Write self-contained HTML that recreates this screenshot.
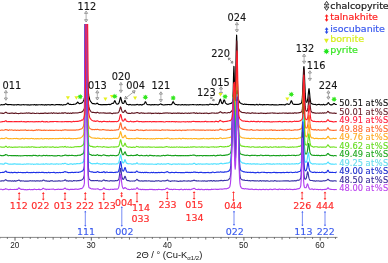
<!DOCTYPE html>
<html><head><meta charset="utf-8"><style>
html,body{margin:0;padding:0;background:#fff;}
body{width:388px;height:263px;overflow:hidden;position:relative;}
svg{position:absolute;left:0;top:0;}
.hk{font-family:"DejaVu Sans",sans-serif;font-size:9.8px;fill:#151515;stroke:#151515;stroke-width:0.12px;}
.lb{font-family:"DejaVu Sans",sans-serif;font-size:8.3px;}
.lg{font-family:"DejaVu Sans",sans-serif;font-size:9.5px;}
.rl{font-family:"DejaVu Sans",sans-serif;font-size:9.5px;fill:#ff2a2a;stroke:#ff2a2a;stroke-width:0.15px;}
.bl{font-family:"DejaVu Sans",sans-serif;font-size:9.5px;fill:#3a5aee;stroke:#3a5aee;stroke-width:0.15px;}
.ax{font-family:"Liberation Sans",sans-serif;font-size:8.2px;fill:#222;}
.xl{font-family:"Liberation Sans",sans-serif;font-size:9.4px;fill:#111;}
</style></head><body>
<svg width="388" height="263" viewBox="0 0 388 263">
<defs><clipPath id="c"><rect x="0" y="24" width="340" height="200"/></clipPath></defs>
<g clip-path="url(#c)" fill="none" stroke-width="1.15" stroke-linejoin="round">
<polyline stroke="#000000" points="0.0,104.89 0.4,105.01 0.8,104.96 1.2,104.79 1.6,104.66 2.0,104.73 2.4,104.77 2.8,104.84 3.2,104.67 3.6,104.70 4.0,104.67 4.4,104.71 4.8,104.40 5.2,104.09 5.6,103.82 6.0,103.91 6.4,104.18 6.8,104.38 7.2,104.57 7.6,104.65 8.0,104.56 8.4,104.55 8.8,104.62 9.2,104.58 9.6,104.46 10.0,104.51 10.4,104.57 10.8,104.51 11.2,104.54 11.6,104.74 12.0,104.85 12.4,104.77 12.8,104.72 13.2,104.82 13.6,104.86 14.0,104.85 14.4,104.89 14.8,104.91 15.2,104.78 15.6,104.71 16.0,104.78 16.4,104.92 16.8,104.82 17.2,104.69 17.6,104.56 18.0,104.52 18.4,104.56 18.8,104.71 19.2,104.79 19.6,104.85 20.0,104.93 20.4,105.02 20.8,104.94 21.2,104.94 21.6,104.81 22.0,104.77 22.4,104.79 22.8,104.76 23.2,104.68 23.6,104.67 24.0,104.84 24.4,104.81 24.8,104.80 25.2,104.77 25.6,104.75 26.0,104.77 26.4,104.77 26.8,104.85 27.2,104.78 27.6,104.85 28.0,104.90 28.4,104.91 28.8,104.86 29.2,104.93 29.6,105.09 30.0,104.94 30.4,104.82 30.8,104.79 31.2,104.89 31.6,104.73 32.0,104.77 32.4,104.73 32.8,104.79 33.2,104.84 33.6,104.83 34.0,104.69 34.4,104.53 34.8,104.64 35.2,104.82 35.6,105.10 36.0,104.96 36.4,104.71 36.8,104.64 37.2,104.92 37.6,105.02 38.0,104.88 38.4,104.75 38.8,104.75 39.2,104.78 39.6,104.70 40.0,104.71 40.4,104.78 40.8,104.82 41.2,104.77 41.6,104.64 42.0,104.59 42.4,104.71 42.8,104.84 43.2,104.73 43.6,104.71 44.0,104.83 44.4,105.08 44.8,105.02 45.2,104.90 45.6,104.61 46.0,104.68 46.4,104.98 46.8,105.06 47.2,104.82 47.6,104.68 48.0,104.71 48.4,104.70 48.8,104.64 49.2,104.72 49.6,104.83 50.0,104.88 50.4,104.91 50.8,104.82 51.2,104.80 51.6,104.59 52.0,104.45 52.4,104.50 52.8,104.67 53.2,104.79 53.6,104.80 54.0,104.94 54.4,104.98 54.8,105.00 55.2,104.89 55.6,104.75 56.0,104.60 56.4,104.57 56.8,104.54 57.2,104.54 57.6,104.58 58.0,104.69 58.4,104.72 58.8,104.56 59.2,104.50 59.6,104.58 60.0,104.81 60.4,104.88 60.8,104.80 61.2,104.63 61.6,104.73 62.0,104.90 62.4,105.05 62.8,105.08 63.2,104.96 63.6,104.77 64.0,104.67 64.4,104.76 64.8,104.76 65.2,104.72 65.6,104.65 66.0,104.43 66.4,104.24 66.8,103.96 67.2,103.67 67.6,103.21 68.0,103.05 68.4,103.36 68.8,103.87 69.2,104.21 69.6,104.39 70.0,104.44 70.4,104.44 70.8,104.42 71.2,104.48 71.6,104.51 72.0,104.57 72.4,104.45 72.8,104.45 73.2,104.39 73.6,104.37 74.0,104.27 74.4,104.26 74.8,104.29 75.2,104.22 75.6,104.07 76.0,103.79 76.4,103.60 76.8,103.22 77.2,102.55 77.6,102.09 78.0,102.23 78.4,102.93 78.8,103.31 79.2,103.60 79.6,103.61 80.0,103.58 80.4,103.42 80.8,103.36 81.2,103.35 81.6,103.12 82.0,102.83 82.4,102.47 82.8,102.00 83.2,101.34 83.6,100.57 84.0,99.43 84.4,97.98 84.8,95.83 85.2,92.77 85.6,88.46 86.0,83.10 86.4,60.65 86.8,22.00 87.2,60.45 87.6,83.01 88.0,88.58 88.4,92.81 88.8,95.69 89.2,97.76 89.6,99.22 90.0,100.38 90.4,101.06 90.8,101.59 91.2,102.03 91.6,102.57 92.0,103.14 92.4,103.46 92.8,103.62 93.2,103.66 93.6,103.61 94.0,103.60 94.4,103.79 94.8,103.97 95.2,104.00 95.6,104.03 96.0,103.93 96.4,103.58 96.8,103.27 97.2,103.18 97.6,103.37 98.0,103.76 98.4,104.23 98.8,104.44 99.2,104.47 99.6,104.51 100.0,104.63 100.4,104.68 100.8,104.61 101.2,104.60 101.6,104.71 102.0,104.85 102.4,104.73 102.8,104.60 103.2,104.67 103.6,104.77 104.0,104.67 104.4,104.67 104.8,104.61 105.2,104.62 105.6,104.55 106.0,104.55 106.4,104.57 106.8,104.66 107.2,104.64 107.6,104.55 108.0,104.53 108.4,104.44 108.8,104.30 109.2,104.37 109.6,104.56 110.0,104.59 110.4,104.49 110.8,104.33 111.2,104.05 111.6,103.76 112.0,103.43 112.4,103.37 112.8,103.48 113.2,103.42 113.6,102.93 114.0,102.17 114.4,101.24 114.8,100.68 115.2,101.16 115.6,102.25 116.0,103.23 116.4,103.74 116.8,104.05 117.2,104.02 117.6,104.12 118.0,104.05 118.4,103.78 118.8,103.15 119.2,102.24 119.6,100.82 120.0,98.83 120.4,97.29 120.6,97.34 120.8,97.65 121.2,99.08 121.6,100.75 122.0,102.36 122.4,103.13 122.8,103.43 123.2,103.50 123.6,103.33 124.0,102.74 124.4,101.55 124.8,100.49 125.0,100.46 125.2,100.70 125.6,101.61 126.0,102.61 126.4,103.56 126.8,104.18 127.2,104.45 127.6,104.49 128.0,104.48 128.4,104.73 128.8,104.97 129.2,104.74 129.6,104.45 130.0,104.37 130.4,104.62 130.8,104.66 131.2,104.86 131.6,104.94 132.0,105.00 132.4,104.88 132.8,104.79 133.2,104.75 133.6,104.84 134.0,104.91 134.4,104.84 134.8,104.82 135.2,104.84 135.6,104.83 136.0,104.67 136.4,104.60 136.8,104.56 137.2,104.41 137.6,104.48 138.0,104.66 138.4,104.84 138.8,104.82 139.2,104.84 139.6,104.87 140.0,104.60 140.4,104.47 140.8,104.53 141.2,104.85 141.6,105.02 142.0,105.07 142.4,104.83 142.8,104.42 143.2,104.26 143.6,104.26 144.0,104.16 144.4,103.54 144.8,102.70 145.2,101.79 145.6,101.79 146.0,102.52 146.4,103.47 146.8,104.08 147.2,104.44 147.6,104.57 148.0,104.62 148.4,104.72 148.8,104.78 149.2,104.75 149.6,104.64 150.0,104.74 150.4,104.84 150.8,104.92 151.2,104.85 151.6,104.81 152.0,104.66 152.4,104.63 152.8,104.72 153.2,104.83 153.6,104.73 154.0,104.62 154.4,104.59 154.8,104.81 155.2,104.72 155.6,104.66 156.0,104.57 156.4,104.76 156.8,104.71 157.2,104.75 157.6,104.85 158.0,104.93 158.4,104.89 158.8,104.76 159.2,104.59 159.6,104.41 160.0,104.18 160.4,103.96 160.8,103.90 161.2,104.11 161.6,104.45 162.0,104.63 162.4,104.67 162.8,104.75 163.2,104.90 163.6,105.03 164.0,104.98 164.4,104.89 164.8,104.74 165.2,104.67 165.6,104.75 166.0,104.82 166.4,104.71 166.8,104.60 167.2,104.51 167.6,104.60 168.0,104.55 168.4,104.52 168.8,104.50 169.2,104.61 169.6,104.56 170.0,104.55 170.4,104.74 170.8,104.74 171.2,104.62 171.6,104.27 172.0,103.83 172.4,102.95 172.8,102.05 173.2,101.71 173.6,102.27 174.0,103.16 174.4,103.74 174.8,104.05 175.2,104.28 175.6,104.50 176.0,104.57 176.4,104.53 176.8,104.53 177.2,104.76 177.6,104.93 178.0,104.90 178.4,104.73 178.8,104.66 179.2,104.70 179.6,104.72 180.0,104.77 180.4,104.96 180.8,105.02 181.2,104.89 181.6,104.80 182.0,104.66 182.4,104.61 182.8,104.54 183.2,104.83 183.6,104.98 184.0,105.03 184.4,104.82 184.8,104.57 185.2,104.55 185.6,104.77 186.0,104.93 186.4,104.87 186.8,104.83 187.2,104.77 187.6,104.74 188.0,104.85 188.4,104.99 188.8,104.89 189.2,104.84 189.6,104.72 190.0,104.68 190.4,104.74 190.8,104.78 191.2,104.79 191.6,104.74 192.0,104.64 192.4,104.52 192.8,104.52 193.2,104.68 193.6,104.63 194.0,104.75 194.4,104.72 194.8,104.79 195.2,104.70 195.6,104.70 196.0,104.77 196.4,104.87 196.8,104.84 197.2,104.64 197.6,104.69 198.0,104.83 198.4,104.89 198.8,104.80 199.2,104.68 199.6,104.59 200.0,104.51 200.4,104.62 200.8,104.75 201.2,104.75 201.6,104.75 202.0,104.82 202.4,104.89 202.8,104.90 203.2,104.84 203.6,104.78 204.0,104.74 204.4,104.77 204.8,104.83 205.2,104.71 205.6,104.77 206.0,104.72 206.4,104.74 206.8,104.54 207.2,104.61 207.6,104.75 208.0,104.94 208.4,104.94 208.8,104.68 209.2,104.40 209.6,104.19 210.0,104.06 210.4,104.07 210.8,104.21 211.2,104.42 211.6,104.52 212.0,104.54 212.4,104.49 212.8,104.40 213.2,104.52 213.6,104.65 214.0,104.75 214.4,104.79 214.8,104.66 215.2,104.50 215.6,104.43 216.0,104.43 216.4,104.36 216.8,104.41 217.2,104.58 217.6,104.63 218.0,104.44 218.4,104.07 218.8,103.55 219.2,102.58 219.6,101.13 220.0,99.64 220.4,99.22 220.8,100.19 221.2,101.61 221.6,102.84 222.0,103.52 222.4,103.63 222.8,103.28 223.2,102.33 223.6,100.99 224.0,99.89 224.4,99.98 224.8,101.03 225.2,102.16 225.6,103.04 226.0,103.60 226.4,103.85 226.8,104.00 227.2,104.20 227.6,104.31 228.0,104.32 228.4,104.22 228.8,104.08 229.2,103.86 229.6,103.71 230.0,103.73 230.4,103.58 230.8,103.53 231.2,103.36 231.6,102.99 232.0,102.49 232.4,101.98 232.8,99.85 233.2,90.85 233.6,73.40 233.9,66.35 234.0,66.84 234.4,80.58 234.8,92.96 235.2,95.30 235.6,89.90 236.0,69.97 236.4,40.70 236.6,35.15 236.7,36.50 236.8,40.66 237.0,54.51 237.2,70.51 237.6,91.13 238.0,97.33 238.4,99.25 238.8,100.42 239.2,101.34 239.6,102.19 240.0,102.74 240.4,103.05 240.8,103.28 241.2,103.53 241.6,103.70 242.0,103.90 242.4,104.03 242.8,104.14 243.2,104.34 243.6,104.45 244.0,104.29 244.4,104.07 244.8,104.13 245.2,104.27 245.6,104.39 246.0,104.28 246.4,104.33 246.8,104.27 247.2,104.47 247.6,104.50 248.0,104.54 248.4,104.44 248.8,104.62 249.2,104.58 249.6,104.53 250.0,104.47 250.4,104.63 250.8,104.69 251.2,104.68 251.6,104.64 252.0,104.60 252.4,104.67 252.8,104.67 253.2,104.64 253.6,104.59 254.0,104.65 254.4,104.88 254.8,104.90 255.2,104.83 255.6,104.79 256.0,104.71 256.4,104.47 256.8,104.28 257.2,104.45 257.6,104.79 258.0,104.97 258.4,105.03 258.8,104.85 259.2,104.60 259.6,104.28 260.0,104.38 260.4,104.67 260.8,104.72 261.2,104.69 261.6,104.63 262.0,104.74 262.4,104.84 262.8,104.91 263.2,104.68 263.6,104.63 264.0,104.66 264.4,104.76 264.8,104.65 265.2,104.74 265.6,104.74 266.0,104.78 266.4,104.64 266.8,104.64 267.2,104.56 267.6,104.55 268.0,104.54 268.4,104.73 268.8,104.69 269.2,104.80 269.6,104.80 270.0,104.76 270.4,104.71 270.8,104.92 271.2,105.00 271.6,104.79 272.0,104.64 272.4,104.63 272.8,104.65 273.2,104.78 273.6,104.91 274.0,104.91 274.4,104.81 274.8,104.79 275.2,104.83 275.6,104.89 276.0,104.87 276.4,104.78 276.8,104.91 277.2,105.02 277.6,104.95 278.0,104.91 278.4,104.93 278.8,104.81 279.2,104.68 279.6,104.65 280.0,104.65 280.4,104.63 280.8,104.71 281.2,104.68 281.6,104.59 282.0,104.56 282.4,104.70 282.8,104.72 283.2,104.67 283.6,104.73 284.0,104.80 284.4,104.87 284.8,104.85 285.2,104.84 285.6,104.51 286.0,104.28 286.4,104.16 286.8,104.04 287.2,103.80 287.6,103.87 288.0,104.17 288.4,104.32 288.8,104.38 289.2,104.32 289.6,104.11 290.0,103.47 290.4,102.73 290.8,101.76 291.2,100.81 291.6,100.92 292.0,101.97 292.4,103.13 292.8,103.77 293.2,104.02 293.6,104.23 294.0,104.33 294.4,104.41 294.8,104.33 295.2,104.35 295.6,104.43 296.0,104.54 296.4,104.52 296.8,104.35 297.2,104.26 297.6,104.37 298.0,104.45 298.4,104.43 298.8,104.28 299.2,104.17 299.6,104.08 300.0,103.87 300.4,103.81 300.8,103.61 301.2,103.32 301.6,102.61 302.0,101.00 302.4,96.93 302.8,89.04 303.2,78.23 303.6,68.93 303.7,67.70 303.8,66.91 303.9,66.64 304.0,66.81 304.4,73.05 304.8,83.63 305.2,93.16 305.6,98.96 306.0,101.45 306.4,102.21 306.8,102.08 307.2,101.47 307.6,99.97 308.0,97.09 308.4,92.99 308.8,89.33 309.0,88.67 309.2,89.45 309.6,93.42 310.0,97.73 310.4,100.71 310.8,102.63 311.2,103.46 311.6,103.60 312.0,103.66 312.4,103.99 312.8,104.24 313.2,104.30 313.6,104.27 314.0,104.45 314.4,104.48 314.8,104.43 315.2,104.29 315.6,104.55 316.0,104.83 316.4,105.01 316.8,104.83 317.2,104.73 317.6,104.53 318.0,104.51 318.4,104.42 318.8,104.45 319.2,104.38 319.6,104.48 320.0,104.64 320.4,104.77 320.8,104.82 321.2,104.70 321.6,104.67 322.0,104.68 322.4,104.82 322.8,104.74 323.2,104.48 323.6,104.31 324.0,104.60 324.4,104.90 324.8,104.87 325.2,104.74 325.6,104.75 326.0,104.76 326.4,104.58 326.8,104.38 327.2,104.07 327.6,103.58 328.0,102.90 328.4,102.59 328.8,103.03 329.2,103.75 329.6,104.25 330.0,104.51 330.4,104.80 330.8,104.89 331.2,104.90 331.6,104.87 332.0,104.84 332.4,104.63 332.8,104.35 333.2,104.13 333.6,103.73 334.0,103.43 334.4,103.54 334.8,103.85 335.2,104.24 335.6,104.50 336.0,104.54 336.4,104.46 336.8,104.55"/>
<polyline stroke="#5e1620" points="0.0,113.00 0.4,113.02 0.8,113.11 1.2,113.24 1.6,113.17 2.0,113.19 2.4,113.19 2.8,113.41 3.2,113.47 3.6,113.41 4.0,113.23 4.4,113.05 4.8,112.92 5.2,112.61 5.6,112.36 6.0,112.30 6.4,112.60 6.8,112.83 7.2,113.18 7.6,113.28 8.0,113.30 8.4,113.21 8.8,113.32 9.2,113.35 9.6,113.36 10.0,113.39 10.4,113.26 10.8,113.17 11.2,113.05 11.6,113.15 12.0,113.10 12.4,113.08 12.8,113.07 13.2,113.28 13.6,113.44 14.0,113.44 14.4,113.44 14.8,113.35 15.2,113.11 15.6,112.95 16.0,113.04 16.4,113.29 16.8,113.52 17.2,113.47 17.6,113.48 18.0,113.53 18.4,113.67 18.8,113.49 19.2,113.54 19.6,113.54 20.0,113.42 20.4,113.23 20.8,113.14 21.2,113.17 21.6,113.20 22.0,113.31 22.4,113.31 22.8,113.24 23.2,113.28 23.6,113.24 24.0,113.33 24.4,113.16 24.8,113.20 25.2,113.12 25.6,113.21 26.0,113.16 26.4,113.04 26.8,112.91 27.2,112.99 27.6,113.23 28.0,113.22 28.4,113.00 28.8,112.87 29.2,113.00 29.6,113.13 30.0,113.12 30.4,113.20 30.8,113.36 31.2,113.48 31.6,113.34 32.0,113.23 32.4,113.18 32.8,113.14 33.2,113.17 33.6,113.25 34.0,113.30 34.4,113.32 34.8,113.42 35.2,113.51 35.6,113.49 36.0,113.50 36.4,113.32 36.8,113.16 37.2,113.20 37.6,113.27 38.0,113.26 38.4,113.23 38.8,113.41 39.2,113.53 39.6,113.56 40.0,113.43 40.4,113.37 40.8,113.37 41.2,113.36 41.6,113.38 42.0,113.41 42.4,113.35 42.8,113.31 43.2,113.30 43.6,113.37 44.0,113.18 44.4,113.14 44.8,113.06 45.2,113.08 45.6,112.94 46.0,113.15 46.4,113.31 46.8,113.41 47.2,113.34 47.6,113.37 48.0,113.36 48.4,113.19 48.8,113.16 49.2,113.13 49.6,113.26 50.0,113.28 50.4,113.20 50.8,112.98 51.2,112.88 51.6,113.06 52.0,113.27 52.4,113.37 52.8,113.16 53.2,112.87 53.6,112.77 54.0,112.95 54.4,113.11 54.8,113.18 55.2,113.21 55.6,113.15 56.0,113.03 56.4,113.06 56.8,113.18 57.2,113.24 57.6,113.39 58.0,113.43 58.4,113.38 58.8,113.14 59.2,113.10 59.6,113.15 60.0,113.28 60.4,113.30 60.8,113.27 61.2,113.24 61.6,113.10 62.0,112.77 62.4,112.90 62.8,113.23 63.2,113.42 63.6,113.06 64.0,112.80 64.4,112.83 64.8,112.74 65.2,112.70 65.6,112.80 66.0,113.13 66.4,113.25 66.8,113.22 67.2,113.38 67.6,113.31 68.0,113.13 68.4,112.96 68.8,113.19 69.2,113.31 69.6,113.33 70.0,113.20 70.4,113.07 70.8,113.08 71.2,113.29 71.6,113.49 72.0,113.35 72.4,113.09 72.8,112.86 73.2,112.86 73.6,113.00 74.0,113.14 74.4,113.03 74.8,112.94 75.2,112.93 75.6,113.02 76.0,112.98 76.4,112.94 76.8,112.95 77.2,112.95 77.6,112.94 78.0,112.81 78.4,112.77 78.8,112.72 79.2,112.54 79.6,112.44 80.0,112.41 80.4,112.53 80.8,112.41 81.2,112.26 81.6,112.05 82.0,111.86 82.4,111.57 82.8,111.08 83.2,110.75 83.6,110.17 84.0,109.37 84.4,108.13 84.8,106.53 85.2,103.84 85.6,99.47 86.0,92.72 86.4,34.34 86.8,22.00 87.2,34.37 87.6,92.63 88.0,99.25 88.4,103.65 88.8,106.40 89.2,108.33 89.6,109.53 90.0,110.22 90.4,110.75 90.8,111.32 91.2,111.84 91.6,112.15 92.0,112.31 92.4,112.28 92.8,112.33 93.2,112.42 93.6,112.42 94.0,112.45 94.4,112.54 94.8,112.67 95.2,112.66 95.6,112.80 96.0,112.88 96.4,112.86 96.8,112.55 97.2,112.29 97.6,112.25 98.0,112.52 98.4,112.76 98.8,112.87 99.2,112.99 99.6,113.11 100.0,113.05 100.4,112.93 100.8,112.89 101.2,112.98 101.6,112.95 102.0,112.94 102.4,112.98 102.8,113.04 103.2,112.90 103.6,112.71 104.0,112.73 104.4,112.93 104.8,113.13 105.2,113.19 105.6,113.06 106.0,113.10 106.4,113.21 106.8,113.32 107.2,113.24 107.6,113.14 108.0,113.06 108.4,113.07 108.8,113.25 109.2,113.30 109.6,113.02 110.0,112.84 110.4,112.94 110.8,113.28 111.2,113.38 111.6,113.52 112.0,113.58 112.4,113.60 112.8,113.47 113.2,113.25 113.6,113.15 114.0,113.17 114.4,113.22 114.8,113.17 115.2,113.17 115.6,113.16 116.0,113.06 116.4,113.00 116.8,113.01 117.2,112.96 117.6,112.94 118.0,112.70 118.4,112.44 118.8,111.89 119.2,111.16 119.6,109.97 120.0,108.51 120.4,107.22 120.6,106.98 120.8,107.30 121.2,108.54 121.6,110.13 122.0,111.21 122.4,111.97 122.8,112.30 123.2,112.44 123.6,112.29 124.0,111.90 124.4,111.20 124.8,110.52 125.0,110.38 125.2,110.43 125.6,111.04 126.0,111.79 126.4,112.56 126.8,112.86 127.2,113.13 127.6,113.12 128.0,113.31 128.4,113.32 128.8,113.37 129.2,113.30 129.6,113.35 130.0,113.43 130.4,113.52 130.8,113.44 131.2,113.19 131.6,112.84 132.0,112.81 132.4,113.02 132.8,113.28 133.2,113.31 133.6,113.21 134.0,113.12 134.4,113.08 134.8,113.13 135.2,113.04 135.6,112.99 136.0,112.80 136.4,112.70 136.8,112.49 137.2,112.56 137.6,112.64 138.0,112.76 138.4,112.88 138.8,112.97 139.2,113.25 139.6,113.34 140.0,113.31 140.4,113.08 140.8,113.04 141.2,112.90 141.6,112.89 142.0,113.05 142.4,113.13 142.8,113.11 143.2,113.03 143.6,113.12 144.0,113.17 144.4,113.31 144.8,113.35 145.2,113.27 145.6,113.27 146.0,113.24 146.4,113.29 146.8,113.30 147.2,113.32 147.6,113.17 148.0,113.14 148.4,113.13 148.8,113.11 149.2,112.99 149.6,113.13 150.0,113.24 150.4,113.12 150.8,113.06 151.2,113.31 151.6,113.64 152.0,113.54 152.4,113.33 152.8,113.25 153.2,113.37 153.6,113.38 154.0,113.24 154.4,113.20 154.8,113.29 155.2,113.27 155.6,113.13 156.0,113.13 156.4,113.25 156.8,113.31 157.2,113.36 157.6,113.41 158.0,113.35 158.4,113.18 158.8,113.15 159.2,113.31 159.6,113.58 160.0,113.55 160.4,113.39 160.8,113.35 161.2,113.50 161.6,113.52 162.0,113.44 162.4,113.28 162.8,113.26 163.2,113.18 163.6,113.19 164.0,113.15 164.4,113.17 164.8,113.01 165.2,112.91 165.6,112.97 166.0,113.10 166.4,113.04 166.8,112.92 167.2,112.92 167.6,113.05 168.0,113.07 168.4,113.08 168.8,113.08 169.2,113.11 169.6,113.00 170.0,113.01 170.4,113.05 170.8,113.30 171.2,113.38 171.6,113.38 172.0,113.18 172.4,113.33 172.8,113.33 173.2,113.28 173.6,113.10 174.0,113.15 174.4,113.17 174.8,113.31 175.2,113.25 175.6,113.18 176.0,113.26 176.4,113.37 176.8,113.30 177.2,113.12 177.6,112.95 178.0,112.91 178.4,113.13 178.8,113.32 179.2,113.15 179.6,113.05 180.0,113.14 180.4,113.35 180.8,113.42 181.2,113.39 181.6,113.32 182.0,113.13 182.4,113.18 182.8,113.23 183.2,113.43 183.6,113.45 184.0,113.41 184.4,113.28 184.8,113.14 185.2,112.99 185.6,112.96 186.0,113.09 186.4,113.17 186.8,113.20 187.2,113.24 187.6,113.34 188.0,113.23 188.4,113.06 188.8,113.06 189.2,113.23 189.6,113.35 190.0,113.24 190.4,113.16 190.8,113.16 191.2,113.15 191.6,113.00 192.0,113.02 192.4,112.99 192.8,113.01 193.2,112.87 193.6,112.89 194.0,112.72 194.4,112.82 194.8,113.03 195.2,113.30 195.6,113.38 196.0,113.32 196.4,112.99 196.8,112.87 197.2,113.12 197.6,113.47 198.0,113.40 198.4,113.25 198.8,113.20 199.2,113.11 199.6,113.02 200.0,112.98 200.4,113.23 200.8,113.29 201.2,113.40 201.6,113.34 202.0,113.22 202.4,113.23 202.8,113.25 203.2,113.34 203.6,113.34 204.0,113.40 204.4,113.21 204.8,113.14 205.2,113.24 205.6,113.21 206.0,113.02 206.4,112.99 206.8,113.17 207.2,113.26 207.6,113.31 208.0,113.38 208.4,113.52 208.8,113.57 209.2,113.54 209.6,113.32 210.0,113.23 210.4,113.23 210.8,113.31 211.2,113.13 211.6,112.96 212.0,112.87 212.4,112.96 212.8,113.01 213.2,113.00 213.6,112.96 214.0,113.10 214.4,113.17 214.8,113.17 215.2,113.22 215.6,113.25 216.0,113.25 216.4,113.09 216.8,113.08 217.2,113.06 217.6,113.13 218.0,113.03 218.4,112.86 218.8,112.67 219.2,112.42 219.6,112.17 220.0,111.89 220.4,111.70 220.8,111.92 221.2,112.28 221.6,112.70 222.0,112.82 222.4,112.80 222.8,112.85 223.2,112.99 223.6,113.00 224.0,112.73 224.4,112.63 224.8,112.65 225.2,112.73 225.6,112.81 226.0,113.01 226.4,113.00 226.8,112.98 227.2,112.96 227.6,112.90 228.0,112.57 228.4,112.45 228.8,112.51 229.2,112.71 229.6,112.68 230.0,112.53 230.4,112.29 230.8,111.91 231.2,111.52 231.6,111.03 232.0,110.73 232.4,109.99 232.8,107.91 233.2,103.36 233.6,95.61 233.9,89.94 234.0,88.44 234.4,87.83 234.8,93.63 235.2,98.73 235.6,94.90 236.0,76.20 236.4,49.59 236.6,41.81 236.7,40.75 236.8,41.86 237.0,50.12 237.2,63.41 237.6,89.77 238.0,103.27 238.4,107.57 238.8,108.93 239.2,109.78 239.6,110.53 240.0,111.20 240.4,111.61 240.8,111.76 241.2,111.89 241.6,112.14 242.0,112.45 242.4,112.56 242.8,112.49 243.2,112.55 243.6,112.60 244.0,112.75 244.4,112.63 244.8,112.74 245.2,112.73 245.6,112.93 246.0,113.08 246.4,113.27 246.8,113.11 247.2,112.87 247.6,112.75 248.0,112.90 248.4,113.05 248.8,113.14 249.2,113.12 249.6,113.15 250.0,113.21 250.4,113.32 250.8,113.31 251.2,113.24 251.6,112.99 252.0,112.85 252.4,112.80 252.8,112.88 253.2,112.99 253.6,113.16 254.0,113.24 254.4,113.15 254.8,113.04 255.2,113.09 255.6,113.10 256.0,113.16 256.4,113.20 256.8,113.26 257.2,113.29 257.6,113.29 258.0,113.26 258.4,113.34 258.8,113.37 259.2,113.38 259.6,113.27 260.0,113.23 260.4,113.12 260.8,113.06 261.2,113.09 261.6,113.10 262.0,113.11 262.4,113.21 262.8,113.29 263.2,113.37 263.6,113.33 264.0,113.39 264.4,113.27 264.8,113.23 265.2,113.38 265.6,113.55 266.0,113.57 266.4,113.40 266.8,113.38 267.2,113.23 267.6,113.10 268.0,113.08 268.4,113.26 268.8,113.30 269.2,113.23 269.6,113.14 270.0,113.16 270.4,113.08 270.8,112.98 271.2,112.98 271.6,112.98 272.0,112.97 272.4,112.94 272.8,113.00 273.2,113.08 273.6,113.13 274.0,113.19 274.4,113.10 274.8,113.06 275.2,113.11 275.6,113.24 276.0,113.26 276.4,113.23 276.8,113.23 277.2,113.28 277.6,113.37 278.0,113.36 278.4,113.33 278.8,113.26 279.2,113.27 279.6,113.14 280.0,113.13 280.4,113.21 280.8,113.29 281.2,113.24 281.6,113.22 282.0,113.15 282.4,113.14 282.8,113.03 283.2,113.05 283.6,112.95 284.0,113.02 284.4,113.11 284.8,113.22 285.2,113.19 285.6,113.17 286.0,113.19 286.4,113.17 286.8,113.10 287.2,113.23 287.6,113.36 288.0,113.40 288.4,113.19 288.8,113.14 289.2,113.05 289.6,113.12 290.0,113.03 290.4,113.23 290.8,113.14 291.2,113.22 291.6,113.20 292.0,113.18 292.4,113.00 292.8,113.08 293.2,113.33 293.6,113.20 294.0,112.98 294.4,112.82 294.8,112.84 295.2,112.82 295.6,113.04 296.0,113.17 296.4,113.14 296.8,112.94 297.2,112.95 297.6,113.01 298.0,112.92 298.4,112.89 298.8,112.76 299.2,112.67 299.6,112.52 300.0,112.63 300.4,112.51 300.8,112.25 301.2,111.97 301.6,111.68 302.0,111.01 302.4,108.91 302.8,102.64 303.2,89.55 303.6,74.57 303.7,72.04 303.8,70.49 303.9,69.76 304.0,70.14 304.4,81.18 304.8,96.68 305.2,106.17 305.6,109.67 306.0,110.80 306.4,111.14 306.8,111.15 307.2,110.75 307.6,109.71 308.0,107.38 308.4,103.69 308.8,99.16 309.0,97.41 309.2,96.78 309.6,99.19 310.0,103.66 310.4,107.56 310.8,110.13 311.2,111.45 311.6,112.00 312.0,112.24 312.4,112.63 312.8,112.77 313.2,112.81 313.6,112.58 314.0,112.65 314.4,112.87 314.8,113.07 315.2,113.14 315.6,113.03 316.0,113.16 316.4,113.20 316.8,113.12 317.2,113.02 317.6,113.04 318.0,113.16 318.4,113.15 318.8,113.20 319.2,113.17 319.6,113.10 320.0,112.94 320.4,113.00 320.8,113.12 321.2,113.23 321.6,113.13 322.0,112.97 322.4,112.82 322.8,112.98 323.2,113.13 323.6,113.14 324.0,112.93 324.4,112.92 324.8,112.93 325.2,113.01 325.6,113.01 326.0,112.93 326.4,112.74 326.8,112.45 327.2,112.05 327.6,111.52 328.0,111.35 328.4,111.68 328.8,112.24 329.2,112.54 329.6,112.89 330.0,112.99 330.4,112.94 330.8,112.81 331.2,112.97 331.6,113.06 332.0,113.20 332.4,113.22 332.8,113.17 333.2,113.02 333.6,113.20 334.0,113.30 334.4,113.16 334.8,113.05 335.2,113.26 335.6,113.46 336.0,113.39 336.4,113.27 336.8,113.22"/>
<polyline stroke="#ff6a2a" points="0.0,130.30 0.4,130.34 0.8,130.25 1.2,130.18 1.6,129.98 2.0,130.03 2.4,130.08 2.8,130.26 3.2,130.28 3.6,130.25 4.0,130.22 4.4,130.05 4.8,129.93 5.2,129.63 5.6,129.46 6.0,129.55 6.4,129.76 6.8,129.86 7.2,129.88 7.6,130.05 8.0,130.36 8.4,130.42 8.8,130.17 9.2,129.89 9.6,129.85 10.0,129.94 10.4,130.02 10.8,130.08 11.2,130.05 11.6,129.92 12.0,129.98 12.4,130.02 12.8,130.22 13.2,130.34 13.6,130.33 14.0,130.17 14.4,130.11 14.8,130.24 15.2,130.16 15.6,130.09 16.0,130.21 16.4,130.38 16.8,130.36 17.2,130.22 17.6,130.14 18.0,130.16 18.4,130.24 18.8,130.32 19.2,130.30 19.6,130.35 20.0,130.20 20.4,130.12 20.8,130.07 21.2,130.20 21.6,130.13 22.0,130.09 22.4,130.14 22.8,130.24 23.2,130.26 23.6,130.16 24.0,130.17 24.4,130.20 24.8,130.04 25.2,129.91 25.6,129.93 26.0,130.18 26.4,130.37 26.8,130.34 27.2,130.37 27.6,130.34 28.0,130.41 28.4,130.23 28.8,130.15 29.2,130.22 29.6,130.30 30.0,130.29 30.4,130.28 30.8,130.45 31.2,130.36 31.6,130.18 32.0,130.08 32.4,130.34 32.8,130.58 33.2,130.60 33.6,130.43 34.0,130.32 34.4,130.42 34.8,130.37 35.2,130.34 35.6,130.23 36.0,130.01 36.4,129.79 36.8,129.90 37.2,130.20 37.6,130.14 38.0,129.92 38.4,129.87 38.8,129.83 39.2,129.92 39.6,130.10 40.0,130.14 40.4,130.06 40.8,130.06 41.2,130.37 41.6,130.37 42.0,130.34 42.4,130.23 42.8,130.29 43.2,130.34 43.6,130.32 44.0,130.13 44.4,130.12 44.8,130.16 45.2,130.40 45.6,130.41 46.0,130.35 46.4,130.17 46.8,130.21 47.2,130.23 47.6,130.20 48.0,130.26 48.4,130.46 48.8,130.49 49.2,130.23 49.6,130.17 50.0,130.19 50.4,130.43 50.8,130.43 51.2,130.49 51.6,130.21 52.0,130.16 52.4,130.20 52.8,130.36 53.2,130.30 53.6,130.38 54.0,130.48 54.4,130.46 54.8,130.20 55.2,130.11 55.6,130.24 56.0,130.27 56.4,130.24 56.8,130.09 57.2,130.22 57.6,130.26 58.0,130.35 58.4,130.32 58.8,130.28 59.2,130.24 59.6,130.30 60.0,130.26 60.4,130.20 60.8,130.44 61.2,130.58 61.6,130.47 62.0,130.12 62.4,130.12 62.8,130.07 63.2,130.18 63.6,130.14 64.0,130.02 64.4,129.93 64.8,129.90 65.2,129.87 65.6,129.85 66.0,129.90 66.4,130.03 66.8,130.09 67.2,130.13 67.6,130.15 68.0,130.08 68.4,130.13 68.8,129.98 69.2,130.12 69.6,130.15 70.0,130.24 70.4,130.05 70.8,130.06 71.2,130.09 71.6,130.11 72.0,130.14 72.4,130.14 72.8,130.09 73.2,130.03 73.6,130.15 74.0,130.16 74.4,130.10 74.8,130.01 75.2,130.06 75.6,130.15 76.0,130.08 76.4,129.92 76.8,129.80 77.2,129.88 77.6,129.98 78.0,129.97 78.4,129.85 78.8,129.77 79.2,129.63 79.6,129.41 80.0,129.20 80.4,129.18 80.8,129.11 81.2,128.93 81.6,128.80 82.0,128.48 82.4,128.02 82.8,127.42 83.2,126.78 83.6,125.63 84.0,123.77 84.4,117.83 84.8,40.09 85.2,22.00 85.6,22.00 86.0,22.00 86.4,22.00 86.8,22.00 87.2,76.29 87.6,105.43 88.0,118.14 88.4,124.64 88.8,126.76 89.2,127.61 89.6,128.08 90.0,128.44 90.4,128.78 90.8,128.93 91.2,129.14 91.6,129.47 92.0,129.70 92.4,129.65 92.8,129.43 93.2,129.51 93.6,129.46 94.0,129.63 94.4,129.69 94.8,129.68 95.2,129.51 95.6,129.43 96.0,129.48 96.4,129.57 96.8,129.54 97.2,129.33 97.6,129.24 98.0,129.46 98.4,129.56 98.8,129.72 99.2,129.88 99.6,129.91 100.0,129.90 100.4,129.85 100.8,129.96 101.2,130.00 101.6,130.03 102.0,129.83 102.4,129.62 102.8,129.63 103.2,129.68 103.6,129.68 104.0,129.72 104.4,129.77 104.8,129.88 105.2,129.92 105.6,130.00 106.0,130.07 106.4,130.05 106.8,130.15 107.2,130.13 107.6,130.19 108.0,130.04 108.4,130.13 108.8,130.15 109.2,130.28 109.6,130.37 110.0,130.28 110.4,130.37 110.8,130.39 111.2,130.33 111.6,129.97 112.0,130.10 112.4,130.38 112.8,130.47 113.2,130.30 113.6,130.29 114.0,130.30 114.4,130.17 114.8,130.05 115.2,130.10 115.6,130.14 116.0,130.01 116.4,129.94 116.8,129.82 117.2,129.75 117.6,129.74 118.0,129.82 118.4,129.63 118.8,129.07 119.2,128.22 119.6,126.77 120.0,124.76 120.4,123.19 120.6,122.79 120.8,122.91 121.2,124.49 121.6,126.70 122.0,128.23 122.4,128.93 122.8,129.27 123.2,129.47 123.6,129.23 124.0,128.57 124.4,127.65 124.8,127.03 125.0,127.03 125.2,127.19 125.6,127.97 126.0,128.76 126.4,129.36 126.8,129.61 127.2,129.76 127.6,129.93 128.0,130.06 128.4,130.05 128.8,129.96 129.2,129.95 129.6,130.06 130.0,130.17 130.4,130.35 130.8,130.23 131.2,130.11 131.6,130.20 132.0,130.31 132.4,130.37 132.8,130.39 133.2,130.31 133.6,130.23 134.0,130.23 134.4,130.39 134.8,130.41 135.2,130.38 135.6,130.23 136.0,130.02 136.4,129.81 136.8,129.67 137.2,129.49 137.6,129.73 138.0,129.92 138.4,130.17 138.8,130.16 139.2,130.23 139.6,130.21 140.0,130.20 140.4,130.07 140.8,129.98 141.2,130.10 141.6,130.19 142.0,130.10 142.4,130.17 142.8,130.42 143.2,130.60 143.6,130.45 144.0,130.34 144.4,130.29 144.8,130.34 145.2,130.31 145.6,130.12 146.0,129.99 146.4,129.90 146.8,130.11 147.2,130.22 147.6,130.27 148.0,130.18 148.4,130.22 148.8,130.27 149.2,130.21 149.6,130.06 150.0,130.13 150.4,130.21 150.8,130.23 151.2,130.04 151.6,130.04 152.0,130.09 152.4,130.22 152.8,130.20 153.2,130.17 153.6,130.10 154.0,130.25 154.4,130.18 154.8,130.18 155.2,130.17 155.6,130.18 156.0,130.13 156.4,130.12 156.8,130.16 157.2,130.11 157.6,130.19 158.0,130.30 158.4,130.27 158.8,130.16 159.2,130.18 159.6,130.32 160.0,130.42 160.4,130.43 160.8,130.45 161.2,130.29 161.6,130.05 162.0,129.76 162.4,129.92 162.8,129.93 163.2,130.02 163.6,130.07 164.0,130.15 164.4,130.05 164.8,129.98 165.2,130.14 165.6,130.08 166.0,130.01 166.4,129.97 166.8,129.99 167.2,129.88 167.6,129.95 168.0,130.09 168.4,130.16 168.8,130.10 169.2,130.16 169.6,130.19 170.0,130.24 170.4,130.23 170.8,130.33 171.2,130.25 171.6,130.20 172.0,130.16 172.4,130.26 172.8,130.34 173.2,130.36 173.6,130.38 174.0,130.46 174.4,130.52 174.8,130.34 175.2,130.04 175.6,130.02 176.0,130.12 176.4,130.23 176.8,130.18 177.2,130.29 177.6,130.40 178.0,130.33 178.4,130.19 178.8,130.11 179.2,130.08 179.6,130.09 180.0,130.15 180.4,130.26 180.8,130.41 181.2,130.57 181.6,130.59 182.0,130.37 182.4,130.14 182.8,130.13 183.2,130.20 183.6,130.26 184.0,130.14 184.4,130.16 184.8,130.35 185.2,130.41 185.6,130.32 186.0,130.15 186.4,130.21 186.8,130.14 187.2,129.95 187.6,129.87 188.0,129.98 188.4,130.06 188.8,130.01 189.2,129.95 189.6,129.98 190.0,130.06 190.4,130.01 190.8,129.96 191.2,130.01 191.6,130.14 192.0,130.06 192.4,129.95 192.8,129.93 193.2,130.01 193.6,129.82 194.0,129.73 194.4,129.72 194.8,129.94 195.2,130.06 195.6,130.11 196.0,130.03 196.4,129.99 196.8,130.14 197.2,130.18 197.6,130.05 198.0,129.93 198.4,130.01 198.8,130.24 199.2,130.27 199.6,130.17 200.0,130.08 200.4,130.11 200.8,130.06 201.2,130.02 201.6,130.06 202.0,130.16 202.4,130.19 202.8,130.09 203.2,130.02 203.6,129.97 204.0,130.12 204.4,130.31 204.8,130.40 205.2,130.41 205.6,130.31 206.0,130.22 206.4,130.00 206.8,130.02 207.2,130.04 207.6,130.13 208.0,130.16 208.4,130.18 208.8,130.07 209.2,130.01 209.6,130.05 210.0,130.13 210.4,130.18 210.8,130.19 211.2,130.14 211.6,130.22 212.0,130.36 212.4,130.35 212.8,130.12 213.2,129.99 213.6,130.03 214.0,130.18 214.4,130.40 214.8,130.39 215.2,130.27 215.6,130.07 216.0,130.07 216.4,130.04 216.8,129.96 217.2,130.01 217.6,130.08 218.0,130.21 218.4,130.09 218.8,129.98 219.2,129.80 219.6,129.50 220.0,129.09 220.4,129.04 220.8,129.40 221.2,129.56 221.6,129.57 222.0,129.60 222.4,129.73 222.8,129.93 223.2,130.01 223.6,130.14 224.0,130.06 224.4,129.97 224.8,129.91 225.2,130.03 225.6,130.15 226.0,130.16 226.4,130.15 226.8,130.08 227.2,129.76 227.6,129.50 228.0,129.40 228.4,129.50 228.8,129.52 229.2,129.36 229.6,129.27 230.0,129.25 230.4,129.15 230.8,128.84 231.2,128.38 231.6,127.83 232.0,126.56 232.4,123.25 232.8,115.87 233.2,103.57 233.6,90.15 233.9,84.37 234.0,83.92 234.4,89.36 234.8,101.34 235.2,110.89 235.6,111.70 236.0,102.06 236.4,85.72 236.6,78.05 236.7,75.11 236.8,72.71 237.0,70.69 237.2,72.75 237.6,86.51 238.0,104.33 238.4,117.17 238.8,123.59 239.2,126.08 239.6,127.23 240.0,127.68 240.4,127.98 240.8,128.31 241.2,128.67 241.6,128.76 242.0,128.90 242.4,129.07 242.8,129.31 243.2,129.38 243.6,129.39 244.0,129.40 244.4,129.54 244.8,129.66 245.2,129.66 245.6,129.71 246.0,129.74 246.4,129.86 246.8,129.79 247.2,129.86 247.6,129.87 248.0,129.95 248.4,129.98 248.8,130.05 249.2,130.07 249.6,130.05 250.0,129.94 250.4,129.89 250.8,129.76 251.2,129.64 251.6,129.63 252.0,129.83 252.4,130.12 252.8,130.24 253.2,130.32 253.6,130.21 254.0,130.16 254.4,130.19 254.8,130.27 255.2,130.25 255.6,130.18 256.0,130.07 256.4,129.95 256.8,129.84 257.2,129.93 257.6,130.03 258.0,130.07 258.4,130.06 258.8,130.06 259.2,130.17 259.6,130.33 260.0,130.43 260.4,130.27 260.8,129.99 261.2,130.09 261.6,130.26 262.0,130.25 262.4,130.14 262.8,130.04 263.2,130.03 263.6,129.96 264.0,130.06 264.4,130.01 264.8,130.19 265.2,130.27 265.6,130.32 266.0,130.16 266.4,130.07 266.8,129.96 267.2,130.00 267.6,130.20 268.0,130.24 268.4,130.22 268.8,130.14 269.2,130.19 269.6,130.01 270.0,130.00 270.4,129.99 270.8,130.10 271.2,129.84 271.6,129.76 272.0,129.89 272.4,130.31 272.8,130.38 273.2,130.21 273.6,130.08 274.0,130.18 274.4,130.18 274.8,130.11 275.2,130.07 275.6,130.16 276.0,130.25 276.4,130.42 276.8,130.46 277.2,130.43 277.6,130.31 278.0,130.30 278.4,130.19 278.8,130.29 279.2,130.32 279.6,130.45 280.0,130.26 280.4,130.26 280.8,130.23 281.2,130.26 281.6,130.12 282.0,130.01 282.4,130.15 282.8,130.36 283.2,130.42 283.6,130.27 284.0,130.13 284.4,129.96 284.8,129.78 285.2,129.79 285.6,129.94 286.0,130.00 286.4,130.07 286.8,130.17 287.2,130.26 287.6,130.06 288.0,129.95 288.4,129.98 288.8,130.01 289.2,129.83 289.6,129.95 290.0,130.19 290.4,130.29 290.8,130.24 291.2,130.32 291.6,130.36 292.0,130.24 292.4,130.20 292.8,130.28 293.2,130.28 293.6,130.16 294.0,130.07 294.4,129.87 294.8,129.79 295.2,129.77 295.6,129.95 296.0,129.92 296.4,129.95 296.8,129.95 297.2,129.93 297.6,129.86 298.0,129.83 298.4,129.75 298.8,129.74 299.2,129.54 299.6,129.42 300.0,129.30 300.4,129.17 300.8,128.85 301.2,128.63 301.6,128.28 302.0,127.16 302.4,123.24 302.8,112.75 303.2,94.43 303.6,80.57 303.7,80.00 303.8,80.73 303.9,82.69 304.0,85.70 304.4,104.26 304.8,119.23 305.2,125.67 305.6,127.54 306.0,128.00 306.4,128.03 306.8,127.99 307.2,127.43 307.6,125.98 308.0,123.21 308.4,119.27 308.8,115.59 309.0,114.99 309.2,115.62 309.6,119.31 310.0,123.38 310.4,126.42 310.8,128.16 311.2,129.07 311.6,129.37 312.0,129.47 312.4,129.47 312.8,129.62 313.2,129.69 313.6,129.83 314.0,129.92 314.4,129.92 314.8,129.63 315.2,129.45 315.6,129.68 316.0,130.00 316.4,130.13 316.8,130.01 317.2,130.04 317.6,129.92 318.0,129.75 318.4,129.60 318.8,129.77 319.2,130.02 319.6,130.20 320.0,130.19 320.4,130.03 320.8,130.03 321.2,130.07 321.6,130.14 322.0,130.08 322.4,130.06 322.8,130.00 323.2,129.95 323.6,129.89 324.0,129.94 324.4,130.00 324.8,130.15 325.2,130.00 325.6,130.00 326.0,129.91 326.4,129.84 326.8,129.36 327.2,128.76 327.6,128.03 328.0,127.82 328.4,128.25 328.8,129.02 329.2,129.57 329.6,129.88 330.0,129.95 330.4,129.94 330.8,130.10 331.2,130.18 331.6,130.22 332.0,130.21 332.4,130.21 332.8,130.34 333.2,130.28 333.6,130.31 334.0,130.32 334.4,130.31 334.8,130.22 335.2,130.19 335.6,130.33 336.0,130.19 336.4,130.14 336.8,130.11"/>
<polyline stroke="#ffb21e" points="0.0,138.54 0.4,138.66 0.8,138.77 1.2,138.58 1.6,138.32 2.0,138.26 2.4,138.51 2.8,138.61 3.2,138.52 3.6,138.49 4.0,138.58 4.4,138.62 4.8,138.32 5.2,138.16 5.6,137.98 6.0,137.85 6.4,137.81 6.8,138.00 7.2,138.30 7.6,138.55 8.0,138.62 8.4,138.57 8.8,138.69 9.2,138.83 9.6,138.79 10.0,138.61 10.4,138.53 10.8,138.58 11.2,138.69 11.6,138.76 12.0,138.75 12.4,138.70 12.8,138.73 13.2,138.62 13.6,138.56 14.0,138.42 14.4,138.48 14.8,138.56 15.2,138.64 15.6,138.54 16.0,138.45 16.4,138.42 16.8,138.55 17.2,138.69 17.6,138.68 18.0,138.65 18.4,138.78 18.8,138.88 19.2,138.96 19.6,138.91 20.0,138.97 20.4,138.80 20.8,138.81 21.2,138.66 21.6,138.66 22.0,138.58 22.4,138.51 22.8,138.34 23.2,138.47 23.6,138.72 24.0,138.90 24.4,138.85 24.8,138.57 25.2,138.41 25.6,138.43 26.0,138.59 26.4,138.54 26.8,138.53 27.2,138.49 27.6,138.61 28.0,138.75 28.4,138.76 28.8,138.60 29.2,138.65 29.6,138.76 30.0,138.79 30.4,138.62 30.8,138.53 31.2,138.45 31.6,138.38 32.0,138.46 32.4,138.59 32.8,138.67 33.2,138.53 33.6,138.60 34.0,138.83 34.4,138.98 34.8,138.95 35.2,138.71 35.6,138.62 36.0,138.60 36.4,138.81 36.8,138.83 37.2,138.71 37.6,138.56 38.0,138.55 38.4,138.72 38.8,138.82 39.2,138.86 39.6,138.76 40.0,138.77 40.4,138.72 40.8,138.61 41.2,138.39 41.6,138.49 42.0,138.68 42.4,138.85 42.8,138.76 43.2,138.84 43.6,138.75 44.0,138.77 44.4,138.64 44.8,138.63 45.2,138.46 45.6,138.51 46.0,138.55 46.4,138.67 46.8,138.63 47.2,138.52 47.6,138.51 48.0,138.70 48.4,138.88 48.8,138.82 49.2,138.73 49.6,138.56 50.0,138.49 50.4,138.58 50.8,138.77 51.2,138.72 51.6,138.66 52.0,138.66 52.4,138.75 52.8,138.60 53.2,138.52 53.6,138.51 54.0,138.66 54.4,138.74 54.8,138.72 55.2,138.67 55.6,138.65 56.0,138.74 56.4,138.65 56.8,138.53 57.2,138.47 57.6,138.60 58.0,138.71 58.4,138.64 58.8,138.61 59.2,138.45 59.6,138.44 60.0,138.38 60.4,138.49 60.8,138.51 61.2,138.50 61.6,138.49 62.0,138.51 62.4,138.41 62.8,138.28 63.2,138.25 63.6,138.41 64.0,138.53 64.4,138.68 64.8,138.59 65.2,138.39 65.6,138.26 66.0,138.44 66.4,138.59 66.8,138.53 67.2,138.46 67.6,138.47 68.0,138.45 68.4,138.33 68.8,138.43 69.2,138.43 69.6,138.44 70.0,138.39 70.4,138.64 70.8,138.71 71.2,138.64 71.6,138.58 72.0,138.54 72.4,138.70 72.8,138.79 73.2,138.80 73.6,138.66 74.0,138.56 74.4,138.47 74.8,138.45 75.2,138.50 75.6,138.59 76.0,138.58 76.4,138.64 76.8,138.63 77.2,138.51 77.6,138.35 78.0,138.26 78.4,138.22 78.8,138.13 79.2,138.17 79.6,138.19 80.0,138.22 80.4,137.94 80.8,137.70 81.2,137.37 81.6,137.16 82.0,136.85 82.4,136.49 82.8,135.97 83.2,135.38 83.6,134.42 84.0,132.68 84.4,126.15 84.8,42.52 85.2,22.00 85.6,22.00 86.0,22.00 86.4,22.00 86.8,22.00 87.2,78.59 87.6,110.99 88.0,125.48 88.4,132.83 88.8,135.51 89.2,136.29 89.6,136.61 90.0,136.79 90.4,136.98 90.8,137.27 91.2,137.57 91.6,137.78 92.0,137.88 92.4,138.02 92.8,137.98 93.2,137.97 93.6,138.01 94.0,138.15 94.4,138.14 94.8,138.01 95.2,138.06 95.6,138.24 96.0,138.53 96.4,138.47 96.8,138.33 97.2,138.12 97.6,138.07 98.0,138.13 98.4,138.19 98.8,138.31 99.2,138.37 99.6,138.40 100.0,138.47 100.4,138.63 100.8,138.75 101.2,138.71 101.6,138.75 102.0,138.72 102.4,138.49 102.8,138.21 103.2,138.21 103.6,138.30 104.0,138.25 104.4,138.33 104.8,138.49 105.2,138.75 105.6,138.81 106.0,138.76 106.4,138.62 106.8,138.50 107.2,138.46 107.6,138.43 108.0,138.53 108.4,138.72 108.8,138.70 109.2,138.66 109.6,138.60 110.0,138.63 110.4,138.66 110.8,138.66 111.2,138.74 111.6,138.68 112.0,138.59 112.4,138.53 112.8,138.48 113.2,138.40 113.6,138.33 114.0,138.46 114.4,138.52 114.8,138.37 115.2,138.22 115.6,138.28 116.0,138.49 116.4,138.49 116.8,138.40 117.2,138.36 117.6,138.44 118.0,138.26 118.4,138.09 118.8,137.58 119.2,136.81 119.6,135.41 120.0,133.57 120.4,131.97 120.6,131.72 120.8,132.10 121.2,133.44 121.6,135.07 122.0,136.44 122.4,137.45 122.8,137.79 123.2,137.70 123.6,137.46 124.0,136.93 124.4,136.12 124.8,135.44 125.0,135.42 125.2,135.32 125.6,136.08 126.0,137.17 126.4,138.13 126.8,138.48 127.2,138.43 127.6,138.45 128.0,138.53 128.4,138.73 128.8,138.65 129.2,138.60 129.6,138.52 130.0,138.66 130.4,138.76 130.8,138.73 131.2,138.51 131.6,138.50 132.0,138.57 132.4,138.66 132.8,138.71 133.2,138.78 133.6,138.76 134.0,138.69 134.4,138.64 134.8,138.68 135.2,138.70 135.6,138.64 136.0,138.39 136.4,138.21 136.8,138.16 137.2,138.15 137.6,138.22 138.0,138.32 138.4,138.34 138.8,138.33 139.2,138.51 139.6,138.66 140.0,138.58 140.4,138.59 140.8,138.61 141.2,138.54 141.6,138.45 142.0,138.60 142.4,138.74 142.8,138.72 143.2,138.63 143.6,138.59 144.0,138.61 144.4,138.56 144.8,138.46 145.2,138.54 145.6,138.63 146.0,138.91 146.4,138.98 146.8,138.88 147.2,138.63 147.6,138.63 148.0,138.73 148.4,138.76 148.8,138.77 149.2,138.73 149.6,138.73 150.0,138.88 150.4,138.90 150.8,138.76 151.2,138.65 151.6,138.80 152.0,138.90 152.4,138.93 152.8,138.84 153.2,138.74 153.6,138.69 154.0,138.76 154.4,138.91 154.8,139.00 155.2,138.81 155.6,138.66 156.0,138.56 156.4,138.50 156.8,138.44 157.2,138.54 157.6,138.65 158.0,138.52 158.4,138.44 158.8,138.45 159.2,138.46 159.6,138.49 160.0,138.55 160.4,138.66 160.8,138.68 161.2,138.68 161.6,138.59 162.0,138.46 162.4,138.48 162.8,138.67 163.2,138.77 163.6,138.70 164.0,138.63 164.4,138.49 164.8,138.40 165.2,138.37 165.6,138.49 166.0,138.49 166.4,138.41 166.8,138.21 167.2,138.09 167.6,138.17 168.0,138.25 168.4,138.26 168.8,138.30 169.2,138.60 169.6,138.81 170.0,138.94 170.4,138.95 170.8,138.87 171.2,138.70 171.6,138.53 172.0,138.62 172.4,138.74 172.8,138.86 173.2,138.82 173.6,138.80 174.0,138.77 174.4,138.74 174.8,138.79 175.2,138.74 175.6,138.59 176.0,138.50 176.4,138.67 176.8,138.79 177.2,138.76 177.6,138.72 178.0,138.74 178.4,138.59 178.8,138.40 179.2,138.26 179.6,138.36 180.0,138.45 180.4,138.63 180.8,138.83 181.2,138.86 181.6,138.76 182.0,138.59 182.4,138.41 182.8,138.29 183.2,138.32 183.6,138.55 184.0,138.57 184.4,138.50 184.8,138.51 185.2,138.62 185.6,138.63 186.0,138.51 186.4,138.49 186.8,138.63 187.2,138.82 187.6,138.76 188.0,138.72 188.4,138.68 188.8,138.77 189.2,138.76 189.6,138.70 190.0,138.69 190.4,138.56 190.8,138.54 191.2,138.43 191.6,138.64 192.0,138.85 192.4,138.94 192.8,138.78 193.2,138.52 193.6,138.46 194.0,138.50 194.4,138.63 194.8,138.58 195.2,138.53 195.6,138.52 196.0,138.67 196.4,138.68 196.8,138.65 197.2,138.70 197.6,138.88 198.0,138.98 198.4,138.91 198.8,138.85 199.2,138.82 199.6,138.86 200.0,138.84 200.4,138.69 200.8,138.51 201.2,138.57 201.6,138.65 202.0,138.66 202.4,138.61 202.8,138.61 203.2,138.52 203.6,138.40 204.0,138.48 204.4,138.62 204.8,138.70 205.2,138.79 205.6,138.77 206.0,138.73 206.4,138.66 206.8,138.61 207.2,138.59 207.6,138.65 208.0,138.84 208.4,138.89 208.8,138.78 209.2,138.65 209.6,138.62 210.0,138.76 210.4,138.63 210.8,138.52 211.2,138.38 211.6,138.51 212.0,138.57 212.4,138.49 212.8,138.30 213.2,138.32 213.6,138.59 214.0,138.86 214.4,138.82 214.8,138.69 215.2,138.54 215.6,138.42 216.0,138.46 216.4,138.63 216.8,138.69 217.2,138.54 217.6,138.54 218.0,138.61 218.4,138.56 218.8,138.44 219.2,138.32 219.6,138.14 220.0,137.89 220.4,137.89 220.8,138.04 221.2,138.14 221.6,138.30 222.0,138.57 222.4,138.71 222.8,138.55 223.2,138.46 223.6,138.30 224.0,138.25 224.4,138.27 224.8,138.35 225.2,138.35 225.6,138.26 226.0,138.22 226.4,138.06 226.8,138.02 227.2,137.95 227.6,137.89 228.0,137.78 228.4,137.76 228.8,137.72 229.2,137.68 229.6,137.52 230.0,137.40 230.4,137.19 230.8,136.88 231.2,136.46 231.6,135.61 232.0,133.89 232.4,129.41 232.8,120.12 233.2,105.56 233.6,91.92 233.9,87.81 234.0,88.26 234.4,97.04 234.8,110.90 235.2,120.44 235.6,120.68 236.0,110.89 236.4,94.92 236.6,87.55 236.7,84.78 236.8,82.55 237.0,80.77 237.2,82.71 237.6,96.11 238.0,113.10 238.4,125.65 238.8,131.88 239.2,134.45 239.6,135.48 240.0,136.26 240.4,136.74 240.8,137.09 241.2,137.28 241.6,137.53 242.0,137.67 242.4,137.84 242.8,137.84 243.2,137.87 243.6,137.95 244.0,138.07 244.4,138.13 244.8,138.10 245.2,138.20 245.6,138.21 246.0,138.26 246.4,138.30 246.8,138.49 247.2,138.49 247.6,138.37 248.0,138.38 248.4,138.27 248.8,138.33 249.2,138.47 249.6,138.62 250.0,138.56 250.4,138.56 250.8,138.66 251.2,138.41 251.6,138.29 252.0,138.29 252.4,138.45 252.8,138.46 253.2,138.46 253.6,138.28 254.0,138.24 254.4,138.28 254.8,138.48 255.2,138.47 255.6,138.52 256.0,138.56 256.4,138.74 256.8,138.72 257.2,138.76 257.6,138.68 258.0,138.63 258.4,138.38 258.8,138.45 259.2,138.47 259.6,138.58 260.0,138.61 260.4,138.67 260.8,138.53 261.2,138.54 261.6,138.62 262.0,138.72 262.4,138.70 262.8,138.63 263.2,138.61 263.6,138.55 264.0,138.60 264.4,138.62 264.8,138.61 265.2,138.44 265.6,138.42 266.0,138.38 266.4,138.53 266.8,138.70 267.2,138.74 267.6,138.58 268.0,138.66 268.4,138.82 268.8,138.72 269.2,138.40 269.6,138.22 270.0,138.40 270.4,138.65 270.8,138.65 271.2,138.58 271.6,138.58 272.0,138.60 272.4,138.50 272.8,138.50 273.2,138.67 273.6,138.69 274.0,138.63 274.4,138.62 274.8,138.85 275.2,138.81 275.6,138.80 276.0,138.85 276.4,138.79 276.8,138.70 277.2,138.59 277.6,138.67 278.0,138.51 278.4,138.44 278.8,138.43 279.2,138.62 279.6,138.73 280.0,138.67 280.4,138.64 280.8,138.61 281.2,138.52 281.6,138.55 282.0,138.61 282.4,138.65 282.8,138.56 283.2,138.53 283.6,138.44 284.0,138.43 284.4,138.40 284.8,138.59 285.2,138.60 285.6,138.58 286.0,138.50 286.4,138.64 286.8,138.73 287.2,138.71 287.6,138.80 288.0,138.82 288.4,138.78 288.8,138.83 289.2,138.82 289.6,138.78 290.0,138.65 290.4,138.60 290.8,138.43 291.2,138.47 291.6,138.50 292.0,138.46 292.4,138.50 292.8,138.61 293.2,138.60 293.6,138.49 294.0,138.42 294.4,138.35 294.8,138.36 295.2,138.44 295.6,138.50 296.0,138.64 296.4,138.66 296.8,138.61 297.2,138.59 297.6,138.55 298.0,138.36 298.4,138.13 298.8,138.02 299.2,138.00 299.6,138.02 300.0,138.03 300.4,137.76 300.8,137.38 301.2,137.03 301.6,136.54 302.0,134.80 302.4,129.05 302.8,115.64 303.2,97.27 303.6,87.92 303.7,88.52 303.8,90.33 303.9,93.23 304.0,97.12 304.4,115.59 304.8,128.89 305.2,134.39 305.6,136.08 306.0,136.76 306.4,136.85 306.8,136.58 307.2,135.86 307.6,134.31 308.0,131.30 308.4,127.13 308.8,124.37 309.0,124.49 309.2,125.76 309.6,129.53 310.0,133.18 310.4,135.57 310.8,136.94 311.2,137.55 311.6,137.90 312.0,137.94 312.4,137.99 312.8,137.84 313.2,137.93 313.6,138.14 314.0,138.40 314.4,138.60 314.8,138.56 315.2,138.49 315.6,138.29 316.0,138.33 316.4,138.34 316.8,138.32 317.2,138.27 317.6,138.48 318.0,138.65 318.4,138.74 318.8,138.53 319.2,138.50 319.6,138.50 320.0,138.60 320.4,138.56 320.8,138.50 321.2,138.53 321.6,138.63 322.0,138.76 322.4,138.67 322.8,138.39 323.2,138.26 323.6,138.40 324.0,138.61 324.4,138.71 324.8,138.66 325.2,138.69 325.6,138.66 326.0,138.46 326.4,138.16 326.8,137.90 327.2,137.51 327.6,136.69 328.0,136.28 328.4,136.63 328.8,137.37 329.2,137.98 329.6,138.41 330.0,138.71 330.4,138.84 330.8,138.77 331.2,138.78 331.6,138.76 332.0,138.82 332.4,138.69 332.8,138.55 333.2,138.30 333.6,138.31 334.0,138.43 334.4,138.58 334.8,138.65 335.2,138.61 335.6,138.43 336.0,138.37 336.4,138.57 336.8,138.70"/>
<polyline stroke="#6ee01e" points="0.0,147.07 0.4,146.94 0.8,146.93 1.2,146.95 1.6,147.08 2.0,147.18 2.4,147.20 2.8,147.15 3.2,147.10 3.6,147.17 4.0,147.21 4.4,147.16 4.8,146.94 5.2,146.61 5.6,146.29 6.0,146.20 6.4,146.43 6.8,146.84 7.2,147.15 7.6,147.40 8.0,147.31 8.4,147.15 8.8,146.89 9.2,146.90 9.6,146.81 10.0,147.01 10.4,147.18 10.8,147.21 11.2,147.11 11.6,147.14 12.0,147.36 12.4,147.43 12.8,147.36 13.2,147.21 13.6,147.19 14.0,147.22 14.4,147.18 14.8,147.02 15.2,147.06 15.6,147.10 16.0,147.13 16.4,147.12 16.8,147.20 17.2,147.28 17.6,147.17 18.0,147.17 18.4,147.03 18.8,146.95 19.2,146.82 19.6,146.94 20.0,147.03 20.4,146.98 20.8,147.04 21.2,147.09 21.6,147.13 22.0,147.08 22.4,147.12 22.8,147.14 23.2,147.19 23.6,147.22 24.0,147.26 24.4,147.19 24.8,147.08 25.2,147.01 25.6,147.01 26.0,147.09 26.4,147.10 26.8,147.12 27.2,147.13 27.6,147.20 28.0,147.02 28.4,146.86 28.8,146.90 29.2,147.17 29.6,147.16 30.0,147.04 30.4,146.99 30.8,147.12 31.2,147.06 31.6,146.87 32.0,146.79 32.4,146.78 32.8,146.79 33.2,146.95 33.6,147.10 34.0,147.11 34.4,147.01 34.8,147.09 35.2,147.16 35.6,147.33 36.0,147.32 36.4,147.32 36.8,147.28 37.2,147.22 37.6,147.23 38.0,147.20 38.4,147.20 38.8,147.29 39.2,147.46 39.6,147.34 40.0,147.14 40.4,147.06 40.8,147.09 41.2,146.97 41.6,146.99 42.0,146.93 42.4,147.02 42.8,147.08 43.2,147.26 43.6,147.41 44.0,147.30 44.4,147.05 44.8,146.82 45.2,146.90 45.6,147.07 46.0,147.15 46.4,147.12 46.8,146.96 47.2,146.93 47.6,146.95 48.0,147.03 48.4,146.98 48.8,146.97 49.2,147.06 49.6,147.21 50.0,147.11 50.4,147.09 50.8,147.18 51.2,147.29 51.6,147.12 52.0,146.92 52.4,146.89 52.8,146.94 53.2,146.92 53.6,146.98 54.0,147.18 54.4,147.33 54.8,147.35 55.2,147.37 55.6,147.22 56.0,147.16 56.4,147.16 56.8,147.25 57.2,147.29 57.6,147.34 58.0,147.39 58.4,147.31 58.8,147.21 59.2,147.02 59.6,147.00 60.0,146.91 60.4,146.92 60.8,146.96 61.2,147.04 61.6,146.86 62.0,146.66 62.4,146.75 62.8,146.90 63.2,147.10 63.6,146.99 64.0,146.94 64.4,146.62 64.8,146.45 65.2,146.43 65.6,146.71 66.0,147.04 66.4,147.25 66.8,147.13 67.2,146.97 67.6,146.93 68.0,146.99 68.4,147.03 68.8,147.19 69.2,147.22 69.6,147.21 70.0,147.23 70.4,147.19 70.8,147.18 71.2,147.26 71.6,147.36 72.0,147.31 72.4,147.23 72.8,147.25 73.2,147.19 73.6,147.09 74.0,146.97 74.4,146.93 74.8,146.93 75.2,146.80 75.6,146.73 76.0,146.66 76.4,146.81 76.8,146.76 77.2,146.75 77.6,146.64 78.0,146.65 78.4,146.64 78.8,146.63 79.2,146.73 79.6,146.65 80.0,146.63 80.4,146.45 80.8,146.39 81.2,146.32 81.6,146.12 82.0,145.81 82.4,145.58 82.8,145.20 83.2,144.70 83.6,143.75 84.0,142.42 84.4,139.92 84.8,68.34 85.2,22.00 85.6,22.00 86.0,22.00 86.4,22.00 86.8,22.00 87.2,99.38 87.6,118.12 88.0,133.64 88.4,141.67 88.8,144.42 89.2,145.38 89.6,145.74 90.0,145.88 90.4,146.21 90.8,146.41 91.2,146.42 91.6,146.32 92.0,146.30 92.4,146.47 92.8,146.95 93.2,147.11 93.6,146.82 94.0,146.68 94.4,146.91 94.8,147.08 95.2,147.07 95.6,146.97 96.0,146.85 96.4,146.70 96.8,146.56 97.2,146.44 97.6,146.43 98.0,146.65 98.4,146.81 98.8,146.78 99.2,146.76 99.6,146.72 100.0,146.79 100.4,146.68 100.8,146.84 101.2,146.94 101.6,147.01 102.0,147.03 102.4,147.12 102.8,147.07 103.2,146.71 103.6,146.59 104.0,146.66 104.4,146.84 104.8,146.93 105.2,146.99 105.6,147.01 106.0,147.06 106.4,147.18 106.8,147.14 107.2,147.15 107.6,147.25 108.0,147.43 108.4,147.34 108.8,147.22 109.2,147.17 109.6,147.22 110.0,147.20 110.4,147.11 110.8,147.04 111.2,146.98 111.6,146.93 112.0,146.98 112.4,147.03 112.8,146.95 113.2,146.89 113.6,147.06 114.0,147.30 114.4,147.13 114.8,146.85 115.2,146.82 115.6,147.00 116.0,147.03 116.4,146.93 116.8,146.89 117.2,146.76 117.6,146.76 118.0,146.61 118.4,146.38 118.8,145.93 119.2,145.20 119.6,143.70 120.0,141.69 120.4,140.05 120.6,139.76 120.8,139.98 121.2,141.61 121.6,143.51 122.0,144.98 122.4,145.82 122.8,146.29 123.2,146.28 123.6,146.01 124.0,145.37 124.4,144.42 124.8,143.49 125.0,143.17 125.2,143.33 125.6,144.40 126.0,145.55 126.4,146.19 126.8,146.57 127.2,146.74 127.6,146.87 128.0,146.99 128.4,147.16 128.8,147.21 129.2,147.03 129.6,146.95 130.0,146.92 130.4,147.13 130.8,147.22 131.2,147.32 131.6,147.23 132.0,147.34 132.4,147.35 132.8,147.21 133.2,147.05 133.6,146.99 134.0,147.15 134.4,147.23 134.8,147.40 135.2,147.31 135.6,147.18 136.0,146.84 136.4,146.48 136.8,146.34 137.2,146.45 137.6,146.68 138.0,146.79 138.4,146.86 138.8,146.93 139.2,147.10 139.6,147.19 140.0,147.09 140.4,146.89 140.8,147.03 141.2,147.11 141.6,147.09 142.0,146.90 142.4,147.06 142.8,147.11 143.2,147.16 143.6,147.15 144.0,147.12 144.4,147.05 144.8,146.97 145.2,147.01 145.6,147.08 146.0,147.18 146.4,147.10 146.8,146.99 147.2,147.01 147.6,147.11 148.0,146.98 148.4,146.79 148.8,146.82 149.2,147.04 149.6,147.16 150.0,147.14 150.4,147.14 150.8,147.10 151.2,147.08 151.6,147.16 152.0,147.23 152.4,147.22 152.8,147.08 153.2,147.05 153.6,146.99 154.0,146.98 154.4,146.99 154.8,147.10 155.2,147.23 155.6,147.31 156.0,147.33 156.4,147.22 156.8,147.13 157.2,147.09 157.6,147.23 158.0,147.32 158.4,147.26 158.8,147.04 159.2,147.09 159.6,147.13 160.0,147.16 160.4,147.11 160.8,147.25 161.2,147.18 161.6,147.15 162.0,147.12 162.4,147.24 162.8,147.32 163.2,147.32 163.6,147.21 164.0,147.17 164.4,147.08 164.8,147.04 165.2,146.93 165.6,146.89 166.0,146.69 166.4,146.52 166.8,146.52 167.2,146.66 167.6,146.83 168.0,146.97 168.4,147.06 168.8,147.08 169.2,146.95 169.6,147.01 170.0,147.17 170.4,147.35 170.8,147.25 171.2,147.12 171.6,146.94 172.0,147.06 172.4,147.19 172.8,147.32 173.2,147.23 173.6,147.16 174.0,147.09 174.4,147.17 174.8,147.17 175.2,147.22 175.6,147.20 176.0,147.15 176.4,146.95 176.8,146.86 177.2,146.95 177.6,146.98 178.0,147.05 178.4,147.18 178.8,147.33 179.2,147.15 179.6,146.83 180.0,146.84 180.4,147.16 180.8,147.32 181.2,147.24 181.6,147.14 182.0,147.10 182.4,147.12 182.8,147.14 183.2,147.21 183.6,147.30 184.0,147.36 184.4,147.39 184.8,147.21 185.2,147.21 185.6,147.12 186.0,147.39 186.4,147.39 186.8,147.26 187.2,147.17 187.6,147.12 188.0,147.13 188.4,147.00 188.8,147.18 189.2,147.20 189.6,147.28 190.0,147.19 190.4,147.09 190.8,146.84 191.2,146.94 191.6,147.13 192.0,147.15 192.4,146.93 192.8,146.94 193.2,146.84 193.6,146.83 194.0,146.73 194.4,146.79 194.8,146.85 195.2,147.05 195.6,147.06 196.0,147.05 196.4,147.14 196.8,147.29 197.2,147.18 197.6,147.01 198.0,146.97 198.4,147.05 198.8,146.95 199.2,146.82 199.6,146.94 200.0,147.07 200.4,147.18 200.8,147.14 201.2,147.15 201.6,146.94 202.0,146.88 202.4,146.89 202.8,147.07 203.2,147.16 203.6,147.24 204.0,147.06 204.4,146.97 204.8,146.93 205.2,147.01 205.6,146.98 206.0,146.96 206.4,147.05 206.8,147.05 207.2,147.13 207.6,147.05 208.0,147.13 208.4,147.18 208.8,147.35 209.2,147.28 209.6,147.16 210.0,147.03 210.4,147.02 210.8,146.96 211.2,146.94 211.6,146.99 212.0,147.01 212.4,146.97 212.8,146.90 213.2,146.94 213.6,146.90 214.0,147.05 214.4,147.12 214.8,147.24 215.2,147.04 215.6,147.01 216.0,146.96 216.4,147.11 216.8,147.17 217.2,147.04 217.6,146.98 218.0,146.85 218.4,146.98 218.8,146.91 219.2,146.81 219.6,146.59 220.0,146.50 220.4,146.45 220.8,146.41 221.2,146.58 221.6,146.68 222.0,146.67 222.4,146.81 222.8,146.92 223.2,146.94 223.6,146.84 224.0,146.96 224.4,146.99 224.8,146.74 225.2,146.51 225.6,146.55 226.0,146.69 226.4,146.77 226.8,146.71 227.2,146.58 227.6,146.38 228.0,146.47 228.4,146.44 228.8,146.26 229.2,145.93 229.6,145.72 230.0,145.46 230.4,145.27 230.8,144.88 231.2,143.95 231.6,141.94 232.0,137.06 232.4,127.64 232.8,113.95 233.2,99.92 233.6,91.74 233.9,92.59 234.0,94.22 234.4,105.29 234.8,118.08 235.2,126.14 235.6,125.80 236.0,116.45 236.4,101.93 236.6,94.87 236.7,92.06 236.8,89.76 237.0,86.90 237.2,86.94 237.6,95.66 238.0,111.08 238.4,125.94 238.8,135.89 239.2,141.12 239.6,143.48 240.0,144.53 240.4,144.98 240.8,145.31 241.2,145.84 241.6,146.16 242.0,146.19 242.4,146.07 242.8,146.15 243.2,146.39 243.6,146.36 244.0,146.31 244.4,146.37 244.8,146.66 245.2,146.78 245.6,146.80 246.0,146.72 246.4,146.72 246.8,146.65 247.2,146.64 247.6,146.67 248.0,146.76 248.4,146.82 248.8,146.85 249.2,146.87 249.6,146.92 250.0,147.09 250.4,147.21 250.8,147.19 251.2,147.11 251.6,147.04 252.0,146.82 252.4,146.76 252.8,146.74 253.2,146.80 253.6,146.88 254.0,147.09 254.4,147.13 254.8,147.21 255.2,147.18 255.6,147.21 256.0,147.20 256.4,147.25 256.8,147.14 257.2,147.15 257.6,147.09 258.0,147.11 258.4,147.17 258.8,147.19 259.2,147.02 259.6,146.87 260.0,146.92 260.4,147.04 260.8,147.18 261.2,147.34 261.6,147.47 262.0,147.41 262.4,147.21 262.8,146.98 263.2,147.00 263.6,147.12 264.0,147.19 264.4,147.09 264.8,147.05 265.2,146.88 265.6,146.82 266.0,146.92 266.4,147.12 266.8,147.03 267.2,146.99 267.6,147.06 268.0,147.29 268.4,147.40 268.8,147.39 269.2,147.24 269.6,147.04 270.0,146.93 270.4,146.85 270.8,146.92 271.2,147.07 271.6,147.29 272.0,147.36 272.4,147.28 272.8,147.25 273.2,147.19 273.6,147.01 274.0,146.90 274.4,146.98 274.8,146.99 275.2,146.90 275.6,146.74 276.0,146.78 276.4,146.97 276.8,147.15 277.2,147.23 277.6,147.21 278.0,147.17 278.4,146.91 278.8,146.93 279.2,147.10 279.6,147.12 280.0,146.97 280.4,147.03 280.8,147.13 281.2,147.14 281.6,146.94 282.0,146.86 282.4,146.92 282.8,147.01 283.2,146.93 283.6,146.76 284.0,146.82 284.4,146.83 284.8,146.90 285.2,147.00 285.6,147.26 286.0,147.26 286.4,147.29 286.8,147.26 287.2,147.25 287.6,147.14 288.0,147.23 288.4,147.38 288.8,147.40 289.2,147.25 289.6,147.18 290.0,147.15 290.4,147.15 290.8,147.10 291.2,147.22 291.6,147.15 292.0,147.04 292.4,146.84 292.8,146.97 293.2,147.10 293.6,147.28 294.0,147.18 294.4,147.05 294.8,147.00 295.2,147.04 295.6,147.03 296.0,146.96 296.4,146.94 296.8,146.88 297.2,146.86 297.6,146.70 298.0,146.58 298.4,146.41 298.8,146.41 299.2,146.32 299.6,146.33 300.0,146.30 300.4,146.07 300.8,145.62 301.2,145.12 301.6,144.37 302.0,141.30 302.4,132.01 302.8,114.65 303.2,98.39 303.6,98.35 303.7,101.41 303.8,105.33 303.9,109.72 304.0,114.30 304.4,131.38 304.8,140.63 305.2,143.81 305.6,144.76 306.0,145.01 306.4,145.08 306.8,144.86 307.2,144.21 307.6,142.44 308.0,139.43 308.4,135.71 308.8,133.74 309.0,134.28 309.2,135.70 309.6,139.45 310.0,142.44 310.4,144.52 310.8,145.67 311.2,146.21 311.6,146.21 312.0,146.30 312.4,146.53 312.8,146.84 313.2,147.04 313.6,147.11 314.0,147.00 314.4,146.86 314.8,146.85 315.2,146.78 315.6,146.72 316.0,146.77 316.4,146.78 316.8,146.72 317.2,146.84 317.6,146.99 318.0,147.11 318.4,147.14 318.8,147.21 319.2,147.19 319.6,147.12 320.0,147.03 320.4,146.94 320.8,146.99 321.2,147.07 321.6,147.08 322.0,147.05 322.4,147.11 322.8,147.12 323.2,147.09 323.6,147.07 324.0,147.03 324.4,147.01 324.8,147.06 325.2,147.16 325.6,147.19 326.0,147.02 326.4,146.77 326.8,146.32 327.2,145.77 327.6,145.15 328.0,144.81 328.4,145.23 328.8,145.95 329.2,146.49 329.6,146.69 330.0,147.06 330.4,147.23 330.8,147.35 331.2,147.09 331.6,147.00 332.0,147.01 332.4,147.07 332.8,147.00 333.2,146.91 333.6,146.96 334.0,147.01 334.4,147.04 334.8,147.18 335.2,147.23 335.6,147.23 336.0,147.27 336.4,147.39 336.8,147.37"/>
<polyline stroke="#16a01c" points="0.0,155.43 0.4,155.32 0.8,155.45 1.2,155.60 1.6,155.58 2.0,155.45 2.4,155.61 2.8,155.71 3.2,155.66 3.6,155.44 4.0,155.29 4.4,155.39 4.8,155.30 5.2,154.99 5.6,154.46 6.0,154.53 6.4,154.78 6.8,154.94 7.2,155.03 7.6,155.29 8.0,155.69 8.4,155.81 8.8,155.67 9.2,155.48 9.6,155.45 10.0,155.45 10.4,155.47 10.8,155.58 11.2,155.60 11.6,155.65 12.0,155.67 12.4,155.70 12.8,155.58 13.2,155.60 13.6,155.65 14.0,155.74 14.4,155.66 14.8,155.64 15.2,155.58 15.6,155.62 16.0,155.65 16.4,155.82 16.8,155.80 17.2,155.61 17.6,155.49 18.0,155.65 18.4,155.73 18.8,155.87 19.2,155.70 19.6,155.73 20.0,155.72 20.4,155.94 20.8,155.76 21.2,155.73 21.6,155.79 22.0,155.94 22.4,155.82 22.8,155.68 23.2,155.68 23.6,155.76 24.0,155.73 24.4,155.55 24.8,155.53 25.2,155.49 25.6,155.55 26.0,155.59 26.4,155.57 26.8,155.52 27.2,155.64 27.6,155.80 28.0,155.64 28.4,155.46 28.8,155.53 29.2,155.57 29.6,155.53 30.0,155.58 30.4,155.69 30.8,155.64 31.2,155.60 31.6,155.78 32.0,155.88 32.4,155.68 32.8,155.40 33.2,155.34 33.6,155.34 34.0,155.42 34.4,155.55 34.8,155.51 35.2,155.41 35.6,155.43 36.0,155.60 36.4,155.62 36.8,155.66 37.2,155.78 37.6,155.97 38.0,156.00 38.4,155.79 38.8,155.48 39.2,155.36 39.6,155.47 40.0,155.62 40.4,155.74 40.8,155.71 41.2,155.80 41.6,155.88 42.0,155.93 42.4,155.75 42.8,155.60 43.2,155.44 43.6,155.41 44.0,155.46 44.4,155.48 44.8,155.45 45.2,155.61 45.6,155.76 46.0,155.64 46.4,155.36 46.8,155.37 47.2,155.58 47.6,155.69 48.0,155.74 48.4,155.72 48.8,155.63 49.2,155.60 49.6,155.60 50.0,155.79 50.4,155.72 50.8,155.68 51.2,155.51 51.6,155.53 52.0,155.58 52.4,155.62 52.8,155.72 53.2,155.75 53.6,155.86 54.0,155.81 54.4,155.83 54.8,155.83 55.2,155.82 55.6,155.88 56.0,155.97 56.4,155.99 56.8,155.76 57.2,155.62 57.6,155.57 58.0,155.60 58.4,155.53 58.8,155.51 59.2,155.47 59.6,155.67 60.0,155.78 60.4,155.92 60.8,156.00 61.2,155.99 61.6,155.96 62.0,155.85 62.4,155.81 62.8,155.58 63.2,155.49 63.6,155.52 64.0,155.56 64.4,155.37 64.8,155.11 65.2,155.03 65.6,155.11 66.0,155.14 66.4,155.35 66.8,155.60 67.2,155.72 67.6,155.52 68.0,155.39 68.4,155.58 68.8,155.64 69.2,155.53 69.6,155.36 70.0,155.52 70.4,155.49 70.8,155.49 71.2,155.41 71.6,155.44 72.0,155.34 72.4,155.41 72.8,155.44 73.2,155.45 73.6,155.49 74.0,155.58 74.4,155.78 74.8,155.77 75.2,155.69 75.6,155.50 76.0,155.66 76.4,155.80 76.8,155.71 77.2,155.46 77.6,155.32 78.0,155.34 78.4,155.28 78.8,155.20 79.2,155.14 79.6,155.25 80.0,155.31 80.4,155.24 80.8,155.04 81.2,154.65 81.6,154.36 82.0,154.18 82.4,154.13 82.8,153.92 83.2,153.49 83.6,152.53 84.0,151.18 84.4,149.06 84.8,72.85 85.2,22.00 85.6,22.00 86.0,22.00 86.4,22.00 86.8,22.00 87.2,105.02 87.6,125.15 88.0,142.01 88.4,150.62 88.8,153.20 89.2,153.83 89.6,154.20 90.0,154.56 90.4,154.71 90.8,154.63 91.2,154.84 91.6,155.19 92.0,155.38 92.4,155.40 92.8,155.36 93.2,155.25 93.6,155.07 94.0,155.23 94.4,155.30 94.8,155.39 95.2,155.36 95.6,155.44 96.0,155.40 96.4,155.16 96.8,154.84 97.2,154.65 97.6,154.79 98.0,154.99 98.4,155.42 98.8,155.58 99.2,155.45 99.6,155.29 100.0,155.28 100.4,155.51 100.8,155.64 101.2,155.82 101.6,155.67 102.0,155.47 102.4,155.32 102.8,155.21 103.2,155.06 103.6,154.90 104.0,155.00 104.4,155.07 104.8,155.05 105.2,155.24 105.6,155.45 106.0,155.56 106.4,155.52 106.8,155.62 107.2,155.58 107.6,155.48 108.0,155.57 108.4,155.77 108.8,155.86 109.2,155.85 109.6,155.63 110.0,155.50 110.4,155.40 110.8,155.38 111.2,155.36 111.6,155.48 112.0,155.65 112.4,155.48 112.8,155.35 113.2,155.38 113.6,155.51 114.0,155.53 114.4,155.55 114.8,155.67 115.2,155.68 115.6,155.79 116.0,155.74 116.4,155.65 116.8,155.47 117.2,155.41 117.6,155.27 118.0,155.17 118.4,154.80 118.8,154.08 119.2,153.19 119.6,151.95 120.0,150.14 120.4,148.43 120.6,148.14 120.8,148.26 121.2,149.73 121.6,151.57 122.0,153.24 122.4,154.28 122.8,154.79 123.2,154.77 123.6,154.43 124.0,153.62 124.4,152.68 124.8,151.92 125.0,151.84 125.2,151.89 125.6,152.91 126.0,154.12 126.4,154.90 126.8,155.28 127.2,155.38 127.6,155.51 128.0,155.61 128.4,155.73 128.8,155.55 129.2,155.49 129.6,155.53 130.0,155.71 130.4,155.47 130.8,155.20 131.2,155.18 131.6,155.37 132.0,155.51 132.4,155.52 132.8,155.65 133.2,155.60 133.6,155.48 134.0,155.44 134.4,155.49 134.8,155.45 135.2,155.19 135.6,155.35 136.0,155.39 136.4,155.21 136.8,154.63 137.2,154.53 137.6,154.76 138.0,155.18 138.4,155.49 138.8,155.54 139.2,155.56 139.6,155.64 140.0,155.69 140.4,155.61 140.8,155.40 141.2,155.33 141.6,155.26 142.0,155.44 142.4,155.54 142.8,155.75 143.2,155.76 143.6,155.80 144.0,155.74 144.4,155.73 144.8,155.58 145.2,155.64 145.6,155.69 146.0,155.58 146.4,155.37 146.8,155.32 147.2,155.54 147.6,155.73 148.0,155.93 148.4,156.02 148.8,155.90 149.2,155.57 149.6,155.29 150.0,155.40 150.4,155.37 150.8,155.32 151.2,155.41 151.6,155.59 152.0,155.58 152.4,155.46 152.8,155.64 153.2,155.87 153.6,155.87 154.0,155.59 154.4,155.46 154.8,155.62 155.2,155.73 155.6,155.77 156.0,155.80 156.4,155.87 156.8,155.97 157.2,155.93 157.6,155.76 158.0,155.59 158.4,155.76 158.8,155.93 159.2,155.95 159.6,155.88 160.0,155.93 160.4,156.06 160.8,155.92 161.2,155.76 161.6,155.66 162.0,155.80 162.4,155.75 162.8,155.53 163.2,155.41 163.6,155.42 164.0,155.52 164.4,155.64 164.8,155.77 165.2,155.67 165.6,155.44 166.0,155.35 166.4,155.44 166.8,155.37 167.2,155.24 167.6,155.08 168.0,155.14 168.4,155.22 168.8,155.43 169.2,155.51 169.6,155.51 170.0,155.41 170.4,155.44 170.8,155.50 171.2,155.65 171.6,155.69 172.0,155.70 172.4,155.67 172.8,155.60 173.2,155.63 173.6,155.56 174.0,155.67 174.4,155.58 174.8,155.53 175.2,155.32 175.6,155.35 176.0,155.51 176.4,155.56 176.8,155.64 177.2,155.69 177.6,155.66 178.0,155.64 178.4,155.69 178.8,155.83 179.2,155.51 179.6,155.60 180.0,155.63 180.4,155.80 180.8,155.65 181.2,155.55 181.6,155.58 182.0,155.65 182.4,155.75 182.8,155.63 183.2,155.48 183.6,155.47 184.0,155.62 184.4,155.73 184.8,155.67 185.2,155.55 185.6,155.59 186.0,155.75 186.4,155.79 186.8,155.63 187.2,155.69 187.6,155.67 188.0,155.65 188.4,155.49 188.8,155.71 189.2,155.71 189.6,155.55 190.0,155.32 190.4,155.35 190.8,155.50 191.2,155.53 191.6,155.46 192.0,155.32 192.4,155.20 192.8,155.14 193.2,155.11 193.6,155.07 194.0,154.94 194.4,155.13 194.8,155.21 195.2,155.41 195.6,155.49 196.0,155.79 196.4,155.87 196.8,155.73 197.2,155.58 197.6,155.57 198.0,155.76 198.4,155.78 198.8,155.67 199.2,155.67 199.6,155.67 200.0,155.64 200.4,155.54 200.8,155.54 201.2,155.51 201.6,155.50 202.0,155.75 202.4,155.89 202.8,155.83 203.2,155.59 203.6,155.57 204.0,155.50 204.4,155.53 204.8,155.56 205.2,155.66 205.6,155.65 206.0,155.62 206.4,155.65 206.8,155.67 207.2,155.73 207.6,155.67 208.0,155.68 208.4,155.65 208.8,155.72 209.2,155.68 209.6,155.75 210.0,155.71 210.4,155.68 210.8,155.50 211.2,155.50 211.6,155.57 212.0,155.64 212.4,155.61 212.8,155.60 213.2,155.52 213.6,155.36 214.0,155.39 214.4,155.52 214.8,155.71 215.2,155.84 215.6,155.90 216.0,155.80 216.4,155.67 216.8,155.61 217.2,155.49 217.6,155.21 218.0,155.19 218.4,155.35 218.8,155.49 219.2,155.34 219.6,155.23 220.0,155.17 220.4,155.13 220.8,155.10 221.2,155.20 221.6,155.37 222.0,155.61 222.4,155.54 222.8,155.44 223.2,155.22 223.6,155.21 224.0,155.34 224.4,155.42 224.8,155.35 225.2,155.10 225.6,155.14 226.0,155.11 226.4,154.95 226.8,154.80 227.2,154.87 227.6,154.93 228.0,154.82 228.4,154.59 228.8,154.35 229.2,154.16 229.6,153.93 230.0,153.63 230.4,153.10 230.8,152.25 231.2,150.34 231.6,146.00 232.0,137.62 232.4,124.56 232.8,109.15 233.2,96.84 233.6,93.77 233.9,98.53 234.0,101.34 234.4,114.94 234.8,127.78 235.2,134.57 235.6,133.12 236.0,123.71 236.4,109.27 236.6,102.05 236.7,98.84 236.8,95.93 237.0,91.85 237.2,90.56 237.6,96.70 238.0,110.87 238.4,126.68 238.8,139.22 239.2,147.02 239.6,151.12 240.0,152.99 240.4,153.70 240.8,154.01 241.2,154.19 241.6,154.32 242.0,154.42 242.4,154.69 242.8,154.73 243.2,154.78 243.6,154.79 244.0,155.11 244.4,155.15 244.8,155.25 245.2,155.27 245.6,155.30 246.0,155.44 246.4,155.36 246.8,155.28 247.2,155.07 247.6,155.20 248.0,155.30 248.4,155.45 248.8,155.53 249.2,155.62 249.6,155.65 250.0,155.67 250.4,155.61 250.8,155.45 251.2,155.28 251.6,155.35 252.0,155.42 252.4,155.39 252.8,155.26 253.2,155.30 253.6,155.41 254.0,155.47 254.4,155.40 254.8,155.41 255.2,155.30 255.6,155.29 256.0,155.38 256.4,155.61 256.8,155.71 257.2,155.67 257.6,155.66 258.0,155.59 258.4,155.54 258.8,155.51 259.2,155.61 259.6,155.51 260.0,155.34 260.4,155.14 260.8,155.18 261.2,155.18 261.6,155.29 262.0,155.36 262.4,155.54 262.8,155.71 263.2,155.68 263.6,155.51 264.0,155.47 264.4,155.52 264.8,155.49 265.2,155.31 265.6,155.38 266.0,155.50 266.4,155.55 266.8,155.37 267.2,155.26 267.6,155.37 268.0,155.47 268.4,155.44 268.8,155.36 269.2,155.49 269.6,155.71 270.0,155.85 270.4,155.80 270.8,155.69 271.2,155.62 271.6,155.66 272.0,155.70 272.4,155.60 272.8,155.45 273.2,155.38 273.6,155.52 274.0,155.57 274.4,155.51 274.8,155.52 275.2,155.72 275.6,155.72 276.0,155.57 276.4,155.57 276.8,155.64 277.2,155.68 277.6,155.52 278.0,155.47 278.4,155.48 278.8,155.73 279.2,155.84 279.6,155.65 280.0,155.35 280.4,155.21 280.8,155.42 281.2,155.63 281.6,155.78 282.0,155.78 282.4,155.67 282.8,155.52 283.2,155.40 283.6,155.50 284.0,155.47 284.4,155.49 284.8,155.48 285.2,155.67 285.6,155.63 286.0,155.59 286.4,155.45 286.8,155.55 287.2,155.54 287.6,155.55 288.0,155.40 288.4,155.36 288.8,155.34 289.2,155.36 289.6,155.49 290.0,155.51 290.4,155.52 290.8,155.52 291.2,155.52 291.6,155.28 292.0,155.22 292.4,155.24 292.8,155.28 293.2,155.25 293.6,155.40 294.0,155.44 294.4,155.36 294.8,155.39 295.2,155.46 295.6,155.62 296.0,155.49 296.4,155.37 296.8,155.21 297.2,155.28 297.6,155.27 298.0,155.22 298.4,155.25 298.8,155.19 299.2,155.06 299.6,154.80 300.0,154.58 300.4,154.34 300.8,153.87 301.2,153.32 301.6,151.45 302.0,145.76 302.4,132.06 302.8,113.33 303.2,103.74 303.6,113.34 303.7,118.11 303.8,123.07 303.9,127.79 304.0,132.15 304.4,145.59 304.8,151.34 305.2,153.19 305.6,153.85 306.0,154.02 306.4,153.98 306.8,153.40 307.2,152.05 307.6,149.61 308.0,146.40 308.4,143.59 308.8,143.72 309.0,144.93 309.2,146.63 309.6,150.08 310.0,152.58 310.4,153.67 310.8,154.18 311.2,154.53 311.6,154.97 312.0,155.11 312.4,155.25 312.8,155.23 313.2,155.30 313.6,155.38 314.0,155.44 314.4,155.44 314.8,155.41 315.2,155.49 315.6,155.49 316.0,155.51 316.4,155.35 316.8,155.30 317.2,155.37 317.6,155.60 318.0,155.55 318.4,155.39 318.8,155.38 319.2,155.51 319.6,155.61 320.0,155.59 320.4,155.56 320.8,155.61 321.2,155.56 321.6,155.40 322.0,155.39 322.4,155.46 322.8,155.57 323.2,155.48 323.6,155.41 324.0,155.46 324.4,155.56 324.8,155.48 325.2,155.29 325.6,155.28 326.0,155.29 326.4,155.16 326.8,154.76 327.2,154.19 327.6,153.61 328.0,153.44 328.4,153.80 328.8,154.32 329.2,154.63 329.6,155.04 330.0,155.27 330.4,155.40 330.8,155.34 331.2,155.50 331.6,155.56 332.0,155.50 332.4,155.45 332.8,155.63 333.2,155.94 333.6,155.95 334.0,155.77 334.4,155.48 334.8,155.45 335.2,155.51 335.6,155.64 336.0,155.73 336.4,155.80 336.8,155.80"/>
<polyline stroke="#4ee0ff" points="0.0,163.93 0.4,163.80 0.8,163.85 1.2,164.04 1.6,163.92 2.0,163.79 2.4,163.96 2.8,164.19 3.2,164.26 3.6,164.13 4.0,164.12 4.4,163.75 4.8,163.30 5.2,163.03 5.6,163.11 6.0,163.19 6.4,163.30 6.8,163.40 7.2,163.55 7.6,163.73 8.0,163.87 8.4,164.01 8.8,164.17 9.2,164.22 9.6,164.16 10.0,164.12 10.4,164.14 10.8,164.05 11.2,164.22 11.6,164.16 12.0,164.09 12.4,164.02 12.8,164.24 13.2,164.13 13.6,163.91 14.0,163.85 14.4,163.93 14.8,163.93 15.2,163.93 15.6,163.99 16.0,164.12 16.4,164.04 16.8,164.07 17.2,164.03 17.6,164.17 18.0,164.09 18.4,164.26 18.8,164.15 19.2,164.16 19.6,164.03 20.0,164.10 20.4,164.13 20.8,164.19 21.2,164.23 21.6,164.26 22.0,164.25 22.4,164.28 22.8,164.33 23.2,164.34 23.6,164.17 24.0,164.03 24.4,164.05 24.8,164.12 25.2,164.26 25.6,164.26 26.0,164.14 26.4,164.00 26.8,163.90 27.2,163.91 27.6,164.02 28.0,164.07 28.4,164.01 28.8,163.89 29.2,163.96 29.6,164.04 30.0,163.97 30.4,163.98 30.8,164.15 31.2,164.27 31.6,164.13 32.0,164.04 32.4,163.98 32.8,164.06 33.2,164.21 33.6,164.37 34.0,164.30 34.4,164.20 34.8,164.16 35.2,164.28 35.6,164.23 36.0,164.12 36.4,163.96 36.8,163.91 37.2,163.93 37.6,164.10 38.0,164.13 38.4,164.13 38.8,164.14 39.2,164.25 39.6,164.27 40.0,164.20 40.4,164.23 40.8,164.16 41.2,164.20 41.6,163.99 42.0,164.03 42.4,164.06 42.8,164.11 43.2,163.94 43.6,163.94 44.0,164.11 44.4,164.26 44.8,164.20 45.2,164.02 45.6,163.89 46.0,163.88 46.4,163.84 46.8,163.86 47.2,163.99 47.6,164.14 48.0,164.13 48.4,164.00 48.8,164.05 49.2,164.14 49.6,164.29 50.0,164.20 50.4,164.02 50.8,163.85 51.2,163.83 51.6,163.89 52.0,163.93 52.4,163.95 52.8,163.94 53.2,164.06 53.6,164.21 54.0,164.16 54.4,164.05 54.8,164.03 55.2,164.14 55.6,164.12 56.0,163.97 56.4,163.92 56.8,163.92 57.2,163.95 57.6,163.92 58.0,164.06 58.4,164.08 58.8,164.08 59.2,164.01 59.6,163.99 60.0,164.03 60.4,164.05 60.8,164.09 61.2,164.06 61.6,163.95 62.0,163.73 62.4,163.47 62.8,163.57 63.2,163.77 63.6,163.90 64.0,163.70 64.4,163.49 64.8,163.34 65.2,163.36 65.6,163.55 66.0,163.69 66.4,163.89 66.8,164.09 67.2,164.15 67.6,164.18 68.0,164.36 68.4,164.49 68.8,164.39 69.2,164.16 69.6,164.00 70.0,163.80 70.4,163.77 70.8,163.90 71.2,164.01 71.6,163.88 72.0,163.89 72.4,164.15 72.8,164.39 73.2,164.13 73.6,163.97 74.0,163.84 74.4,163.89 74.8,163.89 75.2,164.08 75.6,164.05 76.0,163.90 76.4,163.68 76.8,163.69 77.2,163.65 77.6,163.66 78.0,163.69 78.4,163.76 78.8,163.75 79.2,163.67 79.6,163.68 80.0,163.72 80.4,163.55 80.8,163.20 81.2,163.00 81.6,163.03 82.0,163.05 82.4,162.82 82.8,162.50 83.2,161.93 83.6,161.03 84.0,159.79 84.4,157.60 84.8,75.97 85.2,22.00 85.6,22.00 86.0,22.00 86.4,22.00 86.8,22.00 87.2,111.26 87.6,132.55 88.0,149.85 88.4,158.98 88.8,161.67 89.2,162.47 89.6,162.50 90.0,162.63 90.4,162.94 90.8,163.40 91.2,163.53 91.6,163.56 92.0,163.82 92.4,163.83 92.8,163.72 93.2,163.57 93.6,163.73 94.0,163.74 94.4,163.64 94.8,163.46 95.2,163.57 95.6,163.74 96.0,163.85 96.4,163.57 96.8,163.27 97.2,163.07 97.6,163.32 98.0,163.63 98.4,163.81 98.8,163.76 99.2,163.78 99.6,163.82 100.0,163.96 100.4,164.12 100.8,164.19 101.2,164.00 101.6,164.01 102.0,164.12 102.4,164.15 102.8,163.88 103.2,163.70 103.6,163.55 104.0,163.56 104.4,163.57 104.8,163.60 105.2,163.70 105.6,163.89 106.0,163.99 106.4,164.05 106.8,163.91 107.2,163.77 107.6,163.71 108.0,163.87 108.4,163.95 108.8,164.14 109.2,164.16 109.6,164.10 110.0,163.83 110.4,163.96 110.8,164.07 111.2,164.13 111.6,163.94 112.0,163.92 112.4,163.92 112.8,164.04 113.2,164.01 113.6,163.94 114.0,163.81 114.4,163.90 114.8,163.97 115.2,164.06 115.6,164.05 116.0,164.02 116.4,163.92 116.8,163.88 117.2,163.83 117.6,163.74 118.0,163.39 118.4,162.95 118.8,162.25 119.2,161.00 119.6,159.13 120.0,156.90 120.4,155.14 120.6,154.76 120.8,155.05 121.2,156.83 121.6,159.24 122.0,160.98 122.4,162.21 122.8,162.73 123.2,163.04 123.6,162.80 124.0,162.14 124.4,161.00 124.8,159.93 125.0,159.68 125.2,159.91 125.6,160.97 126.0,162.04 126.4,162.89 126.8,163.35 127.2,163.60 127.6,163.59 128.0,163.67 128.4,163.79 128.8,163.86 129.2,163.80 129.6,163.70 130.0,163.71 130.4,163.70 130.8,163.82 131.2,164.05 131.6,164.07 132.0,164.06 132.4,164.18 132.8,164.20 133.2,164.03 133.6,163.91 134.0,164.06 134.4,163.82 134.8,163.77 135.2,163.72 135.6,163.85 136.0,163.69 136.4,163.28 136.8,162.91 137.2,162.91 137.6,163.38 138.0,163.76 138.4,164.03 138.8,164.03 139.2,164.01 139.6,163.96 140.0,164.05 140.4,164.03 140.8,164.06 141.2,164.02 141.6,163.92 142.0,163.87 142.4,163.81 142.8,163.98 143.2,164.15 143.6,164.14 144.0,163.84 144.4,163.74 144.8,163.87 145.2,163.95 145.6,164.10 146.0,164.19 146.4,164.11 146.8,163.91 147.2,163.98 147.6,164.19 148.0,164.27 148.4,164.12 148.8,163.93 149.2,164.06 149.6,164.08 150.0,164.03 150.4,164.02 150.8,164.20 151.2,164.17 151.6,164.00 152.0,163.97 152.4,164.06 152.8,164.15 153.2,164.21 153.6,164.20 154.0,164.26 154.4,164.22 154.8,164.25 155.2,164.15 155.6,164.24 156.0,164.31 156.4,164.38 156.8,164.16 157.2,164.04 157.6,163.79 158.0,163.76 158.4,163.83 158.8,163.99 159.2,164.01 159.6,164.07 160.0,164.28 160.4,164.30 160.8,164.09 161.2,163.74 161.6,163.70 162.0,163.94 162.4,164.23 162.8,164.25 163.2,164.11 163.6,163.95 164.0,163.92 164.4,163.99 164.8,164.08 165.2,164.10 165.6,164.19 166.0,164.13 166.4,163.98 166.8,163.74 167.2,163.70 167.6,163.65 168.0,163.58 168.4,163.54 168.8,163.73 169.2,163.99 169.6,164.15 170.0,164.18 170.4,164.26 170.8,164.19 171.2,164.27 171.6,164.46 172.0,164.58 172.4,164.33 172.8,164.13 173.2,163.98 173.6,163.95 174.0,163.91 174.4,163.99 174.8,163.98 175.2,164.19 175.6,164.19 176.0,164.17 176.4,164.01 176.8,164.18 177.2,164.28 177.6,164.19 178.0,163.93 178.4,163.88 178.8,163.98 179.2,164.07 179.6,164.08 180.0,164.03 180.4,163.95 180.8,164.00 181.2,164.09 181.6,164.11 182.0,164.11 182.4,164.11 182.8,164.19 183.2,164.10 183.6,164.08 184.0,163.98 184.4,164.09 184.8,164.14 185.2,164.23 185.6,164.25 186.0,164.24 186.4,164.24 186.8,164.16 187.2,164.14 187.6,164.20 188.0,164.28 188.4,164.25 188.8,164.18 189.2,163.96 189.6,163.82 190.0,163.81 190.4,164.05 190.8,164.22 191.2,164.25 191.6,164.05 192.0,163.95 192.4,164.01 192.8,164.09 193.2,163.86 193.6,163.50 194.0,163.24 194.4,163.26 194.8,163.58 195.2,163.88 195.6,164.21 196.0,164.36 196.4,164.42 196.8,164.20 197.2,164.09 197.6,164.09 198.0,164.03 198.4,163.84 198.8,163.76 199.2,163.97 199.6,164.09 200.0,164.00 200.4,163.88 200.8,163.99 201.2,164.02 201.6,164.11 202.0,164.09 202.4,164.19 202.8,164.14 203.2,164.13 203.6,164.01 204.0,163.97 204.4,164.00 204.8,164.06 205.2,164.09 205.6,163.96 206.0,163.87 206.4,163.82 206.8,163.90 207.2,163.93 207.6,164.02 208.0,164.10 208.4,164.11 208.8,164.05 209.2,164.08 209.6,164.19 210.0,164.20 210.4,164.05 210.8,163.97 211.2,163.97 211.6,163.90 212.0,164.04 212.4,164.19 212.8,164.08 213.2,163.78 213.6,163.71 214.0,163.85 214.4,163.74 214.8,163.75 215.2,163.78 215.6,163.94 216.0,163.96 216.4,164.15 216.8,164.05 217.2,164.08 217.6,163.93 218.0,164.02 218.4,164.01 218.8,164.08 219.2,163.79 219.6,163.68 220.0,163.65 220.4,163.55 220.8,163.23 221.2,163.20 221.6,163.38 222.0,163.66 222.4,163.77 222.8,163.83 223.2,163.73 223.6,163.75 224.0,163.69 224.4,163.55 224.8,163.24 225.2,163.26 225.6,163.36 226.0,163.33 226.4,163.13 226.8,163.10 227.2,163.22 227.6,163.05 228.0,162.86 228.4,162.77 228.8,162.82 229.2,162.69 229.6,162.50 230.0,161.96 230.4,160.90 230.8,158.94 231.2,155.13 231.6,147.56 232.0,135.26 232.4,119.54 232.8,104.90 233.2,97.03 233.6,99.45 233.9,107.29 234.0,110.62 234.4,125.46 234.8,137.63 235.2,143.39 235.6,141.13 236.0,131.27 236.4,116.45 236.6,108.77 236.7,105.30 236.8,101.96 237.0,96.83 237.2,94.23 237.6,97.36 238.0,109.66 238.4,125.89 238.8,140.82 239.2,151.23 239.6,157.04 240.0,159.87 240.4,161.27 240.8,161.83 241.2,162.00 241.6,162.29 242.0,162.61 242.4,163.00 242.8,163.14 243.2,163.14 243.6,163.05 244.0,163.10 244.4,163.35 244.8,163.47 245.2,163.68 245.6,163.74 246.0,163.97 246.4,163.92 246.8,163.92 247.2,163.66 247.6,163.58 248.0,163.52 248.4,163.78 248.8,163.88 249.2,163.97 249.6,163.86 250.0,163.75 250.4,163.69 250.8,163.89 251.2,164.03 251.6,164.13 252.0,164.06 252.4,164.00 252.8,163.86 253.2,163.87 253.6,163.85 254.0,163.86 254.4,163.83 254.8,163.80 255.2,163.93 255.6,164.13 256.0,164.17 256.4,163.99 256.8,163.80 257.2,163.84 257.6,163.90 258.0,164.13 258.4,164.03 258.8,164.01 259.2,164.02 259.6,164.13 260.0,164.22 260.4,164.27 260.8,164.36 261.2,164.15 261.6,164.10 262.0,164.15 262.4,164.23 262.8,164.27 263.2,164.26 263.6,164.05 264.0,163.87 264.4,164.05 264.8,164.21 265.2,164.18 265.6,164.04 266.0,164.05 266.4,163.80 266.8,163.65 267.2,163.65 267.6,163.85 268.0,163.84 268.4,163.88 268.8,164.02 269.2,164.08 269.6,163.84 270.0,163.83 270.4,163.92 270.8,164.11 271.2,164.18 271.6,164.21 272.0,164.09 272.4,164.07 272.8,164.10 273.2,163.94 273.6,163.88 274.0,163.99 274.4,164.09 274.8,164.06 275.2,164.03 275.6,164.02 276.0,164.04 276.4,163.99 276.8,163.84 277.2,163.76 277.6,163.81 278.0,163.96 278.4,163.97 278.8,163.90 279.2,163.78 279.6,163.70 280.0,163.89 280.4,164.01 280.8,164.19 281.2,164.15 281.6,164.16 282.0,164.02 282.4,164.01 282.8,164.01 283.2,164.00 283.6,163.77 284.0,163.86 284.4,163.99 284.8,164.07 285.2,163.82 285.6,163.87 286.0,163.97 286.4,164.16 286.8,164.11 287.2,164.03 287.6,163.97 288.0,163.89 288.4,163.77 288.8,163.72 289.2,163.93 289.6,164.15 290.0,164.16 290.4,164.06 290.8,163.98 291.2,163.97 291.6,163.93 292.0,163.94 292.4,163.93 292.8,163.92 293.2,163.97 293.6,164.05 294.0,163.99 294.4,163.92 294.8,163.90 295.2,163.96 295.6,163.84 296.0,163.72 296.4,163.54 296.8,163.64 297.2,163.82 297.6,163.98 298.0,163.86 298.4,163.67 298.8,163.46 299.2,163.34 299.6,163.18 300.0,162.89 300.4,162.62 300.8,162.31 301.2,161.42 301.6,158.07 302.0,148.51 302.4,130.89 302.8,114.45 303.2,114.37 303.6,130.72 303.7,135.52 303.8,140.34 303.9,144.58 304.0,148.24 304.4,157.48 304.8,160.80 305.2,161.74 305.6,162.22 306.0,162.38 306.4,161.97 306.8,160.93 307.2,159.19 307.6,156.48 308.0,153.49 308.4,152.71 308.8,155.06 309.0,156.66 309.2,158.25 309.6,160.73 310.0,162.15 310.4,162.75 310.8,163.15 311.2,163.34 311.6,163.61 312.0,163.86 312.4,164.12 312.8,164.03 313.2,163.90 313.6,163.81 314.0,163.89 314.4,163.83 314.8,163.76 315.2,163.73 315.6,163.77 316.0,163.94 316.4,164.06 316.8,164.14 317.2,164.03 317.6,163.96 318.0,164.02 318.4,164.07 318.8,164.06 319.2,164.13 319.6,164.19 320.0,164.13 320.4,163.96 320.8,164.05 321.2,164.07 321.6,164.01 322.0,164.00 322.4,164.16 322.8,164.31 323.2,164.16 323.6,164.05 324.0,163.93 324.4,163.99 324.8,163.85 325.2,163.81 325.6,163.86 326.0,163.95 326.4,163.61 326.8,163.25 327.2,162.86 327.6,162.44 328.0,162.05 328.4,162.30 328.8,162.97 329.2,163.49 329.6,163.67 330.0,163.63 330.4,163.84 330.8,164.15 331.2,164.28 331.6,164.11 332.0,164.04 332.4,164.10 332.8,164.18 333.2,164.18 333.6,164.21 334.0,164.29 334.4,164.27 334.8,164.21 335.2,164.04 335.6,163.95 336.0,164.00 336.4,164.25 336.8,164.30"/>
<polyline stroke="#1e32e6" points="0.0,172.64 0.4,172.66 0.8,172.55 1.2,172.47 1.6,172.53 2.0,172.53 2.4,172.39 2.8,172.35 3.2,172.38 3.6,172.43 4.0,172.27 4.4,172.16 4.8,171.84 5.2,171.51 5.6,170.99 6.0,171.06 6.4,171.48 6.8,172.15 7.2,172.30 7.6,172.22 8.0,172.18 8.4,172.48 8.8,172.51 9.2,172.44 9.6,172.51 10.0,172.76 10.4,172.75 10.8,172.54 11.2,172.25 11.6,172.39 12.0,172.64 12.4,172.82 12.8,172.65 13.2,172.57 13.6,172.48 14.0,172.44 14.4,172.41 14.8,172.36 15.2,172.38 15.6,172.50 16.0,172.62 16.4,172.57 16.8,172.59 17.2,172.74 17.6,172.75 18.0,172.40 18.4,172.27 18.8,172.36 19.2,172.45 19.6,172.49 20.0,172.46 20.4,172.49 20.8,172.39 21.2,172.48 21.6,172.51 22.0,172.65 22.4,172.65 22.8,172.65 23.2,172.57 23.6,172.61 24.0,172.52 24.4,172.48 24.8,172.59 25.2,172.75 25.6,172.65 26.0,172.47 26.4,172.35 26.8,172.37 27.2,172.36 27.6,172.34 28.0,172.42 28.4,172.58 28.8,172.69 29.2,172.60 29.6,172.53 30.0,172.48 30.4,172.57 30.8,172.78 31.2,172.67 31.6,172.49 32.0,172.39 32.4,172.60 32.8,172.56 33.2,172.43 33.6,172.37 34.0,172.40 34.4,172.49 34.8,172.50 35.2,172.50 35.6,172.67 36.0,172.65 36.4,172.57 36.8,172.32 37.2,172.38 37.6,172.55 38.0,172.69 38.4,172.60 38.8,172.36 39.2,172.39 39.6,172.44 40.0,172.56 40.4,172.50 40.8,172.47 41.2,172.42 41.6,172.34 42.0,172.40 42.4,172.33 42.8,172.32 43.2,172.22 43.6,172.49 44.0,172.64 44.4,172.71 44.8,172.56 45.2,172.51 45.6,172.47 46.0,172.60 46.4,172.57 46.8,172.55 47.2,172.72 47.6,172.78 48.0,172.52 48.4,172.24 48.8,172.34 49.2,172.61 49.6,172.73 50.0,172.80 50.4,172.64 50.8,172.55 51.2,172.51 51.6,172.50 52.0,172.50 52.4,172.48 52.8,172.55 53.2,172.44 53.6,172.26 54.0,172.33 54.4,172.53 54.8,172.64 55.2,172.73 55.6,172.87 56.0,172.87 56.4,172.61 56.8,172.53 57.2,172.54 57.6,172.57 58.0,172.64 58.4,172.72 58.8,172.76 59.2,172.58 59.6,172.44 60.0,172.48 60.4,172.60 60.8,172.59 61.2,172.50 61.6,172.50 62.0,172.50 62.4,172.44 62.8,172.48 63.2,172.52 63.6,172.37 64.0,172.07 64.4,171.84 64.8,171.66 65.2,171.69 65.6,171.88 66.0,172.07 66.4,172.01 66.8,172.01 67.2,172.18 67.6,172.40 68.0,172.57 68.4,172.60 68.8,172.57 69.2,172.50 69.6,172.48 70.0,172.59 70.4,172.57 70.8,172.48 71.2,172.30 71.6,172.44 72.0,172.50 72.4,172.43 72.8,172.37 73.2,172.53 73.6,172.56 74.0,172.52 74.4,172.40 74.8,172.49 75.2,172.39 75.6,172.35 76.0,172.22 76.4,172.21 76.8,172.19 77.2,172.27 77.6,172.27 78.0,172.35 78.4,172.35 78.8,172.36 79.2,172.11 79.6,172.01 80.0,172.00 80.4,171.92 80.8,171.73 81.2,171.48 81.6,171.29 82.0,171.17 82.4,170.95 82.8,170.76 83.2,170.15 83.6,169.34 84.0,168.09 84.4,165.95 84.8,79.00 85.2,22.00 85.6,22.00 86.0,22.00 86.4,22.00 86.8,22.00 87.2,116.97 87.6,139.66 88.0,158.14 88.4,167.55 88.8,170.21 89.2,170.84 89.6,171.20 90.0,171.48 90.4,171.70 90.8,171.71 91.2,171.83 91.6,171.92 92.0,171.90 92.4,171.86 92.8,171.99 93.2,172.25 93.6,172.32 94.0,172.40 94.4,172.40 94.8,172.29 95.2,172.25 95.6,172.43 96.0,172.44 96.4,172.30 96.8,172.01 97.2,171.77 97.6,171.62 98.0,171.75 98.4,172.11 98.8,172.35 99.2,172.41 99.6,172.34 100.0,172.47 100.4,172.54 100.8,172.45 101.2,172.35 101.6,172.31 102.0,172.34 102.4,172.35 102.8,172.31 103.2,172.02 103.6,171.77 104.0,171.67 104.4,171.96 104.8,172.40 105.2,172.66 105.6,172.41 106.0,172.16 106.4,172.11 106.8,172.11 107.2,172.15 107.6,172.29 108.0,172.39 108.4,172.47 108.8,172.53 109.2,172.48 109.6,172.40 110.0,172.33 110.4,172.34 110.8,172.26 111.2,172.37 111.6,172.40 112.0,172.40 112.4,172.38 112.8,172.45 113.2,172.51 113.6,172.56 114.0,172.45 114.4,172.40 114.8,172.46 115.2,172.55 115.6,172.28 116.0,172.14 116.4,172.16 116.8,172.29 117.2,172.18 117.6,172.12 118.0,171.98 118.4,171.62 118.8,170.85 119.2,169.25 119.6,166.84 120.0,163.92 120.4,161.85 120.6,161.54 120.8,161.81 121.2,164.02 121.6,166.90 122.0,169.04 122.4,170.18 122.8,170.90 123.2,171.12 123.6,170.92 124.0,170.13 124.4,168.93 124.8,167.83 125.0,167.50 125.2,167.71 125.6,168.80 126.0,170.28 126.4,171.27 126.8,171.89 127.2,172.17 127.6,172.23 128.0,172.15 128.4,172.03 128.8,172.19 129.2,172.30 129.6,172.34 130.0,172.32 130.4,172.42 130.8,172.37 131.2,172.17 131.6,172.23 132.0,172.34 132.4,172.34 132.8,172.20 133.2,172.27 133.6,172.26 134.0,172.26 134.4,172.29 134.8,172.44 135.2,172.38 135.6,172.16 136.0,171.72 136.4,171.33 136.8,171.08 137.2,171.31 137.6,171.68 138.0,172.07 138.4,172.23 138.8,172.25 139.2,172.30 139.6,172.36 140.0,172.37 140.4,172.33 140.8,172.51 141.2,172.64 141.6,172.56 142.0,172.42 142.4,172.39 142.8,172.50 143.2,172.60 143.6,172.64 144.0,172.61 144.4,172.39 144.8,172.28 145.2,172.36 145.6,172.61 146.0,172.48 146.4,172.33 146.8,172.38 147.2,172.56 147.6,172.65 148.0,172.52 148.4,172.47 148.8,172.58 149.2,172.70 149.6,172.74 150.0,172.73 150.4,172.78 150.8,172.63 151.2,172.47 151.6,172.36 152.0,172.50 152.4,172.69 152.8,172.66 153.2,172.42 153.6,172.33 154.0,172.54 154.4,172.69 154.8,172.70 155.2,172.65 155.6,172.67 156.0,172.61 156.4,172.60 156.8,172.62 157.2,172.63 157.6,172.70 158.0,172.61 158.4,172.52 158.8,172.35 159.2,172.50 159.6,172.65 160.0,172.66 160.4,172.54 160.8,172.44 161.2,172.38 161.6,172.29 162.0,172.37 162.4,172.54 162.8,172.54 163.2,172.48 163.6,172.52 164.0,172.69 164.4,172.72 164.8,172.56 165.2,172.29 165.6,172.20 166.0,172.18 166.4,172.07 166.8,171.77 167.2,171.59 167.6,171.71 168.0,172.05 168.4,172.25 168.8,172.48 169.2,172.67 169.6,172.74 170.0,172.60 170.4,172.63 170.8,172.62 171.2,172.49 171.6,172.34 172.0,172.34 172.4,172.43 172.8,172.50 173.2,172.56 173.6,172.53 174.0,172.53 174.4,172.63 174.8,172.65 175.2,172.56 175.6,172.33 176.0,172.28 176.4,172.37 176.8,172.51 177.2,172.58 177.6,172.54 178.0,172.54 178.4,172.58 178.8,172.52 179.2,172.48 179.6,172.51 180.0,172.58 180.4,172.62 180.8,172.62 181.2,172.56 181.6,172.53 182.0,172.70 182.4,172.69 182.8,172.54 183.2,172.50 183.6,172.66 184.0,172.73 184.4,172.77 184.8,172.60 185.2,172.50 185.6,172.34 186.0,172.35 186.4,172.23 186.8,172.38 187.2,172.37 187.6,172.40 188.0,172.30 188.4,172.53 188.8,172.56 189.2,172.61 189.6,172.38 190.0,172.35 190.4,172.46 190.8,172.60 191.2,172.53 191.6,172.34 192.0,172.31 192.4,172.48 192.8,172.45 193.2,172.27 193.6,172.01 194.0,172.05 194.4,172.16 194.8,172.17 195.2,172.09 195.6,172.31 196.0,172.55 196.4,172.49 196.8,172.28 197.2,172.26 197.6,172.38 198.0,172.48 198.4,172.59 198.8,172.72 199.2,172.54 199.6,172.44 200.0,172.38 200.4,172.43 200.8,172.44 201.2,172.41 201.6,172.33 202.0,172.39 202.4,172.59 202.8,172.72 203.2,172.71 203.6,172.60 204.0,172.57 204.4,172.55 204.8,172.65 205.2,172.62 205.6,172.66 206.0,172.59 206.4,172.50 206.8,172.47 207.2,172.58 207.6,172.44 208.0,172.45 208.4,172.39 208.8,172.66 209.2,172.66 209.6,172.82 210.0,172.67 210.4,172.71 210.8,172.66 211.2,172.67 211.6,172.57 212.0,172.35 212.4,172.13 212.8,172.00 213.2,172.18 213.6,172.31 214.0,172.49 214.4,172.53 214.8,172.62 215.2,172.52 215.6,172.47 216.0,172.35 216.4,172.29 216.8,172.10 217.2,172.11 217.6,172.16 218.0,172.21 218.4,172.13 218.8,172.06 219.2,172.23 219.6,172.29 220.0,172.08 220.4,171.78 220.8,171.87 221.2,171.96 221.6,172.09 222.0,172.12 222.4,172.22 222.8,172.13 223.2,172.10 223.6,172.27 224.0,172.33 224.4,172.14 224.8,171.80 225.2,171.75 225.6,171.89 226.0,171.96 226.4,171.86 226.8,171.79 227.2,171.72 227.6,171.56 228.0,171.35 228.4,171.32 228.8,171.13 229.2,170.66 229.6,170.22 230.0,169.63 230.4,168.43 230.8,165.66 231.2,159.94 231.6,149.83 232.0,135.28 232.4,118.63 232.8,104.52 233.2,98.78 233.6,103.95 233.9,113.72 234.0,117.52 234.4,133.43 234.8,145.82 235.2,151.46 235.6,149.23 236.0,139.38 236.4,123.82 236.6,115.31 236.7,111.27 236.8,107.68 237.0,101.21 237.2,97.04 237.6,97.16 238.0,108.13 238.4,124.95 238.8,141.99 239.2,155.03 239.6,163.08 240.0,167.04 240.4,169.09 240.8,170.21 241.2,170.80 241.6,170.89 242.0,171.04 242.4,171.28 242.8,171.40 243.2,171.60 243.6,171.85 244.0,171.93 244.4,171.74 244.8,171.82 245.2,172.08 245.6,172.24 246.0,172.25 246.4,172.17 246.8,172.29 247.2,172.32 247.6,172.34 248.0,172.24 248.4,172.27 248.8,172.32 249.2,172.45 249.6,172.34 250.0,172.18 250.4,172.22 250.8,172.55 251.2,172.55 251.6,172.47 252.0,172.41 252.4,172.46 252.8,172.36 253.2,172.41 253.6,172.54 254.0,172.72 254.4,172.68 254.8,172.58 255.2,172.54 255.6,172.81 256.0,172.84 256.4,172.66 256.8,172.55 257.2,172.53 257.6,172.28 258.0,172.19 258.4,172.47 258.8,172.78 259.2,172.79 259.6,172.76 260.0,172.61 260.4,172.57 260.8,172.46 261.2,172.34 261.6,172.23 262.0,172.25 262.4,172.26 262.8,172.23 263.2,172.31 263.6,172.41 264.0,172.40 264.4,172.36 264.8,172.34 265.2,172.45 265.6,172.54 266.0,172.62 266.4,172.63 266.8,172.62 267.2,172.62 267.6,172.60 268.0,172.57 268.4,172.45 268.8,172.44 269.2,172.53 269.6,172.57 270.0,172.62 270.4,172.55 270.8,172.64 271.2,172.71 271.6,172.78 272.0,172.63 272.4,172.52 272.8,172.50 273.2,172.44 273.6,172.47 274.0,172.40 274.4,172.47 274.8,172.40 275.2,172.57 275.6,172.51 276.0,172.67 276.4,172.62 276.8,172.43 277.2,172.47 277.6,172.64 278.0,172.73 278.4,172.50 278.8,172.47 279.2,172.50 279.6,172.46 280.0,172.62 280.4,172.62 280.8,172.65 281.2,172.62 281.6,172.67 282.0,172.65 282.4,172.53 282.8,172.44 283.2,172.30 283.6,172.43 284.0,172.63 284.4,172.62 284.8,172.56 285.2,172.46 285.6,172.49 286.0,172.49 286.4,172.42 286.8,172.38 287.2,172.37 287.6,172.38 288.0,172.36 288.4,172.45 288.8,172.58 289.2,172.50 289.6,172.41 290.0,172.27 290.4,172.25 290.8,172.24 291.2,172.28 291.6,172.34 292.0,172.49 292.4,172.56 292.8,172.53 293.2,172.44 293.6,172.45 294.0,172.54 294.4,172.51 294.8,172.34 295.2,172.16 295.6,172.14 296.0,172.13 296.4,172.32 296.8,172.47 297.2,172.34 297.6,172.12 298.0,171.99 298.4,171.85 298.8,171.66 299.2,171.54 299.6,171.49 300.0,171.30 300.4,170.96 300.8,170.41 301.2,168.69 301.6,163.02 302.0,149.40 302.4,131.13 302.8,121.88 303.2,131.24 303.6,149.47 303.7,153.72 303.8,157.25 303.9,160.05 304.0,162.47 304.4,168.08 304.8,169.86 305.2,170.54 305.6,170.83 306.0,170.72 306.4,169.93 306.8,168.79 307.2,166.49 307.6,163.75 308.0,162.13 308.4,163.62 308.8,166.55 309.0,167.93 309.2,168.99 309.6,170.38 310.0,171.16 310.4,171.62 310.8,171.88 311.2,171.96 311.6,171.98 312.0,172.20 312.4,172.36 312.8,172.48 313.2,172.36 313.6,172.39 314.0,172.28 314.4,172.16 314.8,172.07 315.2,172.23 315.6,172.53 316.0,172.67 316.4,172.56 316.8,172.41 317.2,172.25 317.6,172.30 318.0,172.43 318.4,172.55 318.8,172.46 319.2,172.41 319.6,172.43 320.0,172.52 320.4,172.49 320.8,172.48 321.2,172.40 321.6,172.33 322.0,172.12 322.4,172.15 322.8,172.29 323.2,172.41 323.6,172.48 324.0,172.61 324.4,172.80 324.8,172.68 325.2,172.50 325.6,172.36 326.0,172.38 326.4,172.38 326.8,172.00 327.2,171.37 327.6,170.55 328.0,170.27 328.4,170.69 328.8,171.50 329.2,172.18 329.6,172.51 330.0,172.53 330.4,172.34 330.8,172.33 331.2,172.54 331.6,172.55 332.0,172.40 332.4,172.29 332.8,172.40 333.2,172.53 333.6,172.53 334.0,172.52 334.4,172.47 334.8,172.53 335.2,172.63 335.6,172.57 336.0,172.35 336.4,172.12 336.8,172.23"/>
<polyline stroke="#3a32a8" points="0.0,180.98 0.4,181.02 0.8,181.08 1.2,181.07 1.6,180.88 2.0,180.76 2.4,180.80 2.8,180.86 3.2,180.81 3.6,180.74 4.0,180.81 4.4,180.67 4.8,180.30 5.2,179.89 5.6,179.67 6.0,179.86 6.4,180.17 6.8,180.47 7.2,180.61 7.6,180.74 8.0,180.98 8.4,180.92 8.8,180.90 9.2,180.77 9.6,180.94 10.0,180.81 10.4,180.85 10.8,180.82 11.2,180.96 11.6,181.09 12.0,181.07 12.4,180.84 12.8,180.82 13.2,181.13 13.6,181.28 14.0,180.98 14.4,180.66 14.8,180.74 15.2,181.09 15.6,181.22 16.0,180.98 16.4,180.89 16.8,180.84 17.2,180.78 17.6,180.57 18.0,180.45 18.4,180.29 18.8,180.07 19.2,180.09 19.6,180.39 20.0,180.82 20.4,181.09 20.8,181.08 21.2,180.87 21.6,180.77 22.0,180.87 22.4,181.04 22.8,181.00 23.2,181.00 23.6,180.93 24.0,180.98 24.4,181.13 24.8,181.25 25.2,181.15 25.6,181.06 26.0,181.11 26.4,181.15 26.8,181.12 27.2,181.04 27.6,181.11 28.0,181.05 28.4,181.09 28.8,180.96 29.2,181.04 29.6,180.91 30.0,180.82 30.4,180.69 30.8,180.71 31.2,180.93 31.6,181.02 32.0,180.99 32.4,180.81 32.8,180.84 33.2,180.92 33.6,181.04 34.0,181.00 34.4,180.88 34.8,180.82 35.2,180.96 35.6,181.14 36.0,181.06 36.4,180.91 36.8,180.89 37.2,180.94 37.6,180.85 38.0,180.82 38.4,180.87 38.8,180.98 39.2,181.05 39.6,181.05 40.0,180.90 40.4,180.75 40.8,180.85 41.2,180.96 41.6,181.01 42.0,180.84 42.4,180.69 42.8,180.37 43.2,180.09 43.6,180.03 44.0,180.30 44.4,180.58 44.8,180.75 45.2,180.94 45.6,180.98 46.0,180.82 46.4,180.76 46.8,181.02 47.2,181.28 47.6,181.14 48.0,180.97 48.4,181.02 48.8,181.20 49.2,181.30 49.6,181.30 50.0,181.00 50.4,180.81 50.8,180.78 51.2,180.88 51.6,180.71 52.0,180.65 52.4,180.70 52.8,180.94 53.2,181.16 53.6,181.24 54.0,181.23 54.4,181.13 54.8,180.98 55.2,181.01 55.6,181.15 56.0,181.15 56.4,181.04 56.8,180.97 57.2,181.08 57.6,180.98 58.0,180.92 58.4,180.81 58.8,180.90 59.2,180.84 59.6,180.89 60.0,181.00 60.4,181.09 60.8,181.05 61.2,180.98 61.6,181.01 62.0,180.95 62.4,180.85 62.8,180.72 63.2,180.72 63.6,180.70 64.0,180.57 64.4,180.41 64.8,180.04 65.2,179.79 65.6,179.94 66.0,180.49 66.4,180.93 66.8,181.02 67.2,180.92 67.6,180.85 68.0,181.00 68.4,181.06 68.8,181.06 69.2,180.85 69.6,180.90 70.0,180.92 70.4,180.96 70.8,180.86 71.2,180.86 71.6,181.09 72.0,181.22 72.4,181.23 72.8,180.96 73.2,180.76 73.6,180.53 74.0,180.51 74.4,180.66 74.8,180.85 75.2,180.77 75.6,180.76 76.0,180.73 76.4,180.88 76.8,180.84 77.2,180.83 77.6,180.67 78.0,180.59 78.4,180.55 78.8,180.63 79.2,180.70 79.6,180.60 80.0,180.36 80.4,180.24 80.8,180.33 81.2,180.28 81.6,180.01 82.0,179.68 82.4,179.46 82.8,179.21 83.2,178.66 83.6,177.86 84.0,176.77 84.4,174.70 84.8,82.56 85.2,22.00 85.6,22.00 86.0,22.00 86.4,22.00 86.8,22.00 87.2,123.21 87.6,146.84 88.0,165.71 88.4,175.54 88.8,178.51 89.2,179.28 89.6,179.54 90.0,179.85 90.4,180.18 90.8,180.41 91.2,180.65 91.6,180.77 92.0,180.68 92.4,180.60 92.8,180.58 93.2,180.56 93.6,180.56 94.0,180.65 94.4,180.73 94.8,180.66 95.2,180.68 95.6,180.54 96.0,180.54 96.4,180.60 96.8,180.56 97.2,180.44 97.6,180.50 98.0,180.77 98.4,180.96 98.8,180.92 99.2,180.88 99.6,180.84 100.0,180.98 100.4,180.93 100.8,181.07 101.2,181.19 101.6,181.18 102.0,180.97 102.4,180.77 102.8,180.59 103.2,180.35 103.6,180.04 104.0,179.87 104.4,180.12 104.8,180.56 105.2,180.81 105.6,180.77 106.0,180.68 106.4,180.69 106.8,180.66 107.2,180.75 107.6,180.85 108.0,180.93 108.4,180.98 108.8,181.05 109.2,181.11 109.6,180.96 110.0,180.83 110.4,180.75 110.8,180.64 111.2,180.66 111.6,180.83 112.0,180.88 112.4,180.84 112.8,180.80 113.2,180.90 113.6,180.93 114.0,181.01 114.4,180.94 114.8,180.88 115.2,180.79 115.6,180.59 116.0,180.60 116.4,180.70 116.8,180.75 117.2,180.60 117.6,180.55 118.0,180.29 118.4,179.76 118.8,178.91 119.2,177.32 119.6,174.53 120.0,171.21 120.4,168.60 120.6,168.26 120.8,168.65 121.2,171.49 121.6,174.75 122.0,177.23 122.4,178.55 122.8,179.22 123.2,179.35 123.6,179.26 124.0,178.64 124.4,177.47 124.8,176.43 125.0,176.31 125.2,176.43 125.6,177.40 126.0,178.66 126.4,179.69 126.8,180.28 127.2,180.52 127.6,180.57 128.0,180.60 128.4,180.56 128.8,180.57 129.2,180.80 129.6,181.06 130.0,181.22 130.4,181.12 130.8,181.00 131.2,180.96 131.6,180.95 132.0,181.02 132.4,181.01 132.8,181.08 133.2,180.94 133.6,181.03 134.0,181.04 134.4,181.09 134.8,180.87 135.2,180.69 135.6,180.52 136.0,180.18 136.4,179.82 136.8,179.40 137.2,179.56 137.6,179.85 138.0,180.29 138.4,180.56 138.8,180.86 139.2,180.90 139.6,180.93 140.0,180.94 140.4,181.07 140.8,180.99 141.2,180.94 141.6,180.85 142.0,180.87 142.4,180.97 142.8,181.15 143.2,181.12 143.6,180.97 144.0,180.90 144.4,180.90 144.8,180.86 145.2,180.80 145.6,180.90 146.0,180.90 146.4,181.05 146.8,180.92 147.2,180.95 147.6,180.96 148.0,181.06 148.4,180.85 148.8,180.79 149.2,180.80 149.6,180.97 150.0,181.03 150.4,181.09 150.8,181.02 151.2,181.07 151.6,181.08 152.0,181.10 152.4,181.08 152.8,181.04 153.2,181.06 153.6,181.19 154.0,181.33 154.4,181.24 154.8,181.15 155.2,181.00 155.6,180.88 156.0,180.77 156.4,180.81 156.8,180.94 157.2,180.98 157.6,180.93 158.0,180.76 158.4,180.75 158.8,180.69 159.2,180.85 159.6,180.95 160.0,181.12 160.4,181.18 160.8,181.24 161.2,181.17 161.6,181.07 162.0,181.00 162.4,180.79 162.8,180.75 163.2,180.78 163.6,180.85 164.0,180.78 164.4,180.83 164.8,180.95 165.2,180.91 165.6,180.71 166.0,180.61 166.4,180.56 166.8,180.41 167.2,180.11 167.6,180.02 168.0,180.30 168.4,180.75 168.8,180.98 169.2,180.95 169.6,181.01 170.0,181.28 170.4,181.38 170.8,181.32 171.2,181.11 171.6,180.97 172.0,180.92 172.4,180.90 172.8,180.97 173.2,181.02 173.6,181.04 174.0,180.91 174.4,180.89 174.8,180.91 175.2,181.01 175.6,180.95 176.0,180.99 176.4,180.99 176.8,181.19 177.2,181.13 177.6,181.22 178.0,181.36 178.4,181.44 178.8,181.38 179.2,181.30 179.6,181.19 180.0,180.94 180.4,180.94 180.8,181.10 181.2,181.19 181.6,181.16 182.0,181.24 182.4,181.18 182.8,181.03 183.2,180.85 183.6,180.87 184.0,180.90 184.4,180.92 184.8,180.93 185.2,180.97 185.6,180.96 186.0,180.96 186.4,181.04 186.8,181.09 187.2,181.15 187.6,180.99 188.0,180.92 188.4,180.87 188.8,180.81 189.2,180.92 189.6,180.96 190.0,181.08 190.4,181.03 190.8,181.20 191.2,181.11 191.6,180.81 192.0,180.68 192.4,180.73 192.8,180.82 193.2,180.56 193.6,180.36 194.0,180.18 194.4,180.22 194.8,180.56 195.2,180.80 195.6,180.76 196.0,180.64 196.4,180.82 196.8,181.06 197.2,181.02 197.6,180.97 198.0,180.88 198.4,180.87 198.8,180.93 199.2,180.99 199.6,181.04 200.0,181.01 200.4,181.03 200.8,180.96 201.2,181.05 201.6,181.09 202.0,181.03 202.4,180.93 202.8,181.03 203.2,181.14 203.6,181.02 204.0,180.84 204.4,180.75 204.8,180.93 205.2,181.05 205.6,181.16 206.0,181.14 206.4,181.10 206.8,181.08 207.2,181.05 207.6,181.06 208.0,180.84 208.4,180.78 208.8,180.77 209.2,180.85 209.6,180.86 210.0,180.82 210.4,180.81 210.8,180.63 211.2,180.64 211.6,180.67 212.0,180.97 212.4,181.06 212.8,181.11 213.2,180.77 213.6,180.63 214.0,180.55 214.4,180.85 214.8,181.01 215.2,181.09 215.6,180.97 216.0,180.90 216.4,180.88 216.8,180.90 217.2,180.95 217.6,180.93 218.0,180.79 218.4,180.83 218.8,180.83 219.2,180.72 219.6,180.67 220.0,180.70 220.4,180.65 220.8,180.41 221.2,180.37 221.6,180.54 222.0,180.70 222.4,180.81 222.8,180.65 223.2,180.66 223.6,180.61 224.0,180.61 224.4,180.37 224.8,180.39 225.2,180.46 225.6,180.51 226.0,180.41 226.4,180.27 226.8,180.25 227.2,180.20 227.6,180.18 228.0,179.97 228.4,179.68 228.8,179.37 229.2,179.07 229.6,178.65 230.0,177.91 230.4,176.23 230.8,172.63 231.2,165.12 231.6,152.83 232.0,135.75 232.4,117.29 232.8,103.32 233.2,100.16 233.6,108.97 233.9,120.94 234.0,125.37 234.4,142.74 234.8,155.46 235.2,160.53 235.6,157.07 236.0,145.56 236.4,128.27 236.6,118.98 236.7,114.41 236.8,110.34 237.0,103.51 237.2,99.15 237.6,99.32 238.0,111.28 238.4,129.76 238.8,148.15 239.2,162.27 239.6,171.10 240.0,175.71 240.4,177.76 240.8,178.75 241.2,179.27 241.6,179.54 242.0,179.75 242.4,179.83 242.8,179.93 243.2,180.04 243.6,180.16 244.0,180.05 244.4,180.01 244.8,180.27 245.2,180.49 245.6,180.54 246.0,180.50 246.4,180.47 246.8,180.41 247.2,180.32 247.6,180.50 248.0,180.60 248.4,180.78 248.8,180.73 249.2,180.66 249.6,180.58 250.0,180.71 250.4,180.93 250.8,180.94 251.2,180.78 251.6,180.71 252.0,180.67 252.4,180.72 252.8,180.65 253.2,180.65 253.6,180.73 254.0,180.89 254.4,180.89 254.8,180.82 255.2,180.83 255.6,180.89 256.0,180.98 256.4,181.02 256.8,180.85 257.2,180.76 257.6,180.77 258.0,180.95 258.4,181.05 258.8,181.10 259.2,181.03 259.6,180.86 260.0,180.69 260.4,180.63 260.8,180.80 261.2,181.05 261.6,181.05 262.0,180.91 262.4,180.74 262.8,180.74 263.2,180.83 263.6,180.81 264.0,180.88 264.4,180.83 264.8,181.05 265.2,181.07 265.6,181.12 266.0,180.84 266.4,180.83 266.8,180.73 267.2,180.86 267.6,180.86 268.0,180.98 268.4,180.98 268.8,181.11 269.2,181.20 269.6,181.25 270.0,181.24 270.4,181.08 270.8,180.88 271.2,180.87 271.6,180.99 272.0,181.02 272.4,180.94 272.8,181.00 273.2,181.13 273.6,181.09 274.0,180.89 274.4,180.66 274.8,180.66 275.2,180.77 275.6,180.81 276.0,180.90 276.4,181.12 276.8,181.18 277.2,181.10 277.6,180.98 278.0,181.06 278.4,181.04 278.8,181.03 279.2,181.05 279.6,181.11 280.0,181.08 280.4,181.02 280.8,180.95 281.2,180.95 281.6,180.97 282.0,181.06 282.4,180.95 282.8,180.90 283.2,180.83 283.6,180.91 284.0,180.95 284.4,180.94 284.8,180.79 285.2,180.81 285.6,180.99 286.0,180.90 286.4,180.85 286.8,180.85 287.2,180.88 287.6,180.81 288.0,180.84 288.4,180.90 288.8,180.92 289.2,181.14 289.6,181.26 290.0,181.22 290.4,181.02 290.8,180.97 291.2,180.99 291.6,180.93 292.0,180.91 292.4,180.84 292.8,180.81 293.2,180.75 293.6,180.88 294.0,181.00 294.4,180.76 294.8,180.66 295.2,180.69 295.6,180.86 296.0,180.85 296.4,180.79 296.8,180.61 297.2,180.30 297.6,180.18 298.0,180.27 298.4,180.31 298.8,180.16 299.2,179.96 299.6,179.77 300.0,179.47 300.4,178.95 300.8,178.07 301.2,174.90 301.6,165.64 302.0,148.41 302.4,132.22 302.8,132.18 303.2,148.16 303.6,165.32 303.7,168.41 303.8,171.10 303.9,173.20 304.0,174.86 304.4,178.03 304.8,178.96 305.2,179.15 305.6,179.08 306.0,178.80 306.4,177.77 306.8,175.96 307.2,173.37 307.6,171.73 308.0,172.33 308.4,174.87 308.8,177.29 309.0,178.13 309.2,178.67 309.6,179.58 310.0,180.24 310.4,180.53 310.8,180.55 311.2,180.54 311.6,180.50 312.0,180.48 312.4,180.55 312.8,180.71 313.2,180.85 313.6,180.89 314.0,180.94 314.4,180.91 314.8,180.94 315.2,181.10 315.6,181.09 316.0,180.98 316.4,180.81 316.8,180.91 317.2,180.96 317.6,180.94 318.0,180.89 318.4,180.90 318.8,180.96 319.2,180.97 319.6,181.07 320.0,181.15 320.4,181.09 320.8,180.99 321.2,181.10 321.6,181.12 322.0,181.12 322.4,180.97 322.8,180.85 323.2,180.69 323.6,180.78 324.0,180.90 324.4,180.88 324.8,180.78 325.2,180.70 325.6,180.64 326.0,180.59 326.4,180.35 326.8,180.15 327.2,179.85 327.6,179.52 328.0,179.29 328.4,179.51 328.8,179.98 329.2,180.17 329.6,180.44 330.0,180.61 330.4,180.90 330.8,181.01 331.2,181.05 331.6,180.90 332.0,180.84 332.4,180.97 332.8,181.15 333.2,181.09 333.6,180.93 334.0,180.83 334.4,180.81 334.8,180.71 335.2,180.73 335.6,180.90 336.0,181.11 336.4,181.03 336.8,180.96"/>
<polyline stroke="#b040f0" points="0.0,189.39 0.4,189.24 0.8,189.27 1.2,189.27 1.6,189.30 2.0,189.47 2.4,189.75 2.8,189.79 3.2,189.64 3.6,189.51 4.0,189.36 4.4,189.37 4.8,189.27 5.2,189.00 5.6,188.69 6.0,188.73 6.4,189.05 6.8,189.21 7.2,189.26 7.6,189.22 8.0,189.44 8.4,189.64 8.8,189.68 9.2,189.56 9.6,189.52 10.0,189.43 10.4,189.44 10.8,189.41 11.2,189.48 11.6,189.46 12.0,189.51 12.4,189.47 12.8,189.52 13.2,189.55 13.6,189.52 14.0,189.45 14.4,189.42 14.8,189.48 15.2,189.52 15.6,189.51 16.0,189.44 16.4,189.37 16.8,189.37 17.2,189.44 17.6,189.34 18.0,188.89 18.4,188.27 18.8,187.84 19.2,188.09 19.6,188.50 20.0,188.83 20.4,189.01 20.8,189.23 21.2,189.34 21.6,189.31 22.0,189.33 22.4,189.33 22.8,189.20 23.2,189.20 23.6,189.34 24.0,189.66 24.4,189.71 24.8,189.68 25.2,189.51 25.6,189.58 26.0,189.74 26.4,189.84 26.8,189.66 27.2,189.48 27.6,189.58 28.0,189.55 28.4,189.57 28.8,189.45 29.2,189.43 29.6,189.36 30.0,189.50 30.4,189.64 30.8,189.74 31.2,189.62 31.6,189.49 32.0,189.47 32.4,189.59 32.8,189.66 33.2,189.62 33.6,189.55 34.0,189.30 34.4,189.11 34.8,189.20 35.2,189.34 35.6,189.45 36.0,189.48 36.4,189.56 36.8,189.59 37.2,189.52 37.6,189.53 38.0,189.47 38.4,189.39 38.8,189.16 39.2,189.14 39.6,189.41 40.0,189.67 40.4,189.70 40.8,189.60 41.2,189.55 41.6,189.41 42.0,189.25 42.4,188.92 42.8,188.44 43.2,188.21 43.6,188.35 44.0,188.69 44.4,188.89 44.8,189.08 45.2,189.13 45.6,189.30 46.0,189.55 46.4,189.55 46.8,189.26 47.2,189.20 47.6,189.24 48.0,189.44 48.4,189.37 48.8,189.46 49.2,189.37 49.6,189.36 50.0,189.27 50.4,189.28 50.8,189.30 51.2,189.27 51.6,189.19 52.0,189.10 52.4,189.19 52.8,189.26 53.2,189.18 53.6,189.11 54.0,189.34 54.4,189.55 54.8,189.73 55.2,189.61 55.6,189.54 56.0,189.49 56.4,189.45 56.8,189.38 57.2,189.41 57.6,189.44 58.0,189.30 58.4,189.17 58.8,189.24 59.2,189.41 59.6,189.50 60.0,189.41 60.4,189.33 60.8,189.39 61.2,189.46 61.6,189.35 62.0,189.24 62.4,189.29 62.8,189.35 63.2,189.21 63.6,188.98 64.0,188.79 64.4,188.44 64.8,188.11 65.2,188.07 65.6,188.56 66.0,188.88 66.4,189.24 66.8,189.28 67.2,189.36 67.6,189.18 68.0,189.28 68.4,189.37 68.8,189.62 69.2,189.75 69.6,189.63 70.0,189.43 70.4,189.37 70.8,189.36 71.2,189.37 71.6,189.41 72.0,189.41 72.4,189.29 72.8,189.32 73.2,189.37 73.6,189.48 74.0,189.52 74.4,189.42 74.8,189.11 75.2,189.01 75.6,189.09 76.0,189.14 76.4,189.06 76.8,189.21 77.2,189.30 77.6,189.43 78.0,189.40 78.4,189.23 78.8,189.02 79.2,189.08 79.6,189.04 80.0,188.77 80.4,188.58 80.8,188.60 81.2,188.68 81.6,188.52 82.0,188.42 82.4,187.98 82.8,187.53 83.2,186.91 83.6,186.31 84.0,185.24 84.4,183.07 84.8,85.90 85.2,22.00 85.6,22.00 86.0,22.00 86.4,22.00 86.8,22.00 87.2,128.86 87.6,153.73 88.0,173.47 88.4,183.80 88.8,187.03 89.2,187.79 89.6,188.04 90.0,188.08 90.4,188.36 90.8,188.52 91.2,188.77 91.6,188.98 92.0,188.96 92.4,188.71 92.8,188.75 93.2,189.05 93.6,189.12 94.0,189.03 94.4,188.97 94.8,189.13 95.2,189.09 95.6,189.06 96.0,188.99 96.4,189.00 96.8,188.96 97.2,188.86 97.6,188.79 98.0,188.85 98.4,188.94 98.8,189.23 99.2,189.45 99.6,189.66 100.0,189.71 100.4,189.68 100.8,189.67 101.2,189.58 101.6,189.55 102.0,189.43 102.4,189.23 102.8,189.02 103.2,188.52 103.6,187.97 104.0,187.76 104.4,188.33 104.8,188.88 105.2,189.11 105.6,189.06 106.0,189.19 106.4,189.31 106.8,189.47 107.2,189.46 107.6,189.50 108.0,189.38 108.4,189.40 108.8,189.60 109.2,189.72 109.6,189.59 110.0,189.43 110.4,189.40 110.8,189.32 111.2,189.21 111.6,189.30 112.0,189.25 112.4,189.35 112.8,189.40 113.2,189.47 113.6,189.34 114.0,189.30 114.4,189.10 114.8,189.13 115.2,189.13 115.6,189.27 116.0,189.16 116.4,189.13 116.8,189.03 117.2,189.08 117.6,188.97 118.0,188.59 118.4,187.99 118.8,186.81 119.2,184.78 119.6,181.61 120.0,177.87 120.4,174.72 120.6,174.35 120.8,174.89 121.2,178.09 121.6,181.92 122.0,185.00 122.4,186.85 122.8,187.92 123.2,188.48 123.6,188.70 124.0,188.44 124.4,188.01 124.8,187.62 125.0,187.58 125.2,187.63 125.6,187.92 126.0,188.30 126.4,188.60 126.8,188.84 127.2,189.06 127.6,189.25 128.0,189.39 128.4,189.37 128.8,189.42 129.2,189.50 129.6,189.57 130.0,189.47 130.4,189.51 130.8,189.43 131.2,189.26 131.6,189.04 132.0,189.23 132.4,189.42 132.8,189.45 133.2,189.16 133.6,189.09 134.0,189.10 134.4,189.07 134.8,189.10 135.2,189.17 135.6,189.21 136.0,188.81 136.4,188.32 136.8,187.73 137.2,187.75 137.6,188.16 138.0,188.73 138.4,189.08 138.8,189.21 139.2,189.23 139.6,189.30 140.0,189.36 140.4,189.34 140.8,189.43 141.2,189.61 141.6,189.64 142.0,189.37 142.4,189.28 142.8,189.50 143.2,189.68 143.6,189.51 144.0,189.38 144.4,189.45 144.8,189.58 145.2,189.52 145.6,189.60 146.0,189.67 146.4,189.62 146.8,189.52 147.2,189.49 147.6,189.59 148.0,189.56 148.4,189.57 148.8,189.53 149.2,189.48 149.6,189.40 150.0,189.35 150.4,189.38 150.8,189.46 151.2,189.51 151.6,189.41 152.0,189.39 152.4,189.44 152.8,189.60 153.2,189.61 153.6,189.63 154.0,189.60 154.4,189.45 154.8,189.50 155.2,189.67 155.6,189.84 156.0,189.65 156.4,189.53 156.8,189.49 157.2,189.62 157.6,189.59 158.0,189.47 158.4,189.27 158.8,189.25 159.2,189.40 159.6,189.49 160.0,189.55 160.4,189.48 160.8,189.56 161.2,189.58 161.6,189.59 162.0,189.61 162.4,189.67 162.8,189.57 163.2,189.41 163.6,189.48 164.0,189.57 164.4,189.50 164.8,189.46 165.2,189.33 165.6,189.09 166.0,188.76 166.4,188.49 166.8,188.27 167.2,188.14 167.6,188.36 168.0,188.65 168.4,188.88 168.8,189.16 169.2,189.22 169.6,189.33 170.0,189.37 170.4,189.52 170.8,189.50 171.2,189.38 171.6,189.41 172.0,189.48 172.4,189.68 172.8,189.47 173.2,189.37 173.6,189.33 174.0,189.31 174.4,189.21 174.8,189.27 175.2,189.40 175.6,189.43 176.0,189.50 176.4,189.53 176.8,189.45 177.2,189.47 177.6,189.46 178.0,189.47 178.4,189.55 178.8,189.65 179.2,189.60 179.6,189.51 180.0,189.57 180.4,189.45 180.8,189.26 181.2,189.13 181.6,189.22 182.0,189.42 182.4,189.63 182.8,189.73 183.2,189.73 183.6,189.61 184.0,189.49 184.4,189.27 184.8,189.36 185.2,189.51 185.6,189.61 186.0,189.40 186.4,189.25 186.8,189.30 187.2,189.44 187.6,189.58 188.0,189.58 188.4,189.51 188.8,189.31 189.2,189.28 189.6,189.48 190.0,189.76 190.4,189.70 190.8,189.54 191.2,189.36 191.6,189.38 192.0,189.12 192.4,188.98 192.8,188.72 193.2,188.75 193.6,188.50 194.0,188.38 194.4,188.39 194.8,188.63 195.2,188.92 195.6,189.26 196.0,189.50 196.4,189.52 196.8,189.55 197.2,189.61 197.6,189.55 198.0,189.34 198.4,189.20 198.8,189.17 199.2,189.36 199.6,189.56 200.0,189.63 200.4,189.62 200.8,189.37 201.2,189.30 201.6,189.20 202.0,189.42 202.4,189.54 202.8,189.72 203.2,189.71 203.6,189.69 204.0,189.75 204.4,189.67 204.8,189.64 205.2,189.54 205.6,189.43 206.0,189.33 206.4,189.46 206.8,189.59 207.2,189.48 207.6,189.44 208.0,189.43 208.4,189.64 208.8,189.69 209.2,189.68 209.6,189.46 210.0,189.45 210.4,189.57 210.8,189.58 211.2,189.45 211.6,189.18 212.0,189.19 212.4,189.38 212.8,189.47 213.2,189.37 213.6,189.21 214.0,189.26 214.4,189.24 214.8,189.25 215.2,189.19 215.6,189.24 216.0,189.36 216.4,189.51 216.8,189.34 217.2,189.29 217.6,189.36 218.0,189.55 218.4,189.38 218.8,189.19 219.2,189.10 219.6,189.24 220.0,189.14 220.4,189.01 220.8,188.99 221.2,189.11 221.6,189.14 222.0,189.11 222.4,189.20 222.8,189.08 223.2,189.05 223.6,188.94 224.0,189.00 224.4,188.88 224.8,188.63 225.2,188.65 225.6,188.83 226.0,189.00 226.4,188.80 226.8,188.67 227.2,188.52 227.6,188.39 228.0,188.33 228.4,188.15 228.8,187.78 229.2,187.48 229.6,187.03 230.0,186.01 230.4,183.62 230.8,178.88 231.2,169.80 231.6,155.10 232.0,135.65 232.4,116.08 232.8,103.48 233.2,103.52 233.6,115.66 233.9,129.47 234.0,134.33 234.4,152.67 234.8,165.08 235.2,169.26 235.6,164.76 236.0,152.00 236.4,133.23 236.6,123.11 236.7,118.25 236.8,113.83 237.0,106.30 237.2,101.23 237.6,101.39 238.0,114.19 238.4,134.19 238.8,154.12 239.2,169.45 239.6,178.86 240.0,183.70 240.4,185.92 240.8,186.91 241.2,187.55 241.6,188.08 242.0,188.37 242.4,188.51 242.8,188.62 243.2,188.66 243.6,188.66 244.0,188.79 244.4,188.95 244.8,188.82 245.2,188.74 245.6,188.63 246.0,188.73 246.4,188.85 246.8,188.96 247.2,188.88 247.6,189.03 248.0,189.08 248.4,189.18 248.8,189.17 249.2,189.37 249.6,189.24 250.0,189.19 250.4,189.24 250.8,189.39 251.2,189.25 251.6,189.00 252.0,188.95 252.4,189.17 252.8,189.48 253.2,189.56 253.6,189.52 254.0,189.51 254.4,189.56 254.8,189.43 255.2,189.38 255.6,189.30 256.0,189.34 256.4,189.37 256.8,189.55 257.2,189.54 257.6,189.54 258.0,189.61 258.4,189.71 258.8,189.61 259.2,189.50 259.6,189.44 260.0,189.44 260.4,189.48 260.8,189.58 261.2,189.59 261.6,189.56 262.0,189.52 262.4,189.52 262.8,189.39 263.2,189.38 263.6,189.39 264.0,189.48 264.4,189.53 264.8,189.62 265.2,189.64 265.6,189.53 266.0,189.33 266.4,189.22 266.8,189.29 267.2,189.43 267.6,189.57 268.0,189.62 268.4,189.69 268.8,189.58 269.2,189.44 269.6,189.38 270.0,189.37 270.4,189.29 270.8,189.17 271.2,189.31 271.6,189.53 272.0,189.59 272.4,189.60 272.8,189.54 273.2,189.40 273.6,189.21 274.0,189.10 274.4,189.19 274.8,189.16 275.2,189.13 275.6,189.10 276.0,189.33 276.4,189.52 276.8,189.55 277.2,189.47 277.6,189.43 278.0,189.65 278.4,189.58 278.8,189.34 279.2,188.98 279.6,189.00 280.0,189.14 280.4,189.38 280.8,189.49 281.2,189.47 281.6,189.39 282.0,189.42 282.4,189.38 282.8,189.41 283.2,189.43 283.6,189.49 284.0,189.49 284.4,189.54 284.8,189.58 285.2,189.48 285.6,189.43 286.0,189.29 286.4,189.15 286.8,189.07 287.2,189.25 287.6,189.46 288.0,189.51 288.4,189.54 288.8,189.38 289.2,189.24 289.6,189.19 290.0,189.26 290.4,189.31 290.8,189.39 291.2,189.47 291.6,189.44 292.0,189.56 292.4,189.59 292.8,189.52 293.2,189.42 293.6,189.57 294.0,189.50 294.4,189.25 294.8,189.20 295.2,189.38 295.6,189.49 296.0,189.33 296.4,189.24 296.8,189.05 297.2,188.88 297.6,188.88 298.0,188.88 298.4,188.78 298.8,188.60 299.2,188.56 299.6,188.24 300.0,187.78 300.4,187.19 300.8,185.51 301.2,179.93 301.6,166.31 302.0,147.67 302.4,138.07 302.8,147.63 303.2,166.29 303.6,179.87 303.7,181.71 303.8,183.26 303.9,184.50 304.0,185.49 304.4,187.13 304.8,187.59 305.2,187.71 305.6,187.77 306.0,187.64 306.4,186.98 306.8,185.67 307.2,184.24 307.6,183.87 308.0,184.90 308.4,186.39 308.8,187.59 309.0,188.06 309.2,188.52 309.6,189.03 310.0,189.31 310.4,189.28 310.8,189.26 311.2,189.15 311.6,189.03 312.0,188.90 312.4,188.96 312.8,189.18 313.2,189.49 313.6,189.57 314.0,189.38 314.4,189.17 314.8,189.25 315.2,189.30 315.6,189.26 316.0,189.28 316.4,189.41 316.8,189.47 317.2,189.45 317.6,189.44 318.0,189.51 318.4,189.61 318.8,189.62 319.2,189.55 319.6,189.49 320.0,189.45 320.4,189.44 320.8,189.48 321.2,189.66 321.6,189.71 322.0,189.67 322.4,189.65 322.8,189.60 323.2,189.50 323.6,189.46 324.0,189.57 324.4,189.53 324.8,189.36 325.2,189.31 325.6,189.25 326.0,189.32 326.4,189.28 326.8,189.06 327.2,188.66 327.6,188.12 328.0,187.80 328.4,188.00 328.8,188.60 329.2,188.95 329.6,189.05 330.0,189.14 330.4,189.25 330.8,189.34 331.2,189.38 331.6,189.47 332.0,189.48 332.4,189.50 332.8,189.45 333.2,189.47 333.6,189.49 334.0,189.58 334.4,189.58 334.8,189.52 335.2,189.45 335.6,189.53 336.0,189.57 336.4,189.55 336.8,189.46"/>
<polyline stroke="#ff1e2d" points="0.0,121.83 0.4,122.00 0.8,121.99 1.2,121.94 1.6,121.79 2.0,121.80 2.4,121.65 2.8,121.57 3.2,121.54 3.6,121.55 4.0,121.59 4.4,121.46 4.8,121.30 5.2,120.96 5.6,120.73 6.0,120.73 6.4,121.07 6.8,121.63 7.2,121.78 7.6,121.72 8.0,121.56 8.4,121.60 8.8,121.59 9.2,121.58 9.6,121.62 10.0,121.71 10.4,121.66 10.8,121.61 11.2,121.61 11.6,121.69 12.0,121.68 12.4,121.71 12.8,121.75 13.2,121.79 13.6,121.70 14.0,121.72 14.4,121.66 14.8,121.65 15.2,121.57 15.6,121.59 16.0,121.72 16.4,121.65 16.8,121.61 17.2,121.54 17.6,121.77 18.0,121.75 18.4,121.79 18.8,121.60 19.2,121.64 19.6,121.60 20.0,121.75 20.4,121.68 20.8,121.52 21.2,121.34 21.6,121.51 22.0,121.74 22.4,121.76 22.8,121.70 23.2,121.68 23.6,121.64 24.0,121.49 24.4,121.62 24.8,121.88 25.2,121.92 25.6,121.78 26.0,121.73 26.4,121.98 26.8,121.81 27.2,121.63 27.6,121.59 28.0,121.67 28.4,121.63 28.8,121.65 29.2,121.81 29.6,121.75 30.0,121.73 30.4,121.65 30.8,121.72 31.2,121.73 31.6,121.73 32.0,121.57 32.4,121.65 32.8,121.84 33.2,122.00 33.6,121.82 34.0,121.67 34.4,121.74 34.8,121.90 35.2,121.83 35.6,121.67 36.0,121.65 36.4,121.70 36.8,121.62 37.2,121.68 37.6,121.80 38.0,121.84 38.4,121.60 38.8,121.48 39.2,121.52 39.6,121.72 40.0,121.76 40.4,121.81 40.8,121.79 41.2,121.74 41.6,121.42 42.0,121.27 42.4,121.26 42.8,121.45 43.2,121.59 43.6,121.82 44.0,121.86 44.4,121.71 44.8,121.75 45.2,121.87 45.6,121.88 46.0,121.67 46.4,121.55 46.8,121.59 47.2,121.68 47.6,121.90 48.0,121.96 48.4,121.99 48.8,121.96 49.2,121.86 49.6,121.72 50.0,121.62 50.4,121.56 50.8,121.55 51.2,121.56 51.6,121.69 52.0,121.73 52.4,121.59 52.8,121.50 53.2,121.65 53.6,121.69 54.0,121.55 54.4,121.47 54.8,121.53 55.2,121.51 55.6,121.53 56.0,121.55 56.4,121.57 56.8,121.64 57.2,121.64 57.6,121.58 58.0,121.66 58.4,121.77 58.8,121.77 59.2,121.75 59.6,121.75 60.0,121.76 60.4,121.77 60.8,121.70 61.2,121.63 61.6,121.70 62.0,121.84 62.4,121.74 62.8,121.66 63.2,121.72 63.6,121.77 64.0,121.74 64.4,121.67 64.8,121.57 65.2,121.50 65.6,121.47 66.0,121.61 66.4,121.64 66.8,121.62 67.2,121.54 67.6,121.56 68.0,121.62 68.4,121.67 68.8,121.59 69.2,121.46 69.6,121.46 70.0,121.61 70.4,121.66 70.8,121.81 71.2,121.92 71.6,121.86 72.0,121.68 72.4,121.71 72.8,121.74 73.2,121.52 73.6,121.36 74.0,121.37 74.4,121.65 74.8,121.54 75.2,121.53 75.6,121.42 76.0,121.57 76.4,121.43 76.8,121.40 77.2,121.39 77.6,121.41 78.0,121.40 78.4,121.29 78.8,121.17 79.2,121.00 79.6,120.90 80.0,120.83 80.4,120.85 80.8,120.71 81.2,120.38 81.6,120.08 82.0,120.10 82.4,120.06 82.8,119.77 83.2,119.25 83.6,118.45 84.0,117.38 84.4,115.78 84.8,113.62 85.2,108.26 85.6,80.10 86.0,22.00 86.4,22.00 86.8,22.00 87.2,22.00 87.6,22.00 88.0,62.96 88.4,105.42 88.8,112.90 89.2,115.26 89.6,116.99 90.0,118.07 90.4,118.67 90.8,119.12 91.2,119.65 91.6,119.99 92.0,120.30 92.4,120.59 92.8,120.78 93.2,120.90 93.6,121.10 94.0,121.13 94.4,121.00 94.8,120.94 95.2,121.24 95.6,121.37 96.0,121.34 96.4,121.11 96.8,120.99 97.2,120.80 97.6,120.91 98.0,121.09 98.4,121.34 98.8,121.51 99.2,121.66 99.6,121.62 100.0,121.57 100.4,121.41 100.8,121.48 101.2,121.70 101.6,121.92 102.0,121.82 102.4,121.60 102.8,121.56 103.2,121.43 103.6,121.38 104.0,121.33 104.4,121.39 104.8,121.44 105.2,121.53 105.6,121.47 106.0,121.59 106.4,121.71 106.8,121.67 107.2,121.56 107.6,121.62 108.0,121.74 108.4,121.72 108.8,121.67 109.2,121.40 109.6,121.29 110.0,121.44 110.4,121.75 110.8,121.72 111.2,121.63 111.6,121.60 112.0,121.65 112.4,121.63 112.8,121.62 113.2,121.57 113.6,121.68 114.0,121.64 114.4,121.65 114.8,121.52 115.2,121.51 115.6,121.53 116.0,121.64 116.4,121.78 116.8,121.76 117.2,121.58 117.6,121.44 118.0,121.19 118.4,120.93 118.8,120.45 119.2,119.68 119.6,118.10 120.0,116.04 120.4,114.60 120.6,114.49 120.8,114.66 121.2,115.90 121.6,117.80 122.0,119.51 122.4,120.53 122.8,121.01 123.2,121.06 123.6,120.89 124.0,120.39 124.4,119.62 124.8,118.93 125.0,118.74 125.2,118.83 125.6,119.56 126.0,120.36 126.4,120.95 126.8,121.19 127.2,121.37 127.6,121.42 128.0,121.59 128.4,121.67 128.8,121.71 129.2,121.77 129.6,121.60 130.0,121.40 130.4,121.12 130.8,121.31 131.2,121.50 131.6,121.76 132.0,121.79 132.4,121.69 132.8,121.74 133.2,121.81 133.6,121.82 134.0,121.59 134.4,121.57 134.8,121.57 135.2,121.57 135.6,121.49 136.0,121.45 136.4,121.25 136.8,121.16 137.2,121.12 137.6,121.19 138.0,121.28 138.4,121.52 138.8,121.67 139.2,121.65 139.6,121.65 140.0,121.62 140.4,121.52 140.8,121.55 141.2,121.58 141.6,121.64 142.0,121.66 142.4,121.77 142.8,121.97 143.2,121.88 143.6,121.72 144.0,121.54 144.4,121.77 144.8,121.84 145.2,121.68 145.6,121.64 146.0,121.65 146.4,121.70 146.8,121.69 147.2,121.74 147.6,121.68 148.0,121.66 148.4,121.72 148.8,121.76 149.2,121.66 149.6,121.64 150.0,121.55 150.4,121.48 150.8,121.61 151.2,121.81 151.6,121.96 152.0,121.77 152.4,121.69 152.8,121.63 153.2,121.59 153.6,121.60 154.0,121.61 154.4,121.67 154.8,121.53 155.2,121.63 155.6,121.76 156.0,121.90 156.4,121.75 156.8,121.62 157.2,121.69 157.6,121.78 158.0,121.80 158.4,121.74 158.8,121.67 159.2,121.73 159.6,121.64 160.0,121.65 160.4,121.59 160.8,121.61 161.2,121.57 161.6,121.67 162.0,121.80 162.4,121.70 162.8,121.67 163.2,121.78 163.6,121.87 164.0,121.94 164.4,121.96 164.8,121.97 165.2,121.93 165.6,121.81 166.0,121.61 166.4,121.46 166.8,121.46 167.2,121.53 167.6,121.63 168.0,121.71 168.4,121.69 168.8,121.66 169.2,121.64 169.6,121.60 170.0,121.70 170.4,121.73 170.8,121.71 171.2,121.66 171.6,121.67 172.0,121.66 172.4,121.49 172.8,121.51 173.2,121.57 173.6,121.73 174.0,121.75 174.4,121.64 174.8,121.75 175.2,121.84 175.6,121.94 176.0,121.63 176.4,121.62 176.8,121.70 177.2,121.80 177.6,121.75 178.0,121.84 178.4,121.87 178.8,121.74 179.2,121.73 179.6,121.84 180.0,121.86 180.4,121.93 180.8,121.98 181.2,121.93 181.6,121.77 182.0,121.74 182.4,121.75 182.8,121.76 183.2,121.73 183.6,121.68 184.0,121.70 184.4,121.79 184.8,121.86 185.2,121.90 185.6,121.89 186.0,121.87 186.4,121.79 186.8,121.73 187.2,121.77 187.6,121.68 188.0,121.65 188.4,121.87 188.8,121.94 189.2,121.90 189.6,121.61 190.0,121.70 190.4,121.75 190.8,122.03 191.2,121.92 191.6,121.63 192.0,121.39 192.4,121.48 192.8,121.55 193.2,121.54 193.6,121.40 194.0,121.39 194.4,121.46 194.8,121.56 195.2,121.50 195.6,121.60 196.0,121.49 196.4,121.62 196.8,121.57 197.2,121.72 197.6,121.60 198.0,121.61 198.4,121.63 198.8,121.66 199.2,121.60 199.6,121.64 200.0,121.67 200.4,121.81 200.8,121.79 201.2,121.74 201.6,121.66 202.0,121.76 202.4,121.76 202.8,121.66 203.2,121.71 203.6,121.75 204.0,121.65 204.4,121.55 204.8,121.56 205.2,121.41 205.6,121.24 206.0,121.37 206.4,121.66 206.8,121.83 207.2,121.83 207.6,121.68 208.0,121.65 208.4,121.75 208.8,121.80 209.2,121.77 209.6,121.70 210.0,121.73 210.4,121.70 210.8,121.62 211.2,121.66 211.6,121.64 212.0,121.69 212.4,121.55 212.8,121.64 213.2,121.70 213.6,121.73 214.0,121.79 214.4,121.81 214.8,121.75 215.2,121.40 215.6,121.29 216.0,121.36 216.4,121.50 216.8,121.43 217.2,121.48 217.6,121.64 218.0,121.83 218.4,121.83 218.8,121.57 219.2,121.19 219.6,120.70 220.0,120.43 220.4,120.39 220.8,120.68 221.2,120.92 221.6,121.14 222.0,121.28 222.4,121.44 222.8,121.76 223.2,121.92 223.6,121.84 224.0,121.61 224.4,121.49 224.8,121.55 225.2,121.55 225.6,121.52 226.0,121.33 226.4,121.36 226.8,121.30 227.2,121.30 227.6,121.12 228.0,121.01 228.4,121.02 228.8,120.99 229.2,120.79 229.6,120.67 230.0,120.68 230.4,120.60 230.8,120.11 231.2,119.70 231.6,119.14 232.0,118.39 232.4,116.60 232.8,112.50 233.2,104.02 233.6,92.18 233.9,84.50 234.0,82.94 234.4,82.35 234.8,90.34 235.2,99.26 235.6,100.65 236.0,89.76 236.4,69.93 236.6,60.38 236.7,56.43 236.8,53.21 237.0,50.74 237.2,53.47 237.6,70.99 238.0,92.79 238.4,107.81 238.8,114.76 239.2,117.22 239.6,118.29 240.0,119.02 240.4,119.54 240.8,119.81 241.2,119.97 241.6,120.39 242.0,120.74 242.4,120.85 242.8,120.82 243.2,120.96 243.6,121.10 244.0,121.01 244.4,121.01 244.8,121.09 245.2,121.32 245.6,121.27 246.0,121.34 246.4,121.33 246.8,121.29 247.2,121.31 247.6,121.40 248.0,121.53 248.4,121.46 248.8,121.58 249.2,121.69 249.6,121.80 250.0,121.78 250.4,121.58 250.8,121.32 251.2,121.28 251.6,121.39 252.0,121.53 252.4,121.57 252.8,121.54 253.2,121.39 253.6,121.31 254.0,121.35 254.4,121.42 254.8,121.58 255.2,121.78 255.6,121.74 256.0,121.59 256.4,121.62 256.8,121.82 257.2,121.87 257.6,121.56 258.0,121.35 258.4,121.38 258.8,121.55 259.2,121.76 259.6,121.82 260.0,121.84 260.4,121.61 260.8,121.50 261.2,121.43 261.6,121.47 262.0,121.54 262.4,121.63 262.8,121.71 263.2,121.80 263.6,121.69 264.0,121.63 264.4,121.61 264.8,121.84 265.2,121.84 265.6,121.80 266.0,121.64 266.4,121.66 266.8,121.69 267.2,121.71 267.6,121.62 268.0,121.59 268.4,121.69 268.8,121.66 269.2,121.68 269.6,121.67 270.0,121.87 270.4,121.97 270.8,121.95 271.2,121.71 271.6,121.78 272.0,121.94 272.4,121.98 272.8,121.76 273.2,121.68 273.6,121.71 274.0,121.81 274.4,121.75 274.8,121.75 275.2,121.78 275.6,121.75 276.0,121.69 276.4,121.71 276.8,121.81 277.2,121.72 277.6,121.72 278.0,121.56 278.4,121.58 278.8,121.49 279.2,121.58 279.6,121.40 280.0,121.44 280.4,121.54 280.8,121.79 281.2,121.88 281.6,121.76 282.0,121.79 282.4,121.88 282.8,121.87 283.2,121.62 283.6,121.47 284.0,121.56 284.4,121.65 284.8,121.51 285.2,121.49 285.6,121.53 286.0,121.61 286.4,121.62 286.8,121.66 287.2,121.79 287.6,121.79 288.0,121.78 288.4,121.76 288.8,121.81 289.2,121.78 289.6,121.54 290.0,121.40 290.4,121.51 290.8,121.64 291.2,121.79 291.6,121.81 292.0,121.79 292.4,121.68 292.8,121.59 293.2,121.53 293.6,121.46 294.0,121.32 294.4,121.14 294.8,121.25 295.2,121.44 295.6,121.52 296.0,121.34 296.4,121.28 296.8,121.34 297.2,121.46 297.6,121.42 298.0,121.42 298.4,121.40 298.8,121.31 299.2,121.20 299.6,121.01 300.0,120.89 300.4,120.61 300.8,120.43 301.2,120.06 301.6,119.77 302.0,119.31 302.4,118.48 302.8,115.26 303.2,101.95 303.6,79.56 303.7,76.28 303.8,75.03 303.9,76.03 304.0,79.18 304.4,101.61 304.8,115.02 305.2,118.30 305.6,118.94 306.0,119.49 306.4,119.66 306.8,119.69 307.2,119.23 307.6,118.19 308.0,115.81 308.4,111.81 308.8,107.28 309.0,105.53 309.2,105.05 309.6,107.63 310.0,112.36 310.4,116.34 310.8,118.89 311.2,120.15 311.6,120.58 312.0,120.76 312.4,120.91 312.8,121.15 313.2,121.33 313.6,121.38 314.0,121.31 314.4,121.39 314.8,121.44 315.2,121.49 315.6,121.49 316.0,121.63 316.4,121.75 316.8,121.66 317.2,121.49 317.6,121.50 318.0,121.61 318.4,121.66 318.8,121.67 319.2,121.75 319.6,121.70 320.0,121.68 320.4,121.69 320.8,121.59 321.2,121.45 321.6,121.35 322.0,121.59 322.4,121.75 322.8,121.82 323.2,121.71 323.6,121.64 324.0,121.53 324.4,121.56 324.8,121.60 325.2,121.73 325.6,121.69 326.0,121.61 326.4,121.31 326.8,120.95 327.2,120.42 327.6,119.93 328.0,119.83 328.4,120.08 328.8,120.53 329.2,120.98 329.6,121.34 330.0,121.40 330.4,121.40 330.8,121.33 331.2,121.40 331.6,121.52 332.0,121.69 332.4,121.66 332.8,121.69 333.2,121.89 333.6,121.95 334.0,121.94 334.4,121.75 334.8,121.73 335.2,121.67 335.6,121.69 336.0,121.60 336.4,121.54 336.8,121.56"/>
</g>
<text x="339.2" y="106.00" fill="#111111" stroke="#111111" stroke-width="0.12" class="lb">50.51 <tspan letter-spacing="0.4">at%S</tspan></text>
<text x="339.2" y="114.54" fill="#6a2630" stroke="#6a2630" stroke-width="0.12" class="lb">50.01 <tspan letter-spacing="0.4">at%S</tspan></text>
<text x="339.2" y="123.08" fill="#ff2040" stroke="#ff2040" stroke-width="0.12" class="lb">49.91 <tspan letter-spacing="0.4">at%S</tspan></text>
<text x="339.2" y="131.62" fill="#ff6a30" stroke="#ff6a30" stroke-width="0.12" class="lb">49.88 <tspan letter-spacing="0.4">at%S</tspan></text>
<text x="339.2" y="140.16" fill="#ffaa22" stroke="#ffaa22" stroke-width="0.12" class="lb">49.76 <tspan letter-spacing="0.4">at%S</tspan></text>
<text x="339.2" y="148.70" fill="#66dd22" stroke="#66dd22" stroke-width="0.12" class="lb">49.62 <tspan letter-spacing="0.4">at%S</tspan></text>
<text x="339.2" y="157.24" fill="#22aa22" stroke="#22aa22" stroke-width="0.12" class="lb">49.49 <tspan letter-spacing="0.4">at%S</tspan></text>
<text x="339.2" y="165.78" fill="#66ddee" stroke="#66ddee" stroke-width="0.12" class="lb">49.25 <tspan letter-spacing="0.4">at%S</tspan></text>
<text x="339.2" y="174.32" fill="#1a2acc" stroke="#1a2acc" stroke-width="0.12" class="lb">49.00 <tspan letter-spacing="0.4">at%S</tspan></text>
<text x="339.2" y="182.86" fill="#3a2a9a" stroke="#3a2a9a" stroke-width="0.12" class="lb">48.50 <tspan letter-spacing="0.4">at%S</tspan></text>
<text x="339.2" y="191.40" fill="#bb44ee" stroke="#bb44ee" stroke-width="0.12" class="lb">48.00 <tspan letter-spacing="0.4">at%S</tspan></text>
<text class="hk" x="11.8" y="88.8" text-anchor="middle">011</text>
<text class="hk" x="86.8" y="10.3" text-anchor="middle">112</text>
<text class="hk" x="97.35" y="88.6" text-anchor="middle">013</text>
<text class="hk" x="121.15" y="80.0" text-anchor="middle">020</text>
<text class="hk" x="135.6" y="89.4" text-anchor="middle">004</text>
<text class="hk" x="160.85" y="89.4" text-anchor="middle">121</text>
<text class="hk" x="206.45" y="95.9" text-anchor="middle">123</text>
<text class="hk" x="220.35" y="85.6" text-anchor="middle">015</text>
<text class="hk" x="220.55" y="57.0" text-anchor="middle">220</text>
<text class="hk" x="236.85" y="21.0" text-anchor="middle">024</text>
<text class="hk" x="305.0" y="52.0" text-anchor="middle">132</text>
<text class="hk" x="316.15" y="68.7" text-anchor="middle">116</text>
<text class="hk" x="328.15" y="89.3" text-anchor="middle">224</text>
<line x1="5.9" y1="92.7" x2="5.9" y2="98.0" stroke="#5a5a5a" stroke-width="0.48"/>
<polygon points="5.9,90.4 4.4,92.7 7.4,92.7" fill="#fff" stroke="#5a5a5a" stroke-width="0.6" stroke-linejoin="round"/>
<polygon points="5.9,100.3 4.4,98.0 7.4,98.0" fill="#fff" stroke="#5a5a5a" stroke-width="0.6" stroke-linejoin="round"/>
<line x1="86.1" y1="13.399999999999999" x2="86.1" y2="19.7" stroke="#5a5a5a" stroke-width="0.48"/>
<polygon points="86.1,11.1 84.6,13.399999999999999 87.6,13.399999999999999" fill="#fff" stroke="#5a5a5a" stroke-width="0.6" stroke-linejoin="round"/>
<polygon points="86.1,22.0 84.6,19.7 87.6,19.7" fill="#fff" stroke="#5a5a5a" stroke-width="0.6" stroke-linejoin="round"/>
<line x1="97.3" y1="92.8" x2="97.3" y2="97.7" stroke="#5a5a5a" stroke-width="0.48"/>
<polygon points="97.3,90.5 95.8,92.8 98.8,92.8" fill="#fff" stroke="#5a5a5a" stroke-width="0.6" stroke-linejoin="round"/>
<polygon points="97.3,100.0 95.8,97.7 98.8,97.7" fill="#fff" stroke="#5a5a5a" stroke-width="0.6" stroke-linejoin="round"/>
<line x1="120.9" y1="84.7" x2="120.9" y2="90.3" stroke="#5a5a5a" stroke-width="0.48"/>
<polygon points="120.9,82.4 119.4,84.7 122.4,84.7" fill="#fff" stroke="#5a5a5a" stroke-width="0.6" stroke-linejoin="round"/>
<polygon points="120.9,92.6 119.4,90.3 122.4,90.3" fill="#fff" stroke="#5a5a5a" stroke-width="0.6" stroke-linejoin="round"/>
<line x1="160.9" y1="94.1" x2="160.9" y2="99.60000000000001" stroke="#5a5a5a" stroke-width="0.48"/>
<polygon points="160.9,91.8 159.4,94.1 162.4,94.1" fill="#fff" stroke="#5a5a5a" stroke-width="0.6" stroke-linejoin="round"/>
<polygon points="160.9,101.9 159.4,99.60000000000001 162.4,99.60000000000001" fill="#fff" stroke="#5a5a5a" stroke-width="0.6" stroke-linejoin="round"/>
<line x1="221.0" y1="89.0" x2="221.0" y2="92.4" stroke="#5a5a5a" stroke-width="0.48"/>
<polygon points="221.0,86.7 219.5,89.0 222.5,89.0" fill="#fff" stroke="#5a5a5a" stroke-width="0.6" stroke-linejoin="round"/>
<polygon points="221.0,94.7 219.5,92.4 222.5,92.4" fill="#fff" stroke="#5a5a5a" stroke-width="0.6" stroke-linejoin="round"/>
<line x1="236.9" y1="24.7" x2="236.9" y2="29.7" stroke="#5a5a5a" stroke-width="0.48"/>
<polygon points="236.9,22.4 235.4,24.7 238.4,24.7" fill="#fff" stroke="#5a5a5a" stroke-width="0.6" stroke-linejoin="round"/>
<polygon points="236.9,32.0 235.4,29.7 238.4,29.7" fill="#fff" stroke="#5a5a5a" stroke-width="0.6" stroke-linejoin="round"/>
<line x1="304.1" y1="56.3" x2="304.1" y2="61.300000000000004" stroke="#5a5a5a" stroke-width="0.48"/>
<polygon points="304.1,54.0 302.6,56.3 305.6,56.3" fill="#fff" stroke="#5a5a5a" stroke-width="0.6" stroke-linejoin="round"/>
<polygon points="304.1,63.6 302.6,61.300000000000004 305.6,61.300000000000004" fill="#fff" stroke="#5a5a5a" stroke-width="0.6" stroke-linejoin="round"/>
<line x1="309.9" y1="73.0" x2="309.9" y2="78.4" stroke="#5a5a5a" stroke-width="0.48"/>
<polygon points="309.9,70.7 308.4,73.0 311.4,73.0" fill="#fff" stroke="#5a5a5a" stroke-width="0.6" stroke-linejoin="round"/>
<polygon points="309.9,80.7 308.4,78.4 311.4,78.4" fill="#fff" stroke="#5a5a5a" stroke-width="0.6" stroke-linejoin="round"/>
<line x1="328.4" y1="93.0" x2="328.4" y2="97.0" stroke="#5a5a5a" stroke-width="0.48"/>
<polygon points="328.4,90.7 326.9,93.0 329.9,93.0" fill="#fff" stroke="#5a5a5a" stroke-width="0.6" stroke-linejoin="round"/>
<polygon points="328.4,99.3 326.9,97.0 329.9,97.0" fill="#fff" stroke="#5a5a5a" stroke-width="0.6" stroke-linejoin="round"/>
<g transform="translate(129.9,94.8) rotate(52)"><line x1="0" y1="-4.3" x2="0" y2="4.3" stroke="#5a5a5a" stroke-width="0.48"/>
<polygon points="0,-6.6 -1.5,-4.3 1.5,-4.3" fill="#fff" stroke="#5a5a5a" stroke-width="0.6" stroke-linejoin="round"/>
<polygon points="0,6.6 -1.5,4.3 1.5,4.3" fill="#fff" stroke="#5a5a5a" stroke-width="0.6" stroke-linejoin="round"/></g>
<g transform="translate(212.4,99.0) rotate(-45)"><line x1="0" y1="-1.1" x2="0" y2="1.1" stroke="#555" stroke-width="0.48"/>
<polygon points="0,-2.6 -1.1,-1.1 1.1,-1.1" fill="#fff" stroke="#555" stroke-width="0.6" stroke-linejoin="round"/>
<polygon points="0,2.6 -1.1,1.1 1.1,1.1" fill="#fff" stroke="#555" stroke-width="0.6" stroke-linejoin="round"/></g>
<g transform="translate(230.6,60.6) rotate(-40)"><line x1="0" y1="-1.7999999999999998" x2="0" y2="1.7999999999999998" stroke="#555" stroke-width="0.48"/>
<polygon points="0,-3.4 -1.2,-1.7999999999999998 1.2,-1.7999999999999998" fill="#fff" stroke="#555" stroke-width="0.6" stroke-linejoin="round"/>
<polygon points="0,3.4 -1.2,1.7999999999999998 1.2,1.7999999999999998" fill="#fff" stroke="#555" stroke-width="0.6" stroke-linejoin="round"/></g>
<polygon points="65.90,96.30 69.90,96.30 67.90,99.70" fill="#e6f01e"/>
<polygon points="74.40,96.30 78.40,96.30 76.40,99.70" fill="#e6f01e"/>
<polygon points="103.40,97.60 107.40,97.60 105.40,101.00" fill="#e6f01e"/>
<polygon points="109.90,94.90 113.90,94.90 111.90,98.30" fill="#e6f01e"/>
<polygon points="133.10,96.60 137.10,96.60 135.10,100.00" fill="#e6f01e"/>
<polygon points="218.40,93.00 222.40,93.00 220.40,96.40" fill="#e6f01e"/>
<polygon points="285.30,97.60 289.30,97.60 287.30,101.00" fill="#e6f01e"/>
<polygon points="80.20,93.80 80.81,95.23 82.25,94.65 81.67,96.09 83.10,96.70 81.67,97.31 82.25,98.75 80.81,98.17 80.20,99.60 79.59,98.17 78.15,98.75 78.73,97.31 77.30,96.70 78.73,96.09 78.15,94.65 79.59,95.23" fill="#33e61e"/>
<polygon points="114.80,93.50 115.41,94.93 116.85,94.35 116.27,95.79 117.70,96.40 116.27,97.01 116.85,98.45 115.41,97.87 114.80,99.30 114.19,97.87 112.75,98.45 113.33,97.01 111.90,96.40 113.33,95.79 112.75,94.35 114.19,94.93" fill="#33e61e"/>
<polygon points="145.40,94.40 146.01,95.83 147.45,95.25 146.87,96.69 148.30,97.30 146.87,97.91 147.45,99.35 146.01,98.77 145.40,100.20 144.79,98.77 143.35,99.35 143.93,97.91 142.50,97.30 143.93,96.69 143.35,95.25 144.79,95.83" fill="#33e61e"/>
<polygon points="173.20,95.10 173.81,96.53 175.25,95.95 174.67,97.39 176.10,98.00 174.67,98.61 175.25,100.05 173.81,99.47 173.20,100.90 172.59,99.47 171.15,100.05 171.73,98.61 170.30,98.00 171.73,97.39 171.15,95.95 172.59,96.53" fill="#33e61e"/>
<polygon points="225.10,93.70 225.71,95.13 227.15,94.55 226.57,95.99 228.00,96.60 226.57,97.21 227.15,98.65 225.71,98.07 225.10,99.50 224.49,98.07 223.05,98.65 223.63,97.21 222.20,96.60 223.63,95.99 223.05,94.55 224.49,95.13" fill="#33e61e"/>
<polygon points="291.30,91.50 291.91,92.93 293.35,92.35 292.77,93.79 294.20,94.40 292.77,95.01 293.35,96.45 291.91,95.87 291.30,97.30 290.69,95.87 289.25,96.45 289.83,95.01 288.40,94.40 289.83,93.79 289.25,92.35 290.69,92.93" fill="#33e61e"/>
<polygon points="334.10,96.40 334.71,97.83 336.15,97.25 335.57,98.69 337.00,99.30 335.57,99.91 336.15,101.35 334.71,100.77 334.10,102.20 333.49,100.77 332.05,101.35 332.63,99.91 331.20,99.30 332.63,98.69 332.05,97.25 333.49,97.83" fill="#33e61e"/>
<line x1="19.2" y1="193.0" x2="19.2" y2="199.6" stroke="#ff2a2a" stroke-width="0.8"/>
<polygon points="19.2,192.1 17.8,193.9 20.599999999999998,193.9" fill="#ff2a2a"/>
<polygon points="19.2,200.5 17.8,198.7 20.599999999999998,198.7" fill="#ff2a2a"/>
<line x1="43.3" y1="193.0" x2="43.3" y2="199.6" stroke="#ff2a2a" stroke-width="0.8"/>
<polygon points="43.3,192.1 41.9,193.9 44.699999999999996,193.9" fill="#ff2a2a"/>
<polygon points="43.3,200.5 41.9,198.7 44.699999999999996,198.7" fill="#ff2a2a"/>
<line x1="65.0" y1="193.0" x2="65.0" y2="199.6" stroke="#ff2a2a" stroke-width="0.8"/>
<polygon points="65.0,192.1 63.6,193.9 66.4,193.9" fill="#ff2a2a"/>
<polygon points="65.0,200.5 63.6,198.7 66.4,198.7" fill="#ff2a2a"/>
<line x1="85.3" y1="193.0" x2="85.3" y2="199.6" stroke="#ff2a2a" stroke-width="0.8"/>
<polygon points="85.3,192.1 83.89999999999999,193.9 86.7,193.9" fill="#ff2a2a"/>
<polygon points="85.3,200.5 83.89999999999999,198.7 86.7,198.7" fill="#ff2a2a"/>
<line x1="103.8" y1="193.0" x2="103.8" y2="199.6" stroke="#ff2a2a" stroke-width="0.8"/>
<polygon points="103.8,192.1 102.39999999999999,193.9 105.2,193.9" fill="#ff2a2a"/>
<polygon points="103.8,200.5 102.39999999999999,198.7 105.2,198.7" fill="#ff2a2a"/>
<line x1="121.6" y1="192.9" x2="121.6" y2="196.5" stroke="#ff2a2a" stroke-width="0.8"/>
<polygon points="121.6,192.0 120.19999999999999,193.8 123.0,193.8" fill="#ff2a2a"/>
<polygon points="121.6,197.4 120.19999999999999,195.6 123.0,195.6" fill="#ff2a2a"/>
<line x1="137.0" y1="192.9" x2="137.0" y2="201.9" stroke="#ff2a2a" stroke-width="0.8"/>
<polygon points="137.0,192.0 135.6,193.8 138.4,193.8" fill="#ff2a2a"/>
<polygon points="137.0,202.8 135.6,201.0 138.4,201.0" fill="#ff2a2a"/>
<line x1="167.3" y1="192.1" x2="167.3" y2="198.9" stroke="#ff2a2a" stroke-width="0.8"/>
<polygon points="167.3,191.2 165.9,193.0 168.70000000000002,193.0" fill="#ff2a2a"/>
<polygon points="167.3,199.8 165.9,198.0 168.70000000000002,198.0" fill="#ff2a2a"/>
<line x1="194.1" y1="192.1" x2="194.1" y2="198.9" stroke="#ff2a2a" stroke-width="0.8"/>
<polygon points="194.1,191.2 192.7,193.0 195.5,193.0" fill="#ff2a2a"/>
<polygon points="194.1,199.8 192.7,198.0 195.5,198.0" fill="#ff2a2a"/>
<line x1="233.5" y1="192.20000000000002" x2="233.5" y2="200.5" stroke="#ff2a2a" stroke-width="0.8"/>
<polygon points="233.5,191.3 232.1,193.10000000000002 234.9,193.10000000000002" fill="#ff2a2a"/>
<polygon points="233.5,201.4 232.1,199.6 234.9,199.6" fill="#ff2a2a"/>
<line x1="302.1" y1="192.3" x2="302.1" y2="199.2" stroke="#ff2a2a" stroke-width="0.8"/>
<polygon points="302.1,191.4 300.70000000000005,193.20000000000002 303.5,193.20000000000002" fill="#ff2a2a"/>
<polygon points="302.1,200.1 300.70000000000005,198.29999999999998 303.5,198.29999999999998" fill="#ff2a2a"/>
<line x1="325.0" y1="192.3" x2="325.0" y2="199.2" stroke="#ff2a2a" stroke-width="0.8"/>
<polygon points="325.0,191.4 323.6,193.20000000000002 326.4,193.20000000000002" fill="#ff2a2a"/>
<polygon points="325.0,200.1 323.6,198.29999999999998 326.4,198.29999999999998" fill="#ff2a2a"/>
<text class="rl" x="18.85" y="208.8" text-anchor="middle">112</text>
<text class="rl" x="40.4" y="208.8" text-anchor="middle">022</text>
<text class="rl" x="62.9" y="208.8" text-anchor="middle">013</text>
<text class="rl" x="85.0" y="208.8" text-anchor="middle">222</text>
<text class="rl" x="106.75" y="208.5" text-anchor="middle">123</text>
<text class="rl" x="124.0" y="205.6" text-anchor="middle">004</text>
<text class="rl" x="141.0" y="210.5" text-anchor="middle">114</text>
<text class="rl" x="140.6" y="222.1" text-anchor="middle">033</text>
<text class="rl" x="167.45" y="208.1" text-anchor="middle">233</text>
<text class="rl" x="194.25" y="208.1" text-anchor="middle">015</text>
<text class="rl" x="194.45" y="220.5" text-anchor="middle">134</text>
<text class="rl" x="233.25" y="208.6" text-anchor="middle">044</text>
<text class="rl" x="302.25" y="208.5" text-anchor="middle">226</text>
<text class="rl" x="325.0" y="208.5" text-anchor="middle">444</text>
<line x1="85.3" y1="211.55" x2="85.3" y2="225.95" stroke="#3c5af0" stroke-width="0.7"/>
<polygon points="85.3,210.8 84.2,212.3 86.39999999999999,212.3" fill="#3c5af0"/>
<polygon points="85.3,226.7 84.2,225.2 86.39999999999999,225.2" fill="#3c5af0"/>
<line x1="121.8" y1="207.05" x2="121.8" y2="225.95" stroke="#3c5af0" stroke-width="0.7"/>
<polygon points="121.8,206.3 120.7,207.8 122.89999999999999,207.8" fill="#3c5af0"/>
<polygon points="121.8,226.7 120.7,225.2 122.89999999999999,225.2" fill="#3c5af0"/>
<line x1="234.0" y1="211.45" x2="234.0" y2="225.05" stroke="#3c5af0" stroke-width="0.7"/>
<polygon points="234.0,210.7 232.9,212.2 235.1,212.2" fill="#3c5af0"/>
<polygon points="234.0,225.8 232.9,224.3 235.1,224.3" fill="#3c5af0"/>
<line x1="302.4" y1="211.75" x2="302.4" y2="225.55" stroke="#3c5af0" stroke-width="0.7"/>
<polygon points="302.4,211.0 301.29999999999995,212.5 303.5,212.5" fill="#3c5af0"/>
<polygon points="302.4,226.3 301.29999999999995,224.8 303.5,224.8" fill="#3c5af0"/>
<line x1="325.0" y1="211.75" x2="325.0" y2="225.55" stroke="#3c5af0" stroke-width="0.7"/>
<polygon points="325.0,211.0 323.9,212.5 326.1,212.5" fill="#3c5af0"/>
<polygon points="325.0,226.3 323.9,224.8 326.1,224.8" fill="#3c5af0"/>
<text class="bl" x="85.95" y="235.2" text-anchor="middle">111</text>
<text class="bl" x="124.4" y="235.2" text-anchor="middle">002</text>
<text class="bl" x="234.7" y="235.2" text-anchor="middle">022</text>
<text class="bl" x="303.4" y="235.0" text-anchor="middle">113</text>
<text class="bl" x="325.8" y="235.0" text-anchor="middle">222</text>
<line x1="0" y1="237.4" x2="337.5" y2="237.4" stroke="#555" stroke-width="0.7"/>
<line x1="-0.26" y1="237.4" x2="-0.26" y2="238.9" stroke="#333" stroke-width="0.7"/>
<line x1="7.37" y1="237.4" x2="7.37" y2="238.9" stroke="#333" stroke-width="0.7"/>
<line x1="15.00" y1="237.4" x2="15.00" y2="240.6" stroke="#333" stroke-width="0.8"/>
<line x1="22.63" y1="237.4" x2="22.63" y2="238.9" stroke="#333" stroke-width="0.7"/>
<line x1="30.26" y1="237.4" x2="30.26" y2="238.9" stroke="#333" stroke-width="0.7"/>
<line x1="37.89" y1="237.4" x2="37.89" y2="238.9" stroke="#333" stroke-width="0.7"/>
<line x1="45.52" y1="237.4" x2="45.52" y2="238.9" stroke="#333" stroke-width="0.7"/>
<line x1="53.15" y1="237.4" x2="53.15" y2="239.6" stroke="#333" stroke-width="0.7"/>
<line x1="60.78" y1="237.4" x2="60.78" y2="238.9" stroke="#333" stroke-width="0.7"/>
<line x1="68.41" y1="237.4" x2="68.41" y2="238.9" stroke="#333" stroke-width="0.7"/>
<line x1="76.04" y1="237.4" x2="76.04" y2="238.9" stroke="#333" stroke-width="0.7"/>
<line x1="83.67" y1="237.4" x2="83.67" y2="238.9" stroke="#333" stroke-width="0.7"/>
<line x1="91.30" y1="237.4" x2="91.30" y2="240.6" stroke="#333" stroke-width="0.8"/>
<line x1="98.93" y1="237.4" x2="98.93" y2="238.9" stroke="#333" stroke-width="0.7"/>
<line x1="106.56" y1="237.4" x2="106.56" y2="238.9" stroke="#333" stroke-width="0.7"/>
<line x1="114.19" y1="237.4" x2="114.19" y2="238.9" stroke="#333" stroke-width="0.7"/>
<line x1="121.82" y1="237.4" x2="121.82" y2="238.9" stroke="#333" stroke-width="0.7"/>
<line x1="129.45" y1="237.4" x2="129.45" y2="239.6" stroke="#333" stroke-width="0.7"/>
<line x1="137.08" y1="237.4" x2="137.08" y2="238.9" stroke="#333" stroke-width="0.7"/>
<line x1="144.71" y1="237.4" x2="144.71" y2="238.9" stroke="#333" stroke-width="0.7"/>
<line x1="152.34" y1="237.4" x2="152.34" y2="238.9" stroke="#333" stroke-width="0.7"/>
<line x1="159.97" y1="237.4" x2="159.97" y2="238.9" stroke="#333" stroke-width="0.7"/>
<line x1="167.60" y1="237.4" x2="167.60" y2="240.6" stroke="#333" stroke-width="0.8"/>
<line x1="175.23" y1="237.4" x2="175.23" y2="238.9" stroke="#333" stroke-width="0.7"/>
<line x1="182.86" y1="237.4" x2="182.86" y2="238.9" stroke="#333" stroke-width="0.7"/>
<line x1="190.49" y1="237.4" x2="190.49" y2="238.9" stroke="#333" stroke-width="0.7"/>
<line x1="198.12" y1="237.4" x2="198.12" y2="238.9" stroke="#333" stroke-width="0.7"/>
<line x1="205.75" y1="237.4" x2="205.75" y2="239.6" stroke="#333" stroke-width="0.7"/>
<line x1="213.38" y1="237.4" x2="213.38" y2="238.9" stroke="#333" stroke-width="0.7"/>
<line x1="221.01" y1="237.4" x2="221.01" y2="238.9" stroke="#333" stroke-width="0.7"/>
<line x1="228.64" y1="237.4" x2="228.64" y2="238.9" stroke="#333" stroke-width="0.7"/>
<line x1="236.27" y1="237.4" x2="236.27" y2="238.9" stroke="#333" stroke-width="0.7"/>
<line x1="243.90" y1="237.4" x2="243.90" y2="240.6" stroke="#333" stroke-width="0.8"/>
<line x1="251.53" y1="237.4" x2="251.53" y2="238.9" stroke="#333" stroke-width="0.7"/>
<line x1="259.16" y1="237.4" x2="259.16" y2="238.9" stroke="#333" stroke-width="0.7"/>
<line x1="266.79" y1="237.4" x2="266.79" y2="238.9" stroke="#333" stroke-width="0.7"/>
<line x1="274.42" y1="237.4" x2="274.42" y2="238.9" stroke="#333" stroke-width="0.7"/>
<line x1="282.05" y1="237.4" x2="282.05" y2="239.6" stroke="#333" stroke-width="0.7"/>
<line x1="289.68" y1="237.4" x2="289.68" y2="238.9" stroke="#333" stroke-width="0.7"/>
<line x1="297.31" y1="237.4" x2="297.31" y2="238.9" stroke="#333" stroke-width="0.7"/>
<line x1="304.94" y1="237.4" x2="304.94" y2="238.9" stroke="#333" stroke-width="0.7"/>
<line x1="312.57" y1="237.4" x2="312.57" y2="238.9" stroke="#333" stroke-width="0.7"/>
<line x1="320.20" y1="237.4" x2="320.20" y2="240.6" stroke="#333" stroke-width="0.8"/>
<line x1="327.83" y1="237.4" x2="327.83" y2="238.9" stroke="#333" stroke-width="0.7"/>
<line x1="335.46" y1="237.4" x2="335.46" y2="238.9" stroke="#333" stroke-width="0.7"/>
<text class="ax" x="14.70" y="248.0" text-anchor="middle">20</text>
<text class="ax" x="91.00" y="248.0" text-anchor="middle">30</text>
<text class="ax" x="167.30" y="248.0" text-anchor="middle">40</text>
<text class="ax" x="243.60" y="248.0" text-anchor="middle">50</text>
<text class="ax" x="319.90" y="248.0" text-anchor="middle">60</text>
<text class="xl" x="136.2" y="258.1">2Θ / ° (Cu-K<tspan font-size="6.0" dy="1.5">α1/2</tspan><tspan dy="-1.5">)</tspan></text>
<line x1="326.6" y1="4.8" x2="326.6" y2="7.0" stroke="#222" stroke-width="0.7200000000000001"/>
<polygon points="326.6,1.4 324.3,4.8 328.90000000000003,4.8" fill="#fff" stroke="#222" stroke-width="0.9" stroke-linejoin="round"/>
<polygon points="326.6,10.4 324.3,7.0 328.90000000000003,7.0" fill="#fff" stroke="#222" stroke-width="0.9" stroke-linejoin="round"/>
<line x1="326.6" y1="15.399999999999999" x2="326.6" y2="20.5" stroke="#ff2020" stroke-width="1.2"/>
<polygon points="326.6,14.2 324.70000000000005,16.599999999999998 328.5,16.599999999999998" fill="#ff2020"/>
<polygon points="326.6,21.7 324.70000000000005,19.3 328.5,19.3" fill="#ff2020"/>
<line x1="326.6" y1="28.5" x2="326.6" y2="32.8" stroke="#2a4ae8" stroke-width="1.2"/>
<polygon points="326.6,27.3 324.70000000000005,29.7 328.5,29.7" fill="#2a4ae8"/>
<polygon points="326.6,34.0 324.70000000000005,31.6 328.5,31.6" fill="#2a4ae8"/>
<polygon points="324.00,38.85 328.80,38.85 326.40,43.15" fill="#dfee22"/>
<polygon points="326.40,48.20 327.05,49.72 328.59,49.11 327.98,50.65 329.50,51.30 327.98,51.95 328.59,53.49 327.05,52.88 326.40,54.40 325.75,52.88 324.21,53.49 324.82,51.95 323.30,51.30 324.82,50.65 324.21,49.11 325.75,49.72" fill="#22e61e"/>
<text class="lg" x="330.2" y="8.6" fill="#1a1a1a" stroke="#1a1a1a" stroke-width="0.2">chalcopyrite</text>
<text class="lg" x="330.2" y="20.1" fill="#ff2020" stroke="#ff2020" stroke-width="0.2">talnakhite</text>
<text class="lg" x="330.2" y="31.6" fill="#3a5aee" stroke="#3a5aee" stroke-width="0.2">isocubanite</text>
<text class="lg" x="330.2" y="42.2" fill="#d8ee22" stroke="#d8ee22" stroke-width="0.2">bornite</text>
<text class="lg" x="330.2" y="52.7" fill="#3ae626" stroke="#3ae626" stroke-width="0.2">pyrite</text>
</svg>
</body></html>
